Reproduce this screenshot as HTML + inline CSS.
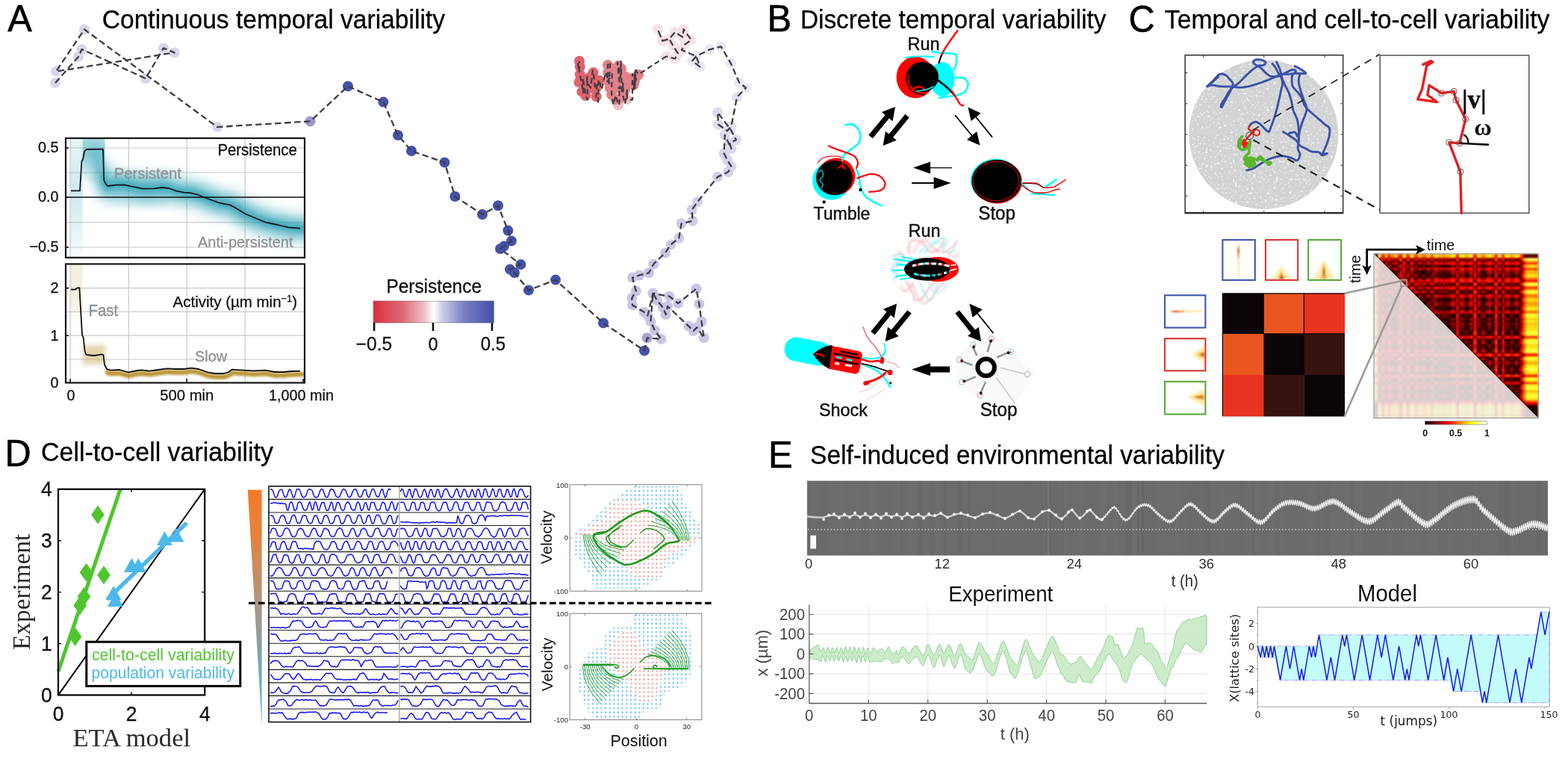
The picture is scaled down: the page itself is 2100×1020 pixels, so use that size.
<!DOCTYPE html>
<html lang="en"><head><meta charset="utf-8"><title>Behavioral variability figure</title>
<style>html,body{margin:0;padding:0;background:#fff;overflow:hidden}svg{display:block}</style></head>
<body>
<svg width="2100" height="1020" viewBox="0 0 2100 1020" font-family="'Liberation Sans', sans-serif">
<rect width="2100" height="1020" fill="#fff"/>
<g id="panel_a">
<g stroke="#000" stroke-width="0.6"><text x="10.2" y="42.2" font-size="50.75" fill="#000" textLength="32.6" lengthAdjust="spacingAndGlyphs">A</text></g>
<g stroke="#000" stroke-width="0.3"><text x="136.7" y="37.6" font-size="34.93" fill="#000" textLength="459.3" lengthAdjust="spacingAndGlyphs">Continuous temporal variability</text></g>
<circle cx="74.0" cy="111.0" r="7.0" fill="#d8d6eb"/><circle cx="105.0" cy="76.0" r="7.0" fill="#d8d6eb"/><circle cx="109.6" cy="66.0" r="7.0" fill="#d8d6eb"/><circle cx="195.0" cy="105.0" r="7.0" fill="#d8d6eb"/><circle cx="219.0" cy="64.4" r="7.0" fill="#d8d6eb"/><circle cx="233.6" cy="70.4" r="7.0" fill="#d8d6eb"/><circle cx="75.0" cy="95.6" r="7.0" fill="#d8d6eb"/><circle cx="113.0" cy="39.4" r="7.0" fill="#d8d6eb"/><circle cx="291.0" cy="170.0" r="7.0" fill="#d8d6eb"/>
<circle cx="415.5" cy="162.4" r="7.0" fill="#9c98d0"/>
<circle cx="885.5" cy="453.9" r="7.0" fill="#c9c6e5"/><circle cx="876.8" cy="442.1" r="7.0" fill="#c9c6e5"/><circle cx="871.4" cy="430.4" r="7.0" fill="#c9c6e5"/><circle cx="874.5" cy="392.7" r="7.0" fill="#c9c6e5"/><circle cx="880.0" cy="402.0" r="7.0" fill="#c9c6e5"/><circle cx="887.8" cy="411.6" r="7.0" fill="#c9c6e5"/><circle cx="891.7" cy="421.0" r="7.0" fill="#c9c6e5"/><circle cx="894.1" cy="410.0" r="7.0" fill="#c9c6e5"/><circle cx="922.3" cy="436.6" r="7.0" fill="#c9c6e5"/><circle cx="928.6" cy="443.0" r="7.0" fill="#c9c6e5"/><circle cx="933.3" cy="438.2" r="7.0" fill="#c9c6e5"/><circle cx="942.7" cy="452.3" r="7.0" fill="#c9c6e5"/><circle cx="939.6" cy="430.4" r="7.0" fill="#c9c6e5"/><circle cx="936.4" cy="406.9" r="7.0" fill="#c9c6e5"/><circle cx="932.5" cy="386.5" r="7.0" fill="#c9c6e5"/><circle cx="908.2" cy="406.0" r="7.0" fill="#c9c6e5"/><circle cx="896.5" cy="396.7" r="7.0" fill="#c9c6e5"/><circle cx="874.5" cy="392.7" r="7.0" fill="#c9c6e5"/><circle cx="867.4" cy="422.5" r="7.0" fill="#c9c6e5"/><circle cx="862.7" cy="417.8" r="7.0" fill="#c9c6e5"/><circle cx="847.0" cy="408.4" r="7.0" fill="#c9c6e5"/><circle cx="846.3" cy="399.0" r="7.0" fill="#c9c6e5"/><circle cx="851.8" cy="389.6" r="7.0" fill="#c9c6e5"/><circle cx="847.0" cy="371.6" r="7.0" fill="#c9c6e5"/><circle cx="856.5" cy="368.4" r="7.0" fill="#c9c6e5"/><circle cx="869.0" cy="365.3" r="7.0" fill="#c9c6e5"/><circle cx="875.3" cy="353.5" r="7.0" fill="#c9c6e5"/><circle cx="891.0" cy="338.4" r="7.0" fill="#c9c6e5"/>
<circle cx="866.7" cy="452.3" r="7.0" fill="#a7a4d7"/>
<circle cx="898.5" cy="327.4" r="7.0" fill="#cdcae7"/>
<circle cx="909.3" cy="318.7" r="7.0" fill="#cecbe7"/>
<circle cx="912.6" cy="299.3" r="7.0" fill="#cfcce8"/>
<circle cx="927.7" cy="295.7" r="7.0" fill="#d0cde8"/>
<circle cx="926.6" cy="281.0" r="7.0" fill="#d1cee9"/>
<circle cx="934.1" cy="270.2" r="7.0" fill="#d2cfe9"/>
<circle cx="961.1" cy="236.8" r="7.0" fill="#d3d0ea"/>
<circle cx="975.1" cy="230.3" r="7.0" fill="#d4d2ea"/>
<circle cx="979.4" cy="222.8" r="7.0" fill="#d5d3eb"/>
<circle cx="974.0" cy="214.1" r="7.0" fill="#d6d4eb"/>
<circle cx="969.7" cy="205.5" r="7.0" fill="#d7d5ec"/>
<circle cx="970.8" cy="180.7" r="7.0" fill="#d8d6ec"/>
<circle cx="979.4" cy="199.0" r="7.0" fill="#d9d7ed"/>
<circle cx="977.3" cy="191.5" r="7.0" fill="#dad8ed"/>
<circle cx="985.9" cy="187.2" r="7.0" fill="#dbdaee"/>
<circle cx="978.3" cy="173.1" r="7.0" fill="#dcdbee"/>
<circle cx="961.1" cy="150.5" r="7.0" fill="#dddcef"/>
<circle cx="962.2" cy="166.7" r="7.0" fill="#deddef"/>
<circle cx="974.0" cy="175.3" r="7.0" fill="#dfdef0"/>
<circle cx="979.4" cy="168.8" r="7.0" fill="#e0dff0"/>
<circle cx="987.0" cy="130.0" r="7.0" fill="#e2e1f1"/>
<circle cx="999.1" cy="117.7" r="7.0" fill="#e9e8f4"/><circle cx="990.1" cy="110.6" r="7.0" fill="#e9e8f4"/><circle cx="978.6" cy="84.3" r="7.0" fill="#e9e8f4"/><circle cx="965.7" cy="62.4" r="7.0" fill="#e9e8f4"/><circle cx="950.3" cy="66.3" r="7.0" fill="#e9e8f4"/><circle cx="932.3" cy="75.3" r="7.0" fill="#e9e8f4"/><circle cx="927.1" cy="81.7" r="7.0" fill="#e9e8f4"/><circle cx="937.4" cy="89.4" r="7.0" fill="#e9e8f4"/><circle cx="932.3" cy="75.3" r="7.0" fill="#e9e8f4"/>
<circle cx="913.0" cy="66.9" r="7.0" fill="#f5e3e7"/><circle cx="916.9" cy="59.9" r="7.0" fill="#f5e3e7"/><circle cx="925.9" cy="53.4" r="7.0" fill="#f5e3e7"/><circle cx="915.6" cy="39.3" r="7.0" fill="#f5e3e7"/><circle cx="914.3" cy="49.6" r="7.0" fill="#f5e3e7"/><circle cx="904.0" cy="43.1" r="7.0" fill="#f5e3e7"/><circle cx="896.3" cy="52.1" r="7.0" fill="#f5e3e7"/><circle cx="887.3" cy="54.7" r="7.0" fill="#f5e3e7"/><circle cx="880.9" cy="39.3" r="7.0" fill="#f5e3e7"/><circle cx="887.3" cy="54.7" r="7.0" fill="#f5e3e7"/><circle cx="896.3" cy="52.1" r="7.0" fill="#f5e3e7"/><circle cx="901.4" cy="61.1" r="7.0" fill="#f5e3e7"/><circle cx="907.9" cy="71.4" r="7.0" fill="#f5e3e7"/><circle cx="904.0" cy="78.5" r="7.0" fill="#f5e3e7"/><circle cx="892.4" cy="75.3" r="7.0" fill="#f5e3e7"/>
<circle cx="828.1" cy="140.9" r="7.0" fill="#f0c0c8"/><circle cx="839.7" cy="133.1" r="7.0" fill="#f0c0c8"/><circle cx="826.0" cy="136.0" r="7.0" fill="#f0c0c8"/>
<circle cx="855.1" cy="99.7" r="7.0" fill="#e4808a"/><circle cx="848.7" cy="113.9" r="7.0" fill="#e4808a"/><circle cx="852.6" cy="102.3" r="7.0" fill="#e4808a"/><circle cx="834.6" cy="129.3" r="7.0" fill="#e4808a"/><circle cx="832.0" cy="99.7" r="7.0" fill="#e4808a"/><circle cx="828.1" cy="88.1" r="7.0" fill="#e4808a"/><circle cx="828.1" cy="117.7" r="7.0" fill="#e4808a"/><circle cx="819.1" cy="126.7" r="7.0" fill="#e4808a"/><circle cx="814.0" cy="86.9" r="7.0" fill="#e4808a"/><circle cx="815.3" cy="110.0" r="7.0" fill="#e4808a"/><circle cx="814.0" cy="97.1" r="7.0" fill="#e4808a"/><circle cx="816.6" cy="117.7" r="7.0" fill="#e4808a"/><circle cx="824.3" cy="99.7" r="7.0" fill="#e4808a"/><circle cx="824.3" cy="110.0" r="7.0" fill="#e4808a"/><circle cx="832.0" cy="110.0" r="7.0" fill="#e4808a"/><circle cx="837.1" cy="120.3" r="7.0" fill="#e4808a"/><circle cx="832.0" cy="130.6" r="7.0" fill="#e4808a"/><circle cx="824.3" cy="133.1" r="7.0" fill="#e4808a"/><circle cx="842.3" cy="110.0" r="7.0" fill="#e4808a"/><circle cx="844.9" cy="104.9" r="7.0" fill="#e4808a"/><circle cx="850.0" cy="108.7" r="7.0" fill="#e4808a"/><circle cx="820.4" cy="92.0" r="7.0" fill="#e4808a"/><circle cx="832.0" cy="92.0" r="7.0" fill="#e4808a"/><circle cx="837.1" cy="102.3" r="7.0" fill="#e4808a"/>
<circle cx="802.4" cy="107.4" r="7.0" fill="#e0636d"/><circle cx="798.6" cy="129.3" r="7.0" fill="#e0636d"/><circle cx="794.7" cy="97.1" r="7.0" fill="#e0636d"/><circle cx="785.7" cy="110.0" r="7.0" fill="#e0636d"/><circle cx="784.4" cy="128.0" r="7.0" fill="#e0636d"/><circle cx="776.7" cy="99.7" r="7.0" fill="#e0636d"/><circle cx="776.0" cy="81.7" r="7.0" fill="#e0636d"/><circle cx="776.7" cy="89.4" r="7.0" fill="#e0636d"/><circle cx="780.6" cy="104.9" r="7.0" fill="#e0636d"/><circle cx="789.6" cy="103.6" r="7.0" fill="#e0636d"/><circle cx="792.1" cy="117.7" r="7.0" fill="#e0636d"/><circle cx="785.7" cy="119.0" r="7.0" fill="#e0636d"/><circle cx="798.6" cy="117.7" r="7.0" fill="#e0636d"/><circle cx="796.0" cy="110.0" r="7.0" fill="#e0636d"/><circle cx="779.3" cy="122.9" r="7.0" fill="#e0636d"/><circle cx="775.4" cy="110.0" r="7.0" fill="#e0636d"/>
<circle cx="466.0" cy="115.4" r="7.0" fill="#4452a9"/><circle cx="513.4" cy="136.6" r="7.0" fill="#4452a9"/><circle cx="533.0" cy="181.0" r="7.0" fill="#4452a9"/><circle cx="551.0" cy="202.0" r="7.0" fill="#4452a9"/><circle cx="595.4" cy="217.4" r="7.0" fill="#4452a9"/><circle cx="609.4" cy="263.0" r="7.0" fill="#4452a9"/><circle cx="646.0" cy="287.0" r="7.0" fill="#4452a9"/><circle cx="667.0" cy="275.3" r="7.0" fill="#4452a9"/><circle cx="680.4" cy="308.6" r="7.0" fill="#4452a9"/><circle cx="685.0" cy="322.6" r="7.0" fill="#4452a9"/><circle cx="675.0" cy="329.6" r="7.0" fill="#4452a9"/><circle cx="670.0" cy="333.0" r="7.0" fill="#4452a9"/><circle cx="697.4" cy="354.0" r="7.0" fill="#4452a9"/><circle cx="683.0" cy="360.6" r="7.0" fill="#4452a9"/><circle cx="689.0" cy="365.0" r="7.0" fill="#4452a9"/><circle cx="708.0" cy="388.4" r="7.0" fill="#4452a9"/><circle cx="744.0" cy="374.6" r="7.0" fill="#4452a9"/><circle cx="808.0" cy="432.4" r="7.0" fill="#4452a9"/><circle cx="863.0" cy="469.4" r="7.0" fill="#4452a9"/>
<path d="M74.0 111.0 L105.0 76.0 L109.6 66.0 L195.0 105.0 L219.0 64.4 L233.6 70.4 L75.0 95.6 L113.0 39.4 L291.0 170.0 L415.5 162.4 L466.0 115.4 L513.4 136.6 L533.0 181.0 L551.0 202.0 L595.4 217.4 L609.4 263.0 L646.0 287.0 L667.0 275.3 L680.4 308.6 L685.0 322.6 L675.0 329.6 L670.0 333.0 L697.4 354.0 L683.0 360.6 L689.0 365.0 L708.0 388.4 L744.0 374.6 L808.0 432.4 L863.0 469.4 L866.7 452.3 L885.5 453.9 L876.8 442.1 L871.4 430.4 L874.5 392.7 L880.0 402.0 L887.8 411.6 L891.7 421.0 L894.1 410.0 L922.3 436.6 L928.6 443.0 L933.3 438.2 L942.7 452.3 L939.6 430.4 L936.4 406.9 L932.5 386.5 L908.2 406.0 L896.5 396.7 L874.5 392.7 L867.4 422.5 L862.7 417.8 L847.0 408.4 L846.3 399.0 L851.8 389.6 L847.0 371.6 L856.5 368.4 L869.0 365.3 L875.3 353.5 L891.0 338.4 L898.5 327.4 L909.3 318.7 L912.6 299.3 L927.7 295.7 L926.6 281.0 L934.1 270.2 L961.1 236.8 L975.1 230.3 L979.4 222.8 L974.0 214.1 L969.7 205.5 L970.8 180.7 L979.4 199.0 L977.3 191.5 L985.9 187.2 L978.3 173.1 L961.1 150.5 L962.2 166.7 L974.0 175.3 L979.4 168.8 L987.0 130.0 L999.1 117.7 L990.1 110.6 L978.6 84.3 L965.7 62.4 L950.3 66.3 L932.3 75.3 L927.1 81.7 L937.4 89.4 L932.3 75.3 L913.0 66.9 L916.9 59.9 L925.9 53.4 L915.6 39.3 L914.3 49.6 L904.0 43.1 L896.3 52.1 L887.3 54.7 L880.9 39.3 L887.3 54.7 L896.3 52.1 L901.4 61.1 L907.9 71.4 L904.0 78.5 L892.4 75.3" fill="none" stroke="#3d3e43" stroke-width="2.3" stroke-dasharray="8.5 4.5" stroke-linejoin="round"/>
<path d="M892.4 75.3 L855.1 99.7 L851.4 93.8 L850.1 121.0 L848.7 113.9 L850.8 95.6 L848.4 119.9 L852.6 102.3 L846.9 99.4 L847.0 133.6 L839.7 133.1 L840.0 120.6 L837.1 138.8 L834.6 129.3 L834.5 111.4 L833.0 122.5 L832.0 99.7 L831.7 82.0 L830.9 103.7 L828.1 88.1 L826.9 83.2 L830.3 118.6 L828.1 117.7 L829.4 117.5 L829.4 140.0 L828.1 140.0 L824.5 127.6 L821.8 140.0 L819.1 126.7 L819.7 99.2 L813.5 108.9 L814.0 86.9 L817.2 83.1 L815.6 111.7 L815.3 110.0 L811.0 97.2 L805.8 119.9 L802.4 107.4 L801.6 106.9 L801.0 136.4 L798.6 129.3 L799.4 111.5 L797.0 116.1 L794.7 97.1 L793.9 94.1 L791.1 117.3 L785.7 110.0 L786.5 102.7 L786.8 133.6 L784.4 128.0 L780.5 104.1 L781.4 124.1 L776.7 99.7 L774.0 85.1 L775.7 95.9 L776.0 82.0" fill="none" stroke="#3d3e43" stroke-width="2.2" stroke-dasharray="7 4.5" stroke-linejoin="round"/>
<defs><filter id="bl5" x="-20%" y="-100%" width="140%" height="300%"><feGaussianBlur stdDeviation="5"/></filter><filter id="bl7" x="-20%" y="-100%" width="140%" height="300%"><feGaussianBlur stdDeviation="7"/></filter><filter id="bl15" x="-20%" y="-100%" width="140%" height="300%"><feGaussianBlur stdDeviation="1.4"/></filter><filter id="bl2" x="-20%" y="-100%" width="140%" height="300%"><feGaussianBlur stdDeviation="2"/></filter><filter id="bl3" x="-20%" y="-100%" width="140%" height="300%"><feGaussianBlur stdDeviation="3"/></filter><clipPath id="cpA1"><rect x="88" y="185" width="320" height="160"/></clipPath><clipPath id="cpA2"><rect x="88" y="353" width="320" height="160"/></clipPath><linearGradient id="gPers" x1="0" x2="1" y1="0" y2="0"><stop offset="0" stop-color="#d8303b"/><stop offset="0.25" stop-color="#df6b78"/><stop offset="0.43" stop-color="#f0c4cb"/><stop offset="0.5" stop-color="#ffffff"/><stop offset="0.57" stop-color="#d0cfe8"/><stop offset="0.75" stop-color="#7a80c2"/><stop offset="1" stop-color="#4050a8"/></linearGradient><linearGradient id="gT1" x1="0" x2="0" y1="0" y2="1"><stop offset="0" stop-color="#5fb5c3" stop-opacity="0.14"/><stop offset="0.45" stop-color="#5fb5c3" stop-opacity="0.3"/><stop offset="1" stop-color="#5fb5c3" stop-opacity="0.05"/></linearGradient><linearGradient id="gT2" x1="0" x2="0" y1="0" y2="1"><stop offset="0" stop-color="#4fb0c0" stop-opacity="0.45"/><stop offset="0.35" stop-color="#4fb0c0" stop-opacity="0.65"/><stop offset="1" stop-color="#4fb0c0" stop-opacity="0"/></linearGradient><linearGradient id="gY1" x1="0" x2="0" y1="0" y2="1"><stop offset="0" stop-color="#d8c68a" stop-opacity="0.25"/><stop offset="0.5" stop-color="#d8c68a" stop-opacity="0.3"/><stop offset="1" stop-color="#d8c68a" stop-opacity="0"/></linearGradient></defs>
<path d="M94.2 185V345M94.2 353V513M172.4 185V345M172.4 353V513M250.2 185V345M250.2 353V513M328.2 185V345M328.2 353V513M88 198H408M88 231H408M88 297.6H408M88 331H408M88 385.6H408M88 417.4H408M88 449.2H408M88 481H408" stroke="#c9cacc" stroke-width="1.2" fill="none"/>
<g clip-path="url(#cpA1)">
<rect x="94.5" y="185" width="16" height="160" fill="url(#gT1)"/>
<rect x="110.5" y="185" width="30" height="60" fill="url(#gT2)"/>
<path d="M141.0 249.0 L141.0 245.0 L144.0 249.0 L156.0 247.6 L166.0 247.4 L176.0 249.6 L192.0 252.6 L206.0 252.4 L217.0 251.0 L226.0 252.0 L236.0 255.6 L246.0 257.6 L256.0 258.4 L266.0 261.0 L278.0 266.0 L294.0 271.6 L308.0 274.4 L315.0 278.0 L328.0 286.0 L342.0 292.0 L356.0 297.6 L372.0 301.0 L386.0 304.4 L402.0 305.6 L420.0 306.0" fill="none" stroke="#3ba8ba" stroke-width="44" opacity="0.28" filter="url(#bl7)"/>
<path d="M141.0 249.0 L141.0 245.0 L144.0 249.0 L156.0 247.6 L166.0 247.4 L176.0 249.6 L192.0 252.6 L206.0 252.4 L217.0 251.0 L226.0 252.0 L236.0 255.6 L246.0 257.6 L256.0 258.4 L266.0 261.0 L278.0 266.0 L294.0 271.6 L308.0 274.4 L315.0 278.0 L328.0 286.0 L342.0 292.0 L356.0 297.6 L372.0 301.0 L386.0 304.4 L402.0 305.6 L420.0 306.0" fill="none" stroke="#3ba8ba" stroke-width="28" opacity="0.45" filter="url(#bl5)"/>
<path d="M141.0 249.0 L141.0 245.0 L144.0 249.0 L156.0 247.6 L166.0 247.4 L176.0 249.6 L192.0 252.6 L206.0 252.4 L217.0 251.0 L226.0 252.0 L236.0 255.6 L246.0 257.6 L256.0 258.4 L266.0 261.0 L278.0 266.0 L294.0 271.6 L308.0 274.4 L315.0 278.0 L328.0 286.0 L342.0 292.0 L356.0 297.6 L372.0 301.0 L386.0 304.4 L402.0 305.6 L420.0 306.0" fill="none" stroke="#2ea0b4" stroke-width="12" opacity="0.7" filter="url(#bl3)"/>
<rect x="146" y="232" width="80" height="44" fill="#4fb0c0" opacity="0.22" filter="url(#bl5)"/>
</g>
<path d="M88 264H408" stroke="#111" stroke-width="1.6"/>
<path d="M95.0 255.4 L107.0 255.4 L109.4 216.0 L111.0 213.0 L113.0 203.0 L115.6 200.0 L138.0 199.6 L139.2 241.0 L141.0 245.0 L144.0 249.0 L156.0 247.6 L166.0 247.4 L176.0 249.6 L192.0 252.6 L206.0 252.4 L217.0 251.0 L226.0 252.0 L236.0 255.6 L246.0 257.6 L256.0 258.4 L266.0 261.0 L278.0 266.0 L294.0 271.6 L308.0 274.4 L315.0 278.0 L328.0 286.0 L342.0 292.0 L356.0 297.6 L372.0 301.0 L386.0 304.4 L402.0 305.6" fill="none" stroke="#101820" stroke-width="1.8" stroke-linejoin="round"/>
<rect x="88" y="185" width="320" height="159.8" fill="none" stroke="#151515" stroke-width="2.2"/>
<path d="M88 198h4M88 264h4M88 331h4" stroke="#111" stroke-width="1.6"/>
<g stroke="#111" stroke-width="0.3">
<text x="51.1" y="204.4" font-size="20.59" fill="#111" textLength="27.5" lengthAdjust="spacingAndGlyphs">0.5</text>
<text x="51.1" y="270.4" font-size="20.59" fill="#111" textLength="27.5" lengthAdjust="spacingAndGlyphs">0.0</text>
<text x="39.5" y="337.4" font-size="20.59" fill="#111" textLength="39.1" lengthAdjust="spacingAndGlyphs">−0.5</text>
<text x="291.4" y="208.0" font-size="21.21" fill="#111" textLength="106.5" lengthAdjust="spacingAndGlyphs">Persistence</text>
<g stroke="#8d9296"><text x="152.8" y="238.6" font-size="21.04" fill="#8d9296" textLength="90.0" lengthAdjust="spacingAndGlyphs">Persistent</text>
<text x="265.0" y="331.0" font-size="20.75" fill="#8d9296" textLength="127.5" lengthAdjust="spacingAndGlyphs">Anti-persistent</text></g></g>
<g clip-path="url(#cpA2)">
<rect x="94.5" y="353" width="16" height="80" fill="url(#gY1)"/>
<rect x="111" y="462" width="30" height="26" fill="#c9ab5c" opacity="0.5" filter="url(#bl3)"/>
<path d="M141.0 499.0 L143.0 498.5 L148.0 500.1 L160.0 499.5 L172.0 502.9 L184.0 500.5 L190.0 499.9 L200.0 501.1 L212.0 499.5 L224.0 497.9 L236.0 498.5 L246.0 498.5 L256.0 497.1 L266.0 498.5 L278.0 502.9 L288.0 504.5 L300.0 504.5 L306.0 502.5 L311.0 499.1 L326.0 500.1 L340.0 500.9 L356.0 500.1 L368.0 502.5 L380.0 502.5 L390.0 501.5 L402.0 501.1 L410.0 501.0" fill="none" stroke="#b5912e" stroke-width="6.5" opacity="0.95" filter="url(#bl15)"/>
</g>
<path d="M95.0 387.6 L101.0 387.6 L103.0 385.6 L106.4 385.2 L110.0 448.0 L111.6 452.0 L113.6 470.0 L115.6 475.0 L126.0 476.0 L136.0 474.4 L138.4 475.0 L140.0 488.0 L143.0 494.0 L148.0 495.6 L160.0 495.0 L172.0 498.4 L184.0 496.0 L190.0 495.4 L200.0 496.6 L212.0 495.0 L224.0 493.4 L236.0 494.0 L246.0 494.0 L256.0 492.6 L266.0 494.0 L278.0 498.4 L288.0 500.0 L300.0 500.0 L306.0 498.0 L311.0 494.6 L326.0 495.6 L340.0 496.4 L356.0 495.6 L368.0 498.0 L380.0 498.0 L390.0 497.0 L402.0 496.6" fill="none" stroke="#101010" stroke-width="1.8" stroke-linejoin="round"/>
<rect x="88" y="353.4" width="320" height="159" fill="none" stroke="#151515" stroke-width="2.2"/>
<path d="M88 385.6h4M88 449.2h4M94.2 512v-5M250.2 512v-5M406 512v-5" stroke="#111" stroke-width="1.6"/>
<g stroke="#111" stroke-width="0.3">
<text x="67.6" y="392.0" font-size="20.59" fill="#111" textLength="11.0" lengthAdjust="spacingAndGlyphs">2</text>
<text x="67.6" y="455.6" font-size="20.59" fill="#111" textLength="11.0" lengthAdjust="spacingAndGlyphs">1</text>
<text x="67.6" y="518.8" font-size="20.59" fill="#111" textLength="11.0" lengthAdjust="spacingAndGlyphs">0</text>
<text x="89.5" y="536.4" font-size="20.59" fill="#111" textLength="11.0" lengthAdjust="spacingAndGlyphs">0</text>
<text x="214.2" y="536.4" font-size="21.1" fill="#111" textLength="72.2" lengthAdjust="spacingAndGlyphs">500 min</text>
<text x="360.0" y="536.4" font-size="20.59" fill="#111" textLength="87.0" lengthAdjust="spacingAndGlyphs">1,000 min</text>
<text x="231.6" y="411" font-size="21.1" fill="#111" textLength="166.4" lengthAdjust="spacingAndGlyphs">Activity (µm min<tspan dy="-7.4" font-size="13.2">−1</tspan><tspan dy="7.4">)</tspan></text>
<g stroke="#8d9296"><text x="118.4" y="423.0" font-size="21.31" fill="#8d9296" textLength="39.8" lengthAdjust="spacingAndGlyphs">Fast</text>
<text x="261.1" y="483.6" font-size="20.55" fill="#8d9296" textLength="42.8" lengthAdjust="spacingAndGlyphs">Slow</text></g></g>
<rect x="499.8" y="402.7" width="161.8" height="29.6" fill="url(#gPers)"/>
<path d="M501.1 432v11M580 432v11M659 432v11" stroke="#111" stroke-width="2.6"/>
<path d="M499.8 403.4H661.6M499.8 431.6H661.6" stroke="#555" stroke-width="1.4" opacity="0.3"/>
<g stroke="#111" stroke-width="0.3"><text x="517.4" y="392.4" font-size="25.41" fill="#111" textLength="127.6" lengthAdjust="spacingAndGlyphs">Persistence</text>
<text x="476.8" y="468.8" font-size="25.49" fill="#111" textLength="48.4" lengthAdjust="spacingAndGlyphs">−0.5</text>
<text x="573.4" y="468.8" font-size="24.54" fill="#111" textLength="13.1" lengthAdjust="spacingAndGlyphs">0</text>
<text x="643.7" y="468.8" font-size="25.01" fill="#111" textLength="33.4" lengthAdjust="spacingAndGlyphs">0.5</text></g>
</g>
<g id="panel_b">
<defs><filter id="blB" x="-30%" y="-30%" width="160%" height="160%"><feGaussianBlur stdDeviation="0.5"/></filter><filter id="blB2" x="-30%" y="-30%" width="160%" height="160%"><feGaussianBlur stdDeviation="1.4"/></filter></defs>
<g filter="url(#blB)">
<ellipse cx="1226" cy="103.5" rx="25.5" ry="28" fill="#ff0000"/>
<ellipse cx="1262" cy="106" rx="16.5" ry="23" fill="#00ffff"/>
<path d="M1248.0 69.0 L1249.1 69.2 L1250.4 69.4 L1252.1 69.6 L1253.9 69.9 L1255.9 70.2 L1258.0 70.5 L1260.0 70.8 L1262.0 71.0 L1264.1 71.2 L1266.4 71.3 L1268.8 71.3 L1271.2 71.4 L1273.6 71.5 L1275.7 71.7 L1277.6 72.0 L1279.0 72.5 L1280.0 73.1 L1280.6 73.9 L1281.0 74.7 L1281.2 75.7 L1281.2 76.7 L1281.1 77.7 L1281.0 78.9 L1281.0 80.0 L1281.0 81.2 L1280.9 82.6 L1280.7 84.1 L1280.5 85.6 L1280.2 87.1 L1279.9 88.5 L1279.5 89.8 L1279.0 91.0 L1278.4 92.0 L1277.6 93.0 L1276.8 93.9 L1275.9 94.7 L1275.0 95.4 L1274.2 96.0 L1273.5 96.6 L1273.0 97.0" fill="none" stroke="#00ffff" stroke-width="2.6" stroke-linecap="round" stroke-linejoin="round" />
<path d="M1274.0 105.0 L1275.2 104.9 L1276.9 104.6 L1278.9 104.3 L1281.0 104.0 L1283.3 103.8 L1285.4 103.6 L1287.4 103.7 L1289.0 104.0 L1290.4 104.5 L1291.7 105.3 L1292.9 106.2 L1294.0 107.2 L1294.9 108.4 L1295.6 109.6 L1296.2 110.8 L1296.5 112.0 L1296.6 113.3 L1296.4 114.7 L1296.0 116.2 L1295.5 117.7 L1294.8 119.2 L1293.9 120.6 L1293.0 121.9 L1292.0 123.0 L1290.9 123.9 L1289.8 124.6 L1288.5 125.2 L1287.1 125.7 L1285.6 126.2 L1283.9 126.6 L1282.0 127.0 L1280.0 127.5 L1277.6 128.0 L1274.7 128.5 L1271.5 129.0 L1268.2 129.5 L1265.1 130.0 L1262.2 130.4 L1259.8 130.7 L1258.0 131.0" fill="none" stroke="#00ffff" stroke-width="2.6" stroke-linecap="round" stroke-linejoin="round" />
<path d="M1213.0 77.0 L1214.3 76.9 L1216.0 76.7 L1218.0 76.5 L1220.2 76.2 L1222.7 76.0 L1225.1 75.8 L1227.6 75.6 L1230.0 75.5 L1232.5 75.5 L1235.3 75.5 L1238.2 75.6 L1241.1 75.7 L1243.8 75.8 L1246.3 75.9 L1248.4 75.9 L1250.0 76.0" fill="none" stroke="#00ffff" stroke-width="2.2" stroke-linecap="round" stroke-linejoin="round" />
<ellipse cx="1235.5" cy="103" rx="21.5" ry="20.3" fill="#000"/>
<path d="M1216.0 95.0 L1215.8 96.0 L1215.4 97.3 L1215.0 98.9 L1214.5 100.6 L1214.1 102.5 L1213.8 104.4 L1213.8 106.2 L1214.0 108.0 L1214.5 109.8 L1215.1 111.6 L1215.9 113.6 L1216.9 115.5 L1218.0 117.4 L1219.2 119.1 L1220.5 120.7 L1222.0 122.0 L1223.7 123.1 L1225.8 124.0 L1228.1 124.8 L1230.5 125.4 L1232.8 125.9 L1234.9 126.3 L1236.7 126.7 L1238.0 127.0" fill="none" stroke="#000" stroke-width="1.4" stroke-linecap="round" stroke-linejoin="round" />
<path d="M1217.0 100.0 L1217.0 101.0 L1216.8 102.2 L1216.7 103.8 L1216.6 105.5 L1216.5 107.3 L1216.5 109.0 L1216.7 110.6 L1217.0 112.0 L1217.6 113.2 L1218.4 114.5 L1219.4 115.6 L1220.5 116.8 L1221.6 117.8 L1222.6 118.7 L1223.4 119.4 L1224.0 120.0" fill="none" stroke="#ff0000" stroke-width="1.4" stroke-linecap="round" stroke-linejoin="round" />
<path d="M1222.0 119.0 L1222.8 118.7 L1223.9 118.3 L1225.2 117.8 L1226.6 117.2 L1228.1 116.7 L1229.5 116.3 L1230.9 116.1 L1232.0 116.0 L1233.0 116.2 L1233.9 116.6 L1234.8 117.2 L1235.6 117.8 L1236.4 118.5 L1237.0 119.1 L1237.6 119.6 L1238.0 120.0" fill="none" stroke="#ff0000" stroke-width="2.5" stroke-linecap="round" stroke-linejoin="round" />
<path d="M1228.0 122.0 L1228.9 121.9 L1230.2 121.7 L1231.7 121.5 L1233.4 121.2 L1235.1 121.0 L1236.9 120.7 L1238.5 120.4 L1240.0 120.0 L1241.4 119.6 L1242.9 119.0 L1244.3 118.5 L1245.8 117.9 L1247.1 117.3 L1248.2 116.8 L1249.2 116.3 L1250.0 116.0" fill="none" stroke="#00ffff" stroke-width="1.6" stroke-linecap="round" stroke-linejoin="round" />
<path d="M1282.4 41.0 L1281.7 42.0 L1280.7 43.3 L1279.5 44.9 L1278.2 46.7 L1276.9 48.6 L1275.5 50.5 L1274.2 52.3 L1273.0 54.0 L1271.9 55.6 L1270.7 57.3 L1269.6 58.9 L1268.5 60.6 L1267.4 62.2 L1266.4 63.7 L1265.5 65.2 L1264.7 66.5 L1264.0 67.7 L1263.4 68.9 L1262.8 70.0 L1262.3 71.0 L1261.9 72.0 L1261.6 72.8 L1261.3 73.5 L1261.0 74.0" fill="none" stroke="#ff0000" stroke-width="2.4" stroke-linecap="round" stroke-linejoin="round" />
<path d="M1261.0 74.0 L1260.8 74.4 L1260.6 74.9 L1260.4 75.5 L1260.1 76.2 L1259.8 76.9 L1259.5 77.6 L1259.2 78.3 L1259.0 79.0 L1258.8 79.7 L1258.6 80.4 L1258.4 81.1 L1258.2 81.8 L1258.0 82.5 L1257.8 83.1 L1257.7 83.6 L1257.6 84.0" fill="none" stroke="#000" stroke-width="2.2" stroke-linecap="round" stroke-linejoin="round" />
<path d="M1256.5 107.6 L1256.9 107.9 L1257.4 108.4 L1258.1 108.9 L1258.8 109.4 L1259.6 110.0 L1260.4 110.7 L1261.2 111.3 L1262.0 112.0 L1262.8 112.7 L1263.7 113.3 L1264.6 114.0 L1265.5 114.7 L1266.5 115.5 L1267.4 116.3 L1268.4 117.1 L1269.4 118.0 L1270.4 119.0 L1271.6 120.1 L1272.8 121.4 L1274.0 122.6 L1275.1 123.8 L1276.1 124.9 L1277.0 125.8 L1277.6 126.5" fill="none" stroke="#000" stroke-width="2.6" stroke-linecap="round" stroke-linejoin="round" />
<path d="M1275.0 122.0 L1275.4 122.6 L1275.9 123.4 L1276.5 124.3 L1277.1 125.4 L1277.8 126.5 L1278.6 127.7 L1279.3 128.9 L1280.0 130.0 L1280.7 131.2 L1281.5 132.5 L1282.3 133.8 L1283.1 135.1 L1283.9 136.4 L1284.6 137.6 L1285.3 138.7 L1286.0 139.5 L1286.6 140.1 L1287.2 140.5 L1287.8 140.8 L1288.4 140.9 L1288.9 141.0 L1289.3 141.1 L1289.7 141.1 L1290.0 141.2" fill="none" stroke="#ff0000" stroke-width="2.4" stroke-linecap="round" stroke-linejoin="round" />
</g>
<g filter="url(#blB)">
<ellipse cx="1113.6" cy="242" rx="25.6" ry="25.4" fill="#00ffff"/>
<ellipse cx="1120.4" cy="236" rx="25" ry="24.6" fill="#ff0000"/>
<ellipse cx="1117.4" cy="238" rx="24.4" ry="23.3" fill="#000"/>
<path d="M1095.0 218.0 L1095.6 217.4 L1096.3 216.6 L1097.2 215.7 L1098.1 214.6 L1099.2 213.6 L1100.4 212.6 L1101.7 211.7 L1103.0 211.0 L1104.5 210.5 L1106.1 210.1 L1107.9 209.7 L1109.7 209.4 L1111.6 209.2 L1113.4 209.1 L1115.3 209.0 L1117.0 209.0 L1118.8 209.1 L1120.6 209.3 L1122.5 209.5 L1124.4 209.9 L1126.1 210.2 L1127.7 210.5 L1129.0 210.8 L1130.0 211.0" fill="none" stroke="#ff0000" stroke-width="1.2" stroke-linecap="round" stroke-linejoin="round" />
<path d="M1096.0 230.0 L1096.4 229.8 L1097.0 229.4 L1097.7 229.0 L1098.4 228.5 L1099.2 228.1 L1099.9 227.8 L1100.5 227.8 L1101.0 228.0 L1101.4 228.5 L1101.6 229.4 L1101.9 230.4 L1102.1 231.6 L1102.2 232.8 L1102.2 234.0 L1102.1 235.1 L1102.0 236.0 L1101.7 236.8 L1101.2 237.4 L1100.5 238.1 L1099.8 238.6 L1099.1 239.2 L1098.6 239.8 L1098.2 240.3 L1098.0 241.0 L1098.2 241.7 L1098.6 242.5 L1099.2 243.2 L1099.9 244.0 L1100.6 244.8 L1101.2 245.5 L1101.7 246.3 L1102.0 247.0 L1102.0 247.7 L1101.9 248.4 L1101.6 249.2 L1101.2 249.9 L1100.9 250.5 L1100.5 251.1 L1100.2 251.6 L1100.0 252.0" fill="none" stroke="#00ffff" stroke-width="1.1" stroke-linecap="round" stroke-linejoin="round" />
<path d="M1122.0 225.0 L1122.5 224.7 L1123.1 224.3 L1123.9 223.8 L1124.8 223.2 L1125.6 222.7 L1126.5 222.3 L1127.3 222.1 L1128.0 222.0 L1128.7 222.2 L1129.4 222.7 L1130.0 223.3 L1130.7 224.1 L1131.2 224.8 L1131.7 225.4 L1131.9 225.8 L1132.0 226.0 L1131.8 225.9 L1131.2 225.6 L1130.4 225.1 L1129.6 224.6 L1128.7 223.9 L1127.9 223.3 L1127.3 222.6 L1127.0 222.0 L1127.0 221.4 L1127.3 220.7 L1127.7 220.0 L1128.2 219.2 L1128.7 218.6 L1129.3 217.9 L1129.7 217.4 L1130.0 217.0" fill="none" stroke="#ff0000" stroke-width="1.8" stroke-linecap="round" stroke-linejoin="round" />
<path d="M1132.4 167.2 L1133.1 167.1 L1134.0 166.9 L1135.2 166.7 L1136.4 166.4 L1137.7 166.2 L1139.0 166.2 L1140.3 166.2 L1141.4 166.5 L1142.5 167.0 L1143.6 167.6 L1144.8 168.4 L1145.9 169.3 L1147.0 170.2 L1147.9 171.2 L1148.8 172.3 L1149.6 173.3 L1150.3 174.4 L1150.8 175.5 L1151.3 176.7 L1151.7 178.0 L1152.0 179.2 L1152.3 180.5 L1152.4 181.8 L1152.4 183.0 L1152.3 184.2 L1152.1 185.4 L1151.8 186.6 L1151.5 187.8 L1151.0 189.0 L1150.4 190.2 L1149.7 191.4 L1148.9 192.5 L1147.9 193.6 L1146.8 194.7 L1145.4 195.8 L1144.0 196.8 L1142.6 197.9 L1141.2 198.9 L1139.8 199.8 L1138.6 200.8 L1137.4 201.7 L1136.3 202.6 L1135.1 203.5 L1134.0 204.3 L1132.9 205.1 L1132.0 205.9 L1131.1 206.8 L1130.4 207.6 L1129.8 208.5 L1129.4 209.5 L1129.1 210.5 L1128.8 211.5 L1128.7 212.4 L1128.5 213.3 L1128.4 214.0 L1128.3 214.5" fill="none" stroke="#00ffff" stroke-width="2.6" stroke-linecap="round" stroke-linejoin="round" />
<path d="M1109.8 195.3 L1110.5 195.6 L1111.4 196.0 L1112.5 196.5 L1113.7 197.1 L1115.1 197.6 L1116.5 198.2 L1117.9 198.8 L1119.4 199.4 L1120.9 200.0 L1122.6 200.6 L1124.4 201.1 L1126.2 201.8 L1128.0 202.4 L1129.8 203.0 L1131.5 203.6 L1133.1 204.2 L1134.6 204.8 L1136.2 205.3 L1137.7 205.8 L1139.2 206.4 L1140.5 206.9 L1141.8 207.6 L1143.0 208.2 L1144.1 209.0 L1145.0 209.9 L1145.9 210.8 L1146.7 211.9 L1147.3 212.9 L1147.9 214.0 L1148.3 215.2 L1148.7 216.2 L1148.9 217.3 L1149.0 218.4 L1148.8 219.5 L1148.6 220.7 L1148.2 221.9 L1147.8 223.0 L1147.4 224.0 L1147.1 224.9 L1146.9 225.5" fill="none" stroke="#ff0000" stroke-width="2.2" stroke-linecap="round" stroke-linejoin="round" />
<path d="M1146.9 226.9 L1147.2 227.5 L1147.5 228.2 L1148.0 229.1 L1148.5 230.1 L1149.0 231.3 L1149.5 232.5 L1149.9 233.8 L1150.3 235.1 L1150.6 236.6 L1150.8 238.2 L1151.0 239.9 L1151.2 241.7 L1151.4 243.5 L1151.7 245.3 L1152.0 247.1 L1152.4 248.8 L1152.9 250.4 L1153.4 252.1 L1153.9 253.7 L1154.5 255.3 L1155.2 256.9 L1156.0 258.4 L1156.8 259.9 L1157.8 261.2 L1158.9 262.4 L1160.1 263.6 L1161.5 264.7 L1162.9 265.7 L1164.4 266.7 L1165.9 267.6 L1167.4 268.5 L1168.8 269.4 L1170.3 270.3 L1172.0 271.2 L1173.7 272.0 L1175.3 272.8 L1176.9 273.6 L1178.4 274.2 L1179.6 274.8 L1180.5 275.2" fill="none" stroke="#00ffff" stroke-width="2.6" stroke-linecap="round" stroke-linejoin="round" />
<path d="M1148.2 238.5 L1148.9 238.2 L1149.9 237.9 L1151.1 237.4 L1152.4 236.9 L1153.8 236.4 L1155.2 235.9 L1156.5 235.5 L1157.8 235.1 L1159.0 234.7 L1160.2 234.4 L1161.3 234.0 L1162.5 233.7 L1163.7 233.4 L1164.9 233.2 L1166.1 233.0 L1167.4 233.0 L1168.7 233.1 L1170.1 233.2 L1171.6 233.4 L1173.1 233.7 L1174.5 234.1 L1175.9 234.6 L1177.2 235.1 L1178.4 235.8 L1179.5 236.6 L1180.6 237.6 L1181.7 238.7 L1182.7 239.9 L1183.6 241.1 L1184.4 242.4 L1184.9 243.6 L1185.3 244.7 L1185.5 245.8 L1185.4 246.9 L1185.2 248.1 L1184.8 249.2 L1184.4 250.2 L1183.8 251.2 L1183.2 252.1 L1182.5 252.9 L1181.7 253.5 L1180.9 254.1 L1179.9 254.5 L1178.9 254.9 L1177.8 255.2 L1176.6 255.5 L1175.5 255.8 L1174.3 256.0 L1173.0 256.2 L1171.6 256.4 L1170.1 256.5 L1168.6 256.6 L1167.2 256.7 L1165.9 256.7 L1164.8 256.8 L1164.0 256.8" fill="none" stroke="#ff0000" stroke-width="2.2" stroke-linecap="round" stroke-linejoin="round" />
<circle cx="1152.4" cy="254" r="2.2" fill="#000"/><circle cx="1103.6" cy="270.4" r="2.2" fill="#000"/>
</g>
<g filter="url(#blB)">
<ellipse cx="1333.6" cy="241.8" rx="33.8" ry="29.4" fill="#00ffff"/>
<ellipse cx="1335.4" cy="243.2" rx="33.6" ry="29.2" fill="#ff0000"/>
<ellipse cx="1334.6" cy="242.5" rx="33.2" ry="28.8" fill="#000"/>
<ellipse cx="1334" cy="242.5" rx="30.6" ry="26.4" fill="none" stroke="#ff0000" stroke-width="0.9"/>
<path d="M1400.8 249.8 L1401.4 249.4 L1402.1 248.9 L1403.0 248.3 L1404.0 247.7 L1405.0 247.0 L1406.1 246.3 L1407.1 245.6 L1408.0 245.0 L1408.9 244.4 L1409.8 243.7 L1410.8 243.1 L1411.7 242.4 L1412.6 241.8 L1413.3 241.3 L1414.0 240.8 L1414.5 240.5" fill="none" stroke="#00ffff" stroke-width="2.6" stroke-linecap="round" stroke-linejoin="round" />
<path d="M1381.2 259.1 L1382.3 259.2 L1383.8 259.3 L1385.6 259.4 L1387.6 259.5 L1389.7 259.6 L1391.8 259.7 L1394.0 259.9 L1396.0 260.0 L1398.1 260.1 L1400.4 260.3 L1402.8 260.4 L1405.2 260.6 L1407.4 260.8 L1409.5 260.9 L1411.2 261.0 L1412.5 261.1" fill="none" stroke="#00ffff" stroke-width="2.2" stroke-linecap="round" stroke-linejoin="round" />
<path d="M1368.0 243.0 L1368.3 243.5 L1368.6 244.1 L1369.0 244.8 L1369.5 245.6 L1370.0 246.4 L1370.6 247.3 L1371.3 248.2 L1372.0 249.0 L1372.9 249.9 L1373.9 250.8 L1375.1 251.9 L1376.2 252.9 L1377.4 253.8 L1378.5 254.7 L1379.4 255.5 L1380.0 256.0" fill="none" stroke="#00ffff" stroke-width="2.2" stroke-linecap="round" stroke-linejoin="round" />
<path d="M1369.4 244.9 L1370.9 244.9 L1372.9 244.9 L1375.4 244.8 L1378.1 244.8 L1380.9 244.8 L1383.5 244.9 L1386.0 245.1 L1388.0 245.4 L1389.6 245.9 L1391.0 246.5 L1392.2 247.3 L1393.3 248.2 L1394.3 249.0 L1395.3 249.8 L1396.5 250.4 L1397.8 250.8 L1399.3 251.1 L1400.9 251.2 L1402.5 251.3 L1404.2 251.2 L1405.9 251.1 L1407.5 250.9 L1409.1 250.6 L1410.6 250.3 L1412.0 249.9 L1413.3 249.3 L1414.6 248.6 L1415.9 247.8 L1417.1 247.1 L1418.2 246.3 L1419.3 245.6 L1420.4 244.9 L1421.4 244.3 L1422.5 243.6 L1423.5 243.0 L1424.5 242.4 L1425.3 241.8 L1426.1 241.3 L1426.8 240.8 L1427.3 240.5" fill="none" stroke="#ff0000" stroke-width="1.5" stroke-linecap="round" stroke-linejoin="round" />
<path d="M1368.4 247.8 L1369.2 248.4 L1370.2 249.1 L1371.4 250.0 L1372.7 251.0 L1374.1 252.1 L1375.5 253.1 L1376.9 254.0 L1378.2 254.7 L1379.4 255.3 L1380.5 255.9 L1381.7 256.4 L1382.8 256.9 L1384.0 257.3 L1385.2 257.6 L1386.5 257.9 L1388.0 258.1 L1389.6 258.2 L1391.4 258.3 L1393.4 258.3 L1395.4 258.3 L1397.3 258.2 L1399.3 258.0 L1401.1 257.8 L1402.7 257.6 L1404.2 257.3 L1405.6 256.9 L1406.9 256.4 L1408.1 255.9 L1409.3 255.4 L1410.4 254.9 L1411.4 254.5 L1412.5 254.2 L1413.5 254.0 L1414.6 253.8 L1415.6 253.6 L1416.6 253.5 L1417.4 253.4 L1418.2 253.3 L1418.9 253.3 L1419.4 253.2" fill="none" stroke="#ff0000" stroke-width="1.5" stroke-linecap="round" stroke-linejoin="round" />
<path d="M1371.0 245.5 L1372.4 245.5 L1374.2 245.6 L1376.4 245.6 L1378.9 245.6 L1381.4 245.7 L1383.9 245.9 L1386.1 246.1 L1388.0 246.4 L1389.6 246.9 L1391.2 247.5 L1392.6 248.3 L1394.0 249.1 L1395.2 249.8 L1396.2 250.6 L1397.1 251.2 L1397.8 251.6" fill="none" stroke="#000" stroke-width="0.9" stroke-linecap="round" stroke-linejoin="round" />
</g>
<g filter="url(#blB2)" opacity="0.6">
<path d="M1218.0 340.0 L1217.9 338.9 L1217.6 337.5 L1217.3 335.8 L1216.9 333.9 L1216.7 331.9 L1216.6 330.1 L1216.7 328.4 L1217.0 327.0 L1217.6 325.8 L1218.5 324.8 L1219.6 323.8 L1220.8 322.9 L1222.1 322.1 L1223.4 321.6 L1224.8 321.2 L1226.0 321.0 L1227.2 321.1 L1228.4 321.3 L1229.7 321.8 L1230.9 322.4 L1232.2 323.2 L1233.5 324.1 L1234.7 325.0 L1236.0 326.0 L1237.2 327.2 L1238.5 328.7 L1239.7 330.3 L1240.9 332.1 L1242.1 333.7 L1243.4 335.2 L1244.7 336.3 L1246.0 337.0 L1247.4 337.3 L1249.0 337.2 L1250.6 337.0 L1252.2 336.4 L1253.9 335.7 L1255.4 334.9 L1256.8 334.0 L1258.0 333.0 L1259.1 331.8 L1260.1 330.3 L1261.0 328.6 L1261.8 326.8 L1262.5 325.0 L1263.1 323.3 L1263.6 322.0 L1264.0 321.0" fill="none" stroke="#ee6a74" stroke-width="1.8" stroke-linecap="round" stroke-linejoin="round" />
<path d="M1238.0 338.0 L1238.9 337.2 L1240.2 336.2 L1241.6 335.0 L1243.2 333.6 L1245.0 332.2 L1246.7 330.7 L1248.4 329.3 L1250.0 328.0 L1251.5 326.6 L1253.1 325.1 L1254.8 323.5 L1256.4 322.0 L1257.9 320.6 L1259.4 319.4 L1260.8 318.5 L1262.0 318.0 L1263.1 318.0 L1264.2 318.3 L1265.2 318.9 L1266.1 319.8 L1266.9 320.8 L1267.5 321.8 L1267.9 322.9 L1268.0 324.0 L1267.7 325.1 L1266.9 326.4 L1265.8 327.7 L1264.6 329.1 L1263.5 330.5 L1262.5 331.8 L1262.0 333.0 L1262.0 334.0 L1262.7 334.9 L1263.9 335.8 L1265.4 336.6 L1267.2 337.4 L1269.1 337.9 L1271.0 338.3 L1272.7 338.3 L1274.0 338.0 L1275.1 337.2 L1276.1 335.8 L1277.0 334.1 L1277.8 332.2 L1278.5 330.3 L1279.1 328.5 L1279.6 327.0 L1280.0 326.0" fill="none" stroke="#46dbe2" stroke-width="1.8" stroke-linecap="round" stroke-linejoin="round" />
<path d="M1224.0 338.0 L1224.4 337.0 L1225.0 335.7 L1225.6 334.0 L1226.4 332.2 L1227.2 330.4 L1228.1 328.7 L1229.0 327.2 L1230.0 326.0 L1231.1 325.0 L1232.2 324.1 L1233.5 323.3 L1234.8 322.6 L1236.1 322.1 L1237.4 321.8 L1238.7 321.8 L1240.0 322.0 L1241.2 322.6 L1242.5 323.6 L1243.7 324.9 L1244.9 326.4 L1246.1 327.9 L1247.4 329.5 L1248.7 330.8 L1250.0 332.0 L1251.4 333.0 L1252.8 334.1 L1254.3 335.2 L1255.8 336.1 L1257.3 337.0 L1258.8 337.6 L1260.4 337.9 L1262.0 338.0 L1263.7 337.7 L1265.5 337.0 L1267.5 336.0 L1269.4 334.9 L1271.2 333.6 L1273.0 332.3 L1274.6 331.1 L1276.0 330.0 L1277.2 328.9 L1278.2 327.8 L1279.1 326.6 L1279.9 325.5 L1280.5 324.4 L1281.1 323.4 L1281.6 322.6 L1282.0 322.0" fill="none" stroke="#ee6a74" stroke-width="1.4" stroke-linecap="round" stroke-linejoin="round" />
<path d="M1230.0 340.0 L1230.8 339.2 L1231.8 338.1 L1232.9 336.8 L1234.2 335.4 L1235.7 333.9 L1237.1 332.5 L1238.6 331.1 L1240.0 330.0 L1241.4 329.0 L1242.8 328.0 L1244.3 327.0 L1245.8 326.1 L1247.3 325.3 L1248.8 324.7 L1250.4 324.2 L1252.0 324.0 L1253.8 324.0 L1255.7 324.4 L1257.7 324.9 L1259.8 325.6 L1261.7 326.4 L1263.4 327.0 L1264.9 327.6 L1266.0 328.0" fill="none" stroke="#46dbe2" stroke-width="1.4" stroke-linecap="round" stroke-linejoin="round" />
<path d="M1196.0 344.0 L1196.6 343.6 L1197.4 343.0 L1198.4 342.4 L1199.5 341.6 L1200.6 340.9 L1201.8 340.4 L1202.9 340.0 L1204.0 340.0 L1205.1 340.3 L1206.5 340.8 L1207.9 341.5 L1209.2 342.4 L1210.5 343.3 L1211.4 344.3 L1212.0 345.2 L1212.0 346.0 L1211.4 346.7 L1210.3 347.4 L1208.7 348.1 L1206.9 348.8 L1204.9 349.5 L1203.0 350.2 L1201.3 351.1 L1200.0 352.0 L1198.9 353.1 L1197.7 354.3 L1196.6 355.6 L1195.6 357.0 L1194.8 358.4 L1194.2 359.7 L1193.9 360.9 L1194.0 362.0 L1194.6 362.9 L1195.8 363.8 L1197.4 364.5 L1199.1 365.2 L1200.9 365.9 L1202.4 366.6 L1203.5 367.3 L1204.0 368.0 L1203.8 368.8 L1203.1 369.6 L1202.0 370.5 L1200.6 371.4 L1199.2 372.2 L1197.9 372.9 L1196.7 373.5 L1196.0 374.0" fill="none" stroke="#46dbe2" stroke-width="2.2" stroke-linecap="round" stroke-linejoin="round" />
<path d="M1202.0 336.0 L1202.7 336.4 L1203.7 337.0 L1204.9 337.6 L1206.2 338.4 L1207.5 339.2 L1208.7 340.1 L1209.5 341.0 L1210.0 342.0 L1210.1 343.1 L1209.9 344.3 L1209.6 345.6 L1209.0 347.0 L1208.3 348.4 L1207.6 349.7 L1206.8 350.9 L1206.0 352.0 L1205.1 353.0 L1204.1 353.9 L1202.9 354.8 L1201.8 355.6 L1200.6 356.4 L1199.5 357.0 L1198.6 357.6 L1198.0 358.0" fill="none" stroke="#ee6a74" stroke-width="1.3" stroke-linecap="round" stroke-linejoin="round" />
<path d="M1214.0 376.0 L1214.6 377.3 L1215.5 379.0 L1216.6 381.1 L1217.8 383.4 L1218.9 385.7 L1220.1 388.0 L1221.1 390.2 L1222.0 392.0 L1222.7 393.6 L1223.1 395.2 L1223.5 396.8 L1223.9 398.2 L1224.2 399.5 L1224.7 400.6 L1225.2 401.5 L1226.0 402.0 L1227.0 402.2 L1228.1 402.2 L1229.4 401.9 L1230.8 401.4 L1232.1 400.7 L1233.5 399.9 L1234.8 399.0 L1236.0 398.0 L1237.1 396.9 L1238.1 395.5 L1239.1 393.9 L1240.1 392.2 L1241.1 390.6 L1242.0 388.9 L1243.0 387.4 L1244.0 386.0 L1245.1 384.8 L1246.2 383.5 L1247.4 382.4 L1248.5 381.2 L1249.6 380.2 L1250.6 379.3 L1251.4 378.6 L1252.0 378.0" fill="none" stroke="#ee6a74" stroke-width="1.8" stroke-linecap="round" stroke-linejoin="round" />
<path d="M1232.0 378.0 L1232.6 379.5 L1233.5 381.5 L1234.5 384.0 L1235.6 386.6 L1236.8 389.3 L1238.0 391.9 L1239.0 394.2 L1240.0 396.0 L1240.8 397.4 L1241.6 398.7 L1242.4 399.8 L1243.1 400.8 L1243.8 401.4 L1244.5 401.9 L1245.3 402.1 L1246.0 402.0 L1246.8 401.5 L1247.5 400.7 L1248.3 399.5 L1249.1 398.1 L1249.9 396.6 L1250.6 395.0 L1251.3 393.5 L1252.0 392.0 L1252.6 390.5 L1253.2 388.9 L1253.8 387.1 L1254.4 385.4 L1254.9 383.7 L1255.3 382.2 L1255.7 380.9 L1256.0 380.0" fill="none" stroke="#46dbe2" stroke-width="1.8" stroke-linecap="round" stroke-linejoin="round" />
<path d="M1206.0 384.0 L1206.4 384.6 L1207.0 385.5 L1207.6 386.5 L1208.4 387.6 L1209.2 388.7 L1210.1 389.5 L1211.0 390.0 L1212.0 390.0 L1213.1 389.4 L1214.5 388.4 L1215.9 387.0 L1217.4 385.4 L1218.8 383.7 L1220.1 382.2 L1221.2 380.9 L1222.0 380.0" fill="none" stroke="#ee6a74" stroke-width="1.5" stroke-linecap="round" stroke-linejoin="round" />
<path d="M1222.0 378.0 L1222.4 379.4 L1223.0 381.4 L1223.6 383.8 L1224.4 386.4 L1225.2 389.0 L1226.1 391.6 L1227.0 394.0 L1228.0 396.0 L1229.1 397.8 L1230.2 399.5 L1231.5 401.1 L1232.8 402.6 L1234.1 403.9 L1235.4 405.0 L1236.7 405.7 L1238.0 406.0 L1239.2 405.9 L1240.5 405.4 L1241.8 404.6 L1243.0 403.5 L1244.2 402.2 L1245.5 400.8 L1246.8 399.4 L1248.0 398.0 L1249.3 396.5 L1250.5 394.7 L1251.8 392.8 L1253.1 390.9 L1254.4 388.9 L1255.6 387.1 L1256.8 385.4 L1258.0 384.0 L1259.2 382.8 L1260.3 381.8 L1261.5 380.9 L1262.6 380.1 L1263.7 379.5 L1264.6 378.9 L1265.4 378.4 L1266.0 378.0" fill="none" stroke="#ee6a74" stroke-width="1.3" stroke-linecap="round" stroke-linejoin="round" />
<path d="M1244.0 380.0 L1244.6 381.0 L1245.4 382.5 L1246.3 384.3 L1247.4 386.2 L1248.5 388.1 L1249.7 389.8 L1250.8 391.2 L1252.0 392.0 L1253.2 392.3 L1254.5 392.3 L1255.8 391.9 L1257.1 391.4 L1258.5 390.6 L1259.7 389.8 L1260.9 388.9 L1262.0 388.0 L1263.0 387.0 L1263.9 385.7 L1264.8 384.2 L1265.6 382.8 L1266.4 381.3 L1267.0 379.9 L1267.6 378.8 L1268.0 378.0" fill="none" stroke="#46dbe2" stroke-width="1.3" stroke-linecap="round" stroke-linejoin="round" />
<path d="M1270.0 340.0 L1270.8 340.4 L1271.9 341.0 L1273.3 341.6 L1274.8 342.4 L1276.2 343.1 L1277.7 343.6 L1279.0 344.0 L1280.0 344.0 L1280.8 343.7 L1281.5 343.1 L1282.1 342.2 L1282.6 341.2 L1283.1 340.2 L1283.4 339.3 L1283.7 338.5 L1284.0 338.0" fill="none" stroke="#ee6a74" stroke-width="1.2" stroke-linecap="round" stroke-linejoin="round" />
</g>
<g filter="url(#blB)">
<ellipse cx="1256" cy="360.5" rx="28" ry="16.4" fill="#ff0000"/>
<path d="M1198 347L1226 351" stroke="#00ffff" stroke-width="2.6" stroke-linecap="round" opacity="0.9"/>
<path d="M1202 354L1226 356" stroke="#00ffff" stroke-width="2.8" stroke-linecap="round" opacity="0.9"/>
<path d="M1196 362L1226 361" stroke="#00ffff" stroke-width="2.6" stroke-linecap="round" opacity="0.9"/>
<path d="M1200 370L1228 366" stroke="#00ffff" stroke-width="2.6" stroke-linecap="round" opacity="0.9"/>
<path d="M1208 344L1230 348" stroke="#00ffff" stroke-width="2.2" stroke-linecap="round" opacity="0.9"/>
<path d="M1206 374L1230 370" stroke="#00ffff" stroke-width="2" stroke-linecap="round" opacity="0.9"/>
<ellipse cx="1241.5" cy="360.5" rx="30.5" ry="15.2" fill="#000"/>
<path d="M1222 356 Q1246 349 1272 356.5" stroke="#fff" stroke-width="3" fill="none" stroke-dasharray="5 3 7 2.5"/>
<path d="M1222 356 Q1246 349 1272 356.5" stroke="#ff0000" stroke-width="3" fill="none" stroke-dasharray="0 5 3 9.5"/>
<path d="M1222 356 Q1246 349 1272 356.5" stroke="#00ffff" stroke-width="3" fill="none" stroke-dasharray="0 15 2.5 40"/>
<path d="M1224 366.5 Q1248 373 1272 363" stroke="#00ffff" stroke-width="3" fill="none" stroke-dasharray="6 3 4 3"/>
<path d="M1224 366.5 Q1248 373 1272 363" stroke="#ff0000" stroke-width="3" fill="none" stroke-dasharray="0 6 3 20"/>
<path d="M1224 366.5 Q1248 373 1272 363" stroke="#fff" stroke-width="3" fill="none" stroke-dasharray="0 13 3 12"/>
<path d="M1274.0 355.0 L1280.0 354.5" fill="none" stroke="#fff" stroke-width="1.4" stroke-linecap="round" stroke-linejoin="round" />
<path d="M1273.0 362.0 L1281.0 360.0" fill="none" stroke="#fff" stroke-width="1.4" stroke-linecap="round" stroke-linejoin="round" />
</g>
<g filter="url(#blB)">
<g transform="rotate(11 1100 475)">
<rect x="1050" y="458" width="62" height="32" rx="15" ry="15" fill="#00ffff"/>
<rect x="1108" y="460.5" width="46" height="31" rx="6" ry="6" fill="#ff0000"/>
<path d="M1089 476 Q1100 462 1112 459.5 L1114 491 Q1100 488 1089 476Z" fill="#000"/>
<path d="M1092 475.5 q6 -2 12 1" stroke="#ff0000" stroke-width="2.4" fill="none"/>
<path d="M1116 470 H1152 M1118 478 H1152 M1124 465.5 H1148" stroke="#000" stroke-width="2.2" fill="none"/>
<path d="M1120 474 h8 M1134 474.5 h8" stroke="#00ffff" stroke-width="2.4" fill="none"/>
<path d="M1120 482.5 h6 M1134 482 h9" stroke="#fff" stroke-width="3" fill="none"/>
</g>
<path d="M1154.0 481.0 L1154.9 481.3 L1156.2 481.6 L1157.7 482.1 L1159.4 482.6 L1161.1 483.0 L1162.9 483.5 L1164.5 483.8 L1166.0 484.0 L1167.4 484.0 L1168.7 483.9 L1170.1 483.7 L1171.4 483.5 L1172.6 483.3 L1173.8 483.1 L1175.0 483.0 L1176.0 483.0 L1177.0 483.2 L1177.9 483.5 L1178.8 484.0 L1179.6 484.4 L1180.4 484.9 L1181.0 485.4 L1181.6 485.7 L1182.0 486.0" fill="none" stroke="#ff0000" stroke-width="2.6" stroke-linecap="round" stroke-linejoin="round" />
<path d="M1154.0 487.0 L1155.1 487.2 L1156.6 487.5 L1158.3 487.9 L1160.2 488.2 L1162.3 488.7 L1164.3 489.1 L1166.2 489.6 L1168.0 490.0 L1169.6 490.5 L1171.1 490.9 L1172.6 491.4 L1174.1 491.9 L1175.6 492.5 L1177.0 493.0 L1178.5 493.5 L1180.0 494.0 L1181.6 494.5 L1183.3 495.1 L1185.0 495.7 L1186.8 496.2 L1188.4 496.8 L1189.8 497.3 L1191.1 497.7 L1192.0 498.0" fill="none" stroke="#000" stroke-width="1.8" stroke-linecap="round" stroke-linejoin="round" />
<path d="M1156.0 479.0 L1157.1 479.1 L1158.6 479.3 L1160.4 479.5 L1162.4 479.7 L1164.4 479.9 L1166.5 480.0 L1168.3 480.1 L1170.0 480.0 L1171.5 479.8 L1172.9 479.6 L1174.2 479.3 L1175.5 479.0 L1176.7 478.6 L1177.9 478.1 L1179.0 477.6 L1180.0 477.0 L1181.0 476.3 L1181.9 475.4 L1182.8 474.4 L1183.6 473.3 L1184.4 472.3 L1185.0 471.4 L1185.6 470.6 L1186.0 470.0" fill="none" stroke="#00ffff" stroke-width="2" stroke-linecap="round" stroke-linejoin="round" />
<path d="M1160.0 490.0 L1161.1 490.4 L1162.6 490.9 L1164.3 491.5 L1166.2 492.2 L1168.3 493.0 L1170.3 493.9 L1172.2 494.9 L1174.0 496.0 L1175.6 497.2 L1177.3 498.6 L1178.9 500.1 L1180.5 501.8 L1182.0 503.4 L1183.5 505.0 L1184.8 506.6 L1186.0 508.0 L1187.1 509.4 L1188.1 510.9 L1189.0 512.3 L1189.8 513.8 L1190.5 515.1 L1191.1 516.2 L1191.6 517.2 L1192.0 518.0" fill="none" stroke="#00ffff" stroke-width="2.4" stroke-linecap="round" stroke-linejoin="round" />
<path d="M1158.0 512.0 L1158.9 511.8 L1160.2 511.5 L1161.7 511.2 L1163.4 510.8 L1165.1 510.4 L1166.9 510.0 L1168.5 509.5 L1170.0 509.0 L1171.4 508.5 L1172.7 507.9 L1174.1 507.3 L1175.4 506.6 L1176.6 506.0 L1177.8 505.3 L1179.0 504.6 L1180.0 504.0 L1181.0 503.3 L1181.9 502.6 L1182.8 501.9 L1183.6 501.2 L1184.4 500.5 L1185.0 499.9 L1185.6 499.4 L1186.0 499.0" fill="none" stroke="#ff0000" stroke-width="3" stroke-linecap="round" stroke-linejoin="round" />
<path d="M1156.0 438.0 L1156.4 439.1 L1157.0 440.6 L1157.6 442.3 L1158.4 444.2 L1159.2 446.3 L1160.1 448.3 L1161.0 450.2 L1162.0 452.0 L1163.1 453.6 L1164.3 455.1 L1165.5 456.6 L1166.9 458.1 L1168.2 459.6 L1169.5 461.0 L1170.8 462.5 L1172.0 464.0 L1173.2 465.6 L1174.3 467.3 L1175.5 469.0 L1176.6 470.8 L1177.7 472.4 L1178.6 473.8 L1179.4 475.1 L1180.0 476.0" fill="none" stroke="#e8505c" stroke-width="1.8" stroke-linecap="round" stroke-linejoin="round" opacity="0.75" />
<ellipse cx="1181.5" cy="482" rx="2.6" ry="4.6" fill="#ff0000"/>
<ellipse cx="1192" cy="498.5" rx="3.4" ry="3.8" fill="#ff0000"/>
<ellipse cx="1160.5" cy="513" rx="4.4" ry="2.8" fill="#ff0000" transform="rotate(-18 1160 513)"/>
<path d="M1184.0 460.0 L1184.2 460.6 L1184.5 461.4 L1184.8 462.4 L1185.2 463.5 L1185.5 464.6 L1185.8 465.8 L1186.0 466.9 L1186.0 468.0 L1185.8 469.1 L1185.5 470.2 L1185.1 471.4 L1184.6 472.5 L1184.1 473.6 L1183.7 474.6 L1183.3 475.4 L1183.0 476.0" fill="none" stroke="#00ffff" stroke-width="2.2" stroke-linecap="round" stroke-linejoin="round" opacity="0.8" />
<path d="M1188.0 484.0 L1188.8 484.2 L1189.9 484.5 L1191.2 484.8 L1192.6 485.2 L1194.1 485.6 L1195.5 486.0 L1196.9 486.5 L1198.0 487.0 L1199.0 487.6 L1199.9 488.2 L1200.8 488.9 L1201.6 489.7 L1202.4 490.4 L1203.0 491.1 L1203.6 491.6 L1204.0 492.0" fill="none" stroke="#e8505c" stroke-width="1.2" stroke-linecap="round" stroke-linejoin="round" opacity="0.6" />
<path d="M1150.0 525.0 L1151.1 524.6 L1152.6 524.2 L1154.3 523.6 L1156.2 523.0 L1158.3 522.3 L1160.3 521.6 L1162.2 520.8 L1164.0 520.0 L1165.7 519.1 L1167.4 518.0 L1169.2 516.9 L1170.9 515.7 L1172.5 514.5 L1173.9 513.5 L1175.1 512.6 L1176.0 512.0" fill="none" stroke="#e8505c" stroke-width="1" stroke-linecap="round" stroke-linejoin="round" opacity="0.4" />
<path d="M1160.0 535.0 L1161.1 534.5 L1162.6 533.8 L1164.3 532.9 L1166.2 532.0 L1168.3 531.0 L1170.3 530.0 L1172.2 529.0 L1174.0 528.0 L1175.7 527.0 L1177.4 525.9 L1179.2 524.7 L1180.9 523.6 L1182.5 522.5 L1183.9 521.5 L1185.1 520.6 L1186.0 520.0" fill="none" stroke="#e8505c" stroke-width="1" stroke-linecap="round" stroke-linejoin="round" opacity="0.35" />
<circle cx="1192.6" cy="512.6" r="1.6" fill="#222"/>
</g>
<polygon points="1326,442 1384.7,500.6 1357.6,543 1282.4,519.4 1280,477" fill="#f9f9f9"/>
<g filter="url(#blB)">
<path d="M1308.2 475.9L1303.5 465.3" stroke="#808488" stroke-width="2.6" opacity="0.85" fill="none"/>
<circle cx="1303" cy="461.5" r="3.6" fill="#fff" stroke="#9fd0d4" stroke-width="1.2"/>
<circle cx="1304.1" cy="464.5" r="1.9" fill="#181818"/>
<circle cx="1304.4" cy="462.6" r="1.2" fill="#d02020"/>
<path d="M1322.4 471.2L1327 457" stroke="#808488" stroke-width="2.6" opacity="0.85" fill="none"/>
<circle cx="1327.8" cy="453.5" r="3.6" fill="#fff" stroke="#c9b0b4" stroke-width="1.2"/>
<circle cx="1326.9" cy="456.6" r="1.9" fill="#181818"/>
<circle cx="1328.4" cy="454.6" r="1.2" fill="#d02020"/>
<path d="M1335.3 478.2L1350.6 471.8" stroke="#808488" stroke-width="2.6" opacity="0.85" fill="none"/>
<circle cx="1353.5" cy="471" r="3.6" fill="#fff" stroke="#9fd0d4" stroke-width="1.2"/>
<circle cx="1350.5" cy="472.2" r="1.9" fill="#181818"/>
<circle cx="1353.4" cy="471.4" r="1.2" fill="#d02020"/>
<path d="M1340 492.4L1373 500.6" stroke="#808488" stroke-width="1.6" opacity="0.4" fill="none"/>
<circle cx="1376" cy="500.8" r="3.6" fill="#fff" stroke="#c9b0b4" stroke-width="1.2"/>
<path d="M1334.1 505.3L1358.8 539.4" stroke="#808488" stroke-width="1.6" opacity="0.4" fill="none"/>
<path d="M1320 511.2L1313 526.5" stroke="#808488" stroke-width="2.6" opacity="0.85" fill="none"/>
<circle cx="1312.4" cy="529" r="3.6" fill="#fff" stroke="#c9b0b4" stroke-width="1.2"/>
<circle cx="1313.7" cy="526.1" r="1.9" fill="#181818"/>
<circle cx="1313.9" cy="527.9" r="1.2" fill="#d02020"/>
<path d="M1307 504.1L1290.6 511.2" stroke="#808488" stroke-width="2.6" opacity="0.85" fill="none"/>
<circle cx="1288.2" cy="511.4" r="3.6" fill="#fff" stroke="#9fd0d4" stroke-width="1.2"/>
<circle cx="1291.2" cy="510.2" r="1.9" fill="#181818"/>
<circle cx="1290.3" cy="511.0" r="1.2" fill="#d02020"/>
<path d="M1302.4 488.8L1287 483" stroke="#808488" stroke-width="2.6" opacity="0.85" fill="none"/>
<circle cx="1285" cy="481.8" r="3.6" fill="#fff" stroke="#c9b0b4" stroke-width="1.2"/>
<circle cx="1288.0" cy="483.0" r="1.9" fill="#181818"/>
<circle cx="1287.1" cy="482.2" r="1.2" fill="#d02020"/>
<circle cx="1320.6" cy="491.8" r="11.3" fill="#fff" stroke="#000" stroke-width="6"/>
<circle cx="1320.6" cy="491.8" r="14.3" fill="none" stroke="#d05058" stroke-width="0.6" opacity="0.6"/>
</g>
<polygon points="1168.7,185.2 1190.9,158.3 1195.5,162.2 1199.0,143.0 1180.9,150.1 1185.5,153.9 1163.3,180.8" fill="#000"/><polygon points="1212.3,152.8 1190.6,179.6 1185.9,175.8 1182.6,195.0 1200.7,187.8 1196.0,184.0 1217.7,157.2" fill="#000"/><polygon points="1278.3,154.6 1300.9,182.0 1295.0,186.9 1312.4,194.6 1308.2,176.1 1302.3,180.9 1279.7,153.4" fill="#000"/><polygon points="1329.7,183.0 1307.8,156.2 1313.7,151.4 1296.4,143.6 1300.6,162.1 1306.4,157.3 1328.3,184.2" fill="#000"/><polygon points="1275.0,224.0 1246.0,224.0 1246.0,216.6 1223.0,224.6 1246.0,232.6 1246.0,225.2 1275.0,225.2" fill="#000"/><polygon points="1221.0,246.1 1250.6,246.1 1250.6,253.0 1273.6,245.0 1250.6,237.0 1250.6,243.9 1221.0,243.9" fill="#000"/><polygon points="1171.7,448.2 1193.0,421.8 1197.7,425.6 1201.0,406.4 1182.9,413.7 1187.6,417.4 1166.3,443.8" fill="#000"/><polygon points="1215.3,415.2 1193.7,441.6 1189.0,437.8 1185.6,457.0 1203.7,449.9 1199.1,446.1 1220.7,419.6" fill="#000"/><polygon points="1279.3,419.6 1300.6,446.0 1295.9,449.7 1314.0,457.0 1310.7,437.8 1306.0,441.6 1284.7,415.2" fill="#000"/><polygon points="1331.1,445.4 1309.8,419.1 1315.7,414.3 1298.4,406.4 1302.5,425.0 1308.4,420.2 1329.7,446.6" fill="#000"/><polygon points="1272.0,490.6 1246.0,490.6 1246.0,486.1 1221.0,494.6 1246.0,503.1 1246.0,498.6 1272.0,498.6" fill="#000"/>
<g stroke="#111" stroke-width="0.45">
<g stroke="none"><g stroke="#000" stroke-width="0.6"><text x="1027.5" y="42.2" font-size="50.75" fill="#000" textLength="32.6" lengthAdjust="spacingAndGlyphs">B</text></g></g>
<g stroke-width="0.3"><text x="1071.9" y="37.6" font-size="34.68" fill="#000" textLength="409.6" lengthAdjust="spacingAndGlyphs">Discrete temporal variability</text></g>
<text x="1215.5" y="67.0" font-size="24.37" fill="#111" textLength="43.0" lengthAdjust="spacingAndGlyphs">Run</text>
<text x="1216.5" y="317.0" font-size="24.37" fill="#111" textLength="43.0" lengthAdjust="spacingAndGlyphs">Run</text>
<text x="1089.5" y="294.0" font-size="23.95" fill="#111" textLength="75.9" lengthAdjust="spacingAndGlyphs">Tumble</text>
<text x="1310.3" y="294.0" font-size="25.13" fill="#111" textLength="49.7" lengthAdjust="spacingAndGlyphs">Stop</text>
<text x="1096.9" y="557.4" font-size="24.34" fill="#111" textLength="65.0" lengthAdjust="spacingAndGlyphs">Shock</text>
<text x="1312.7" y="557.4" font-size="25.13" fill="#111" textLength="49.7" lengthAdjust="spacingAndGlyphs">Stop</text>
</g>
</g>
<g id="panel_c">
<g stroke="#000" stroke-width="0.6"><text x="1511.6" y="42.6" font-size="50.75" fill="#000" textLength="35.2" lengthAdjust="spacingAndGlyphs">C</text></g>
<g stroke="#000" stroke-width="0.3"><text x="1559.8" y="37.6" font-size="35.09" fill="#000" textLength="515.7" lengthAdjust="spacingAndGlyphs">Temporal and cell-to-cell variability</text></g>
<defs><filter id="spk" x="0" y="0" width="100%" height="100%" color-interpolation-filters="sRGB"><feTurbulence type="fractalNoise" baseFrequency="0.33" numOctaves="2" seed="7"/><feColorMatrix values="0 0 0 0 1  0 0 0 0 1  0 0 0 0 1  3 3 3 0 -4.9"/><feComposite in2="SourceGraphic" operator="in"/></filter><filter id="hotf" x="0" y="0" width="100%" height="100%" color-interpolation-filters="sRGB"><feComponentTransfer><feFuncR type="table" tableValues="0.04 0.55 1 1 1 1 1 1 1"/><feFuncG type="table" tableValues="0 0.01 0.02 0.05 0.4 0.75 1 1 1"/><feFuncB type="table" tableValues="0 0.01 0.02 0.03 0.04 0.05 0.1 0.5 1"/></feComponentTransfer><feGaussianBlur stdDeviation="1.3"/></filter><linearGradient id="gsh" x1="0" x2="1" y1="0" y2="0"><stop offset="0.0000" stop-color="#dbdbdb"/><stop offset="0.0072" stop-color="#dbdbdb"/><stop offset="0.0144" stop-color="#dbdbdb"/><stop offset="0.0216" stop-color="#dbdbdb"/><stop offset="0.0288" stop-color="#0a0a0a"/><stop offset="0.0360" stop-color="#0c0c0c"/><stop offset="0.0432" stop-color="#424242"/><stop offset="0.0504" stop-color="#6f6f6f"/><stop offset="0.0576" stop-color="#808080"/><stop offset="0.0647" stop-color="#696969"/><stop offset="0.0719" stop-color="#3f3f3f"/><stop offset="0.0791" stop-color="#313131"/><stop offset="0.0863" stop-color="#707070"/><stop offset="0.0935" stop-color="#848484"/><stop offset="0.1007" stop-color="#505050"/><stop offset="0.1079" stop-color="#575757"/><stop offset="0.1151" stop-color="#4e4e4e"/><stop offset="0.1223" stop-color="#4d4d4d"/><stop offset="0.1295" stop-color="#3e3e3e"/><stop offset="0.1367" stop-color="#323232"/><stop offset="0.1439" stop-color="#4f4f4f"/><stop offset="0.1511" stop-color="#696969"/><stop offset="0.1583" stop-color="#757575"/><stop offset="0.1655" stop-color="#9f9f9f"/><stop offset="0.1727" stop-color="#707070"/><stop offset="0.1799" stop-color="#121212"/><stop offset="0.1871" stop-color="#1b1b1b"/><stop offset="0.1942" stop-color="#3e3e3e"/><stop offset="0.2014" stop-color="#737373"/><stop offset="0.2086" stop-color="#868686"/><stop offset="0.2158" stop-color="#656565"/><stop offset="0.2230" stop-color="#383838"/><stop offset="0.2302" stop-color="#181818"/><stop offset="0.2374" stop-color="#292929"/><stop offset="0.2446" stop-color="#494949"/><stop offset="0.2518" stop-color="#6a6a6a"/><stop offset="0.2590" stop-color="#6b6b6b"/><stop offset="0.2662" stop-color="#5b5b5b"/><stop offset="0.2734" stop-color="#434343"/><stop offset="0.2806" stop-color="#383838"/><stop offset="0.2878" stop-color="#494949"/><stop offset="0.2950" stop-color="#535353"/><stop offset="0.3022" stop-color="#5a5a5a"/><stop offset="0.3094" stop-color="#5a5a5a"/><stop offset="0.3165" stop-color="#4f4f4f"/><stop offset="0.3237" stop-color="#414141"/><stop offset="0.3309" stop-color="#363636"/><stop offset="0.3381" stop-color="#333333"/><stop offset="0.3453" stop-color="#505050"/><stop offset="0.3525" stop-color="#646464"/><stop offset="0.3597" stop-color="#747474"/><stop offset="0.3669" stop-color="#1d1d1d"/><stop offset="0.3741" stop-color="#323232"/><stop offset="0.3813" stop-color="#2b2b2b"/><stop offset="0.3885" stop-color="#2c2c2c"/><stop offset="0.3957" stop-color="#4a4a4a"/><stop offset="0.4029" stop-color="#494949"/><stop offset="0.4101" stop-color="#2e2e2e"/><stop offset="0.4173" stop-color="#383838"/><stop offset="0.4245" stop-color="#545454"/><stop offset="0.4317" stop-color="#454545"/><stop offset="0.4388" stop-color="#373737"/><stop offset="0.4460" stop-color="#494949"/><stop offset="0.4532" stop-color="#383838"/><stop offset="0.4604" stop-color="#3b3b3b"/><stop offset="0.4676" stop-color="#393939"/><stop offset="0.4748" stop-color="#232323"/><stop offset="0.4820" stop-color="#212121"/><stop offset="0.4892" stop-color="#2b2b2b"/><stop offset="0.4964" stop-color="#2d2d2d"/><stop offset="0.5036" stop-color="#7d7d7d"/><stop offset="0.5108" stop-color="#909090"/><stop offset="0.5180" stop-color="#3f3f3f"/><stop offset="0.5252" stop-color="#1f1f1f"/><stop offset="0.5324" stop-color="#2a2a2a"/><stop offset="0.5396" stop-color="#222222"/><stop offset="0.5468" stop-color="#1d1d1d"/><stop offset="0.5540" stop-color="#444444"/><stop offset="0.5612" stop-color="#454545"/><stop offset="0.5683" stop-color="#3b3b3b"/><stop offset="0.5755" stop-color="#323232"/><stop offset="0.5827" stop-color="#2f2f2f"/><stop offset="0.5899" stop-color="#131313"/><stop offset="0.5971" stop-color="#1e1e1e"/><stop offset="0.6043" stop-color="#424242"/><stop offset="0.6115" stop-color="#9b9b9b"/><stop offset="0.6187" stop-color="#989898"/><stop offset="0.6259" stop-color="#4f4f4f"/><stop offset="0.6331" stop-color="#2b2b2b"/><stop offset="0.6403" stop-color="#191919"/><stop offset="0.6475" stop-color="#2d2d2d"/><stop offset="0.6547" stop-color="#525252"/><stop offset="0.6619" stop-color="#4d4d4d"/><stop offset="0.6691" stop-color="#505050"/><stop offset="0.6763" stop-color="#464646"/><stop offset="0.6835" stop-color="#2d2d2d"/><stop offset="0.6906" stop-color="#323232"/><stop offset="0.6978" stop-color="#272727"/><stop offset="0.7050" stop-color="#161616"/><stop offset="0.7122" stop-color="#242424"/><stop offset="0.7194" stop-color="#404040"/><stop offset="0.7266" stop-color="#414141"/><stop offset="0.7338" stop-color="#393939"/><stop offset="0.7410" stop-color="#acacac"/><stop offset="0.7482" stop-color="#8e8e8e"/><stop offset="0.7554" stop-color="#161616"/><stop offset="0.7626" stop-color="#343434"/><stop offset="0.7698" stop-color="#343434"/><stop offset="0.7770" stop-color="#373737"/><stop offset="0.7842" stop-color="#848484"/><stop offset="0.7914" stop-color="#737373"/><stop offset="0.7986" stop-color="#212121"/><stop offset="0.8058" stop-color="#2b2b2b"/><stop offset="0.8129" stop-color="#2d2d2d"/><stop offset="0.8201" stop-color="#1c1c1c"/><stop offset="0.8273" stop-color="#313131"/><stop offset="0.8345" stop-color="#515151"/><stop offset="0.8417" stop-color="#454545"/><stop offset="0.8489" stop-color="#303030"/><stop offset="0.8561" stop-color="#3c3c3c"/><stop offset="0.8633" stop-color="#242424"/><stop offset="0.8705" stop-color="#1b1b1b"/><stop offset="0.8777" stop-color="#353535"/><stop offset="0.8849" stop-color="#383838"/><stop offset="0.8921" stop-color="#535353"/><stop offset="0.8993" stop-color="#747474"/><stop offset="0.9065" stop-color="#959595"/><stop offset="0.9137" stop-color="#b6b6b6"/><stop offset="0.9209" stop-color="#d7d7d7"/><stop offset="0.9281" stop-color="#e1e1e1"/><stop offset="0.9353" stop-color="#f8f8f8"/><stop offset="0.9424" stop-color="#e6e6e6"/><stop offset="0.9496" stop-color="#f2f2f2"/><stop offset="0.9568" stop-color="#e6e6e6"/><stop offset="0.9640" stop-color="#f5f5f5"/><stop offset="0.9712" stop-color="#efefef"/><stop offset="0.9784" stop-color="#e7e7e7"/><stop offset="0.9856" stop-color="#e4e4e4"/><stop offset="0.9928" stop-color="#f2f2f2"/><stop offset="1.0000" stop-color="#e2e2e2"/></linearGradient><linearGradient id="gsv" x1="0" x2="0" y1="0" y2="1"><stop offset="0.0000" stop-color="#dbdbdb"/><stop offset="0.0072" stop-color="#dbdbdb"/><stop offset="0.0144" stop-color="#dbdbdb"/><stop offset="0.0216" stop-color="#dbdbdb"/><stop offset="0.0288" stop-color="#0a0a0a"/><stop offset="0.0360" stop-color="#0c0c0c"/><stop offset="0.0432" stop-color="#424242"/><stop offset="0.0504" stop-color="#6f6f6f"/><stop offset="0.0576" stop-color="#808080"/><stop offset="0.0647" stop-color="#696969"/><stop offset="0.0719" stop-color="#3f3f3f"/><stop offset="0.0791" stop-color="#313131"/><stop offset="0.0863" stop-color="#707070"/><stop offset="0.0935" stop-color="#848484"/><stop offset="0.1007" stop-color="#505050"/><stop offset="0.1079" stop-color="#575757"/><stop offset="0.1151" stop-color="#4e4e4e"/><stop offset="0.1223" stop-color="#4d4d4d"/><stop offset="0.1295" stop-color="#3e3e3e"/><stop offset="0.1367" stop-color="#323232"/><stop offset="0.1439" stop-color="#4f4f4f"/><stop offset="0.1511" stop-color="#696969"/><stop offset="0.1583" stop-color="#757575"/><stop offset="0.1655" stop-color="#9f9f9f"/><stop offset="0.1727" stop-color="#707070"/><stop offset="0.1799" stop-color="#121212"/><stop offset="0.1871" stop-color="#1b1b1b"/><stop offset="0.1942" stop-color="#3e3e3e"/><stop offset="0.2014" stop-color="#737373"/><stop offset="0.2086" stop-color="#868686"/><stop offset="0.2158" stop-color="#656565"/><stop offset="0.2230" stop-color="#383838"/><stop offset="0.2302" stop-color="#181818"/><stop offset="0.2374" stop-color="#292929"/><stop offset="0.2446" stop-color="#494949"/><stop offset="0.2518" stop-color="#6a6a6a"/><stop offset="0.2590" stop-color="#6b6b6b"/><stop offset="0.2662" stop-color="#5b5b5b"/><stop offset="0.2734" stop-color="#434343"/><stop offset="0.2806" stop-color="#383838"/><stop offset="0.2878" stop-color="#494949"/><stop offset="0.2950" stop-color="#535353"/><stop offset="0.3022" stop-color="#5a5a5a"/><stop offset="0.3094" stop-color="#5a5a5a"/><stop offset="0.3165" stop-color="#4f4f4f"/><stop offset="0.3237" stop-color="#414141"/><stop offset="0.3309" stop-color="#363636"/><stop offset="0.3381" stop-color="#333333"/><stop offset="0.3453" stop-color="#505050"/><stop offset="0.3525" stop-color="#646464"/><stop offset="0.3597" stop-color="#747474"/><stop offset="0.3669" stop-color="#1d1d1d"/><stop offset="0.3741" stop-color="#323232"/><stop offset="0.3813" stop-color="#2b2b2b"/><stop offset="0.3885" stop-color="#2c2c2c"/><stop offset="0.3957" stop-color="#4a4a4a"/><stop offset="0.4029" stop-color="#494949"/><stop offset="0.4101" stop-color="#2e2e2e"/><stop offset="0.4173" stop-color="#383838"/><stop offset="0.4245" stop-color="#545454"/><stop offset="0.4317" stop-color="#454545"/><stop offset="0.4388" stop-color="#373737"/><stop offset="0.4460" stop-color="#494949"/><stop offset="0.4532" stop-color="#383838"/><stop offset="0.4604" stop-color="#3b3b3b"/><stop offset="0.4676" stop-color="#393939"/><stop offset="0.4748" stop-color="#232323"/><stop offset="0.4820" stop-color="#212121"/><stop offset="0.4892" stop-color="#2b2b2b"/><stop offset="0.4964" stop-color="#2d2d2d"/><stop offset="0.5036" stop-color="#7d7d7d"/><stop offset="0.5108" stop-color="#909090"/><stop offset="0.5180" stop-color="#3f3f3f"/><stop offset="0.5252" stop-color="#1f1f1f"/><stop offset="0.5324" stop-color="#2a2a2a"/><stop offset="0.5396" stop-color="#222222"/><stop offset="0.5468" stop-color="#1d1d1d"/><stop offset="0.5540" stop-color="#444444"/><stop offset="0.5612" stop-color="#454545"/><stop offset="0.5683" stop-color="#3b3b3b"/><stop offset="0.5755" stop-color="#323232"/><stop offset="0.5827" stop-color="#2f2f2f"/><stop offset="0.5899" stop-color="#131313"/><stop offset="0.5971" stop-color="#1e1e1e"/><stop offset="0.6043" stop-color="#424242"/><stop offset="0.6115" stop-color="#9b9b9b"/><stop offset="0.6187" stop-color="#989898"/><stop offset="0.6259" stop-color="#4f4f4f"/><stop offset="0.6331" stop-color="#2b2b2b"/><stop offset="0.6403" stop-color="#191919"/><stop offset="0.6475" stop-color="#2d2d2d"/><stop offset="0.6547" stop-color="#525252"/><stop offset="0.6619" stop-color="#4d4d4d"/><stop offset="0.6691" stop-color="#505050"/><stop offset="0.6763" stop-color="#464646"/><stop offset="0.6835" stop-color="#2d2d2d"/><stop offset="0.6906" stop-color="#323232"/><stop offset="0.6978" stop-color="#272727"/><stop offset="0.7050" stop-color="#161616"/><stop offset="0.7122" stop-color="#242424"/><stop offset="0.7194" stop-color="#404040"/><stop offset="0.7266" stop-color="#414141"/><stop offset="0.7338" stop-color="#393939"/><stop offset="0.7410" stop-color="#acacac"/><stop offset="0.7482" stop-color="#8e8e8e"/><stop offset="0.7554" stop-color="#161616"/><stop offset="0.7626" stop-color="#343434"/><stop offset="0.7698" stop-color="#343434"/><stop offset="0.7770" stop-color="#373737"/><stop offset="0.7842" stop-color="#848484"/><stop offset="0.7914" stop-color="#737373"/><stop offset="0.7986" stop-color="#212121"/><stop offset="0.8058" stop-color="#2b2b2b"/><stop offset="0.8129" stop-color="#2d2d2d"/><stop offset="0.8201" stop-color="#1c1c1c"/><stop offset="0.8273" stop-color="#313131"/><stop offset="0.8345" stop-color="#515151"/><stop offset="0.8417" stop-color="#454545"/><stop offset="0.8489" stop-color="#303030"/><stop offset="0.8561" stop-color="#3c3c3c"/><stop offset="0.8633" stop-color="#242424"/><stop offset="0.8705" stop-color="#1b1b1b"/><stop offset="0.8777" stop-color="#353535"/><stop offset="0.8849" stop-color="#383838"/><stop offset="0.8921" stop-color="#535353"/><stop offset="0.8993" stop-color="#747474"/><stop offset="0.9065" stop-color="#959595"/><stop offset="0.9137" stop-color="#b6b6b6"/><stop offset="0.9209" stop-color="#d7d7d7"/><stop offset="0.9281" stop-color="#e1e1e1"/><stop offset="0.9353" stop-color="#f8f8f8"/><stop offset="0.9424" stop-color="#e6e6e6"/><stop offset="0.9496" stop-color="#f2f2f2"/><stop offset="0.9568" stop-color="#e6e6e6"/><stop offset="0.9640" stop-color="#f5f5f5"/><stop offset="0.9712" stop-color="#efefef"/><stop offset="0.9784" stop-color="#e7e7e7"/><stop offset="0.9856" stop-color="#e4e4e4"/><stop offset="0.9928" stop-color="#f2f2f2"/><stop offset="1.0000" stop-color="#e2e2e2"/></linearGradient><linearGradient id="ghot" x1="0" x2="1" y1="0" y2="0"><stop offset="0" stop-color="#0a0000"/><stop offset="0.375" stop-color="#ff0000"/><stop offset="0.75" stop-color="#ffff00"/><stop offset="1" stop-color="#ffffff"/></linearGradient><radialGradient id="gth"><stop offset="0" stop-color="#b01010"/><stop offset="0.25" stop-color="#f06010" stop-opacity="0.9"/><stop offset="0.6" stop-color="#ffd030" stop-opacity="0.55"/><stop offset="1" stop-color="#fff0a0" stop-opacity="0"/></radialGradient><radialGradient id="gth2"><stop offset="0" stop-color="#ffc020" stop-opacity="0.9"/><stop offset="1" stop-color="#ffe880" stop-opacity="0"/></radialGradient><clipPath id="cpC1"><circle cx="1692.4" cy="180" r="100"/></clipPath></defs>
<circle cx="1692.4" cy="180" r="100" fill="#d2d3d4"/>
<rect x="1592" y="80" width="201" height="200" fill="#fff" opacity="0.8" filter="url(#spk)" clip-path="url(#cpC1)"/>
<rect x="1587.2" y="73.8" width="211.5" height="211.4" fill="none" stroke="#3c3c3c" stroke-width="1.6"/>
<path d="M1587 285.2H1799" stroke="#222" stroke-width="2.2"/>
<path d="M1611.6 74v3M1611.6 285v-3M1692.8 74v3M1692.8 285v-3M1774 74v3M1774 285v-3M1587.5 97.6h3M1798.5 97.6h-3M1587.5 138.8h3M1798.5 138.8h-3M1587.5 180h3M1798.5 180h-3M1587.5 221.2h3M1798.5 221.2h-3M1587.5 262.4h3M1798.5 262.4h-3" stroke="#333" stroke-width="1"/>
<path d="M1616.7 115.6 L1618.1 114.3 L1620.0 112.5 L1622.3 110.3 L1624.5 108.2 L1626.7 105.9 L1628.9 103.3 L1631.2 101.0 L1633.3 99.4 L1635.4 98.9 L1637.4 99.0 L1639.4 99.6 L1641.2 100.4 L1642.8 101.5 L1644.4 103.1 L1645.8 104.8 L1647.1 106.3 L1648.3 107.5 L1649.4 108.7 L1650.4 109.9 L1651.0 111.2 L1651.2 112.5 L1651.0 113.8 L1650.6 115.3 L1650.0 117.1 L1649.1 119.2 L1647.9 121.7 L1646.5 124.3 L1645.1 126.9 L1643.6 129.6 L1642.0 132.5 L1640.5 135.3 L1639.2 137.6 L1638.2 139.7 L1637.4 141.4 L1636.8 142.8 L1636.3 143.5 L1635.7 143.6 L1635.2 143.0 L1635.0 142.0 L1635.3 140.6 L1636.3 138.6 L1637.8 136.1 L1639.5 133.4 L1641.2 130.8 L1642.7 128.2 L1644.2 125.5 L1645.7 123.0 L1647.1 121.0 L1648.1 119.6 L1648.9 118.8 L1649.8 118.0 L1651.0 117.1 L1652.6 115.8 L1654.5 114.5 L1656.6 113.0 L1658.8 111.2 L1661.1 109.0 L1663.6 106.5 L1666.1 103.8 L1668.6 101.4 L1671.1 99.0 L1673.7 96.6 L1676.2 94.4 L1678.4 92.5 L1680.4 91.1 L1682.0 89.9 L1683.6 88.9 L1685.3 88.1 L1687.1 87.7 L1689.0 87.6 L1690.7 87.5 L1692.2 87.2 L1693.4 86.5 L1694.4 85.6 L1695.0 84.6 L1695.1 83.7 L1694.5 82.8 L1693.3 81.8 L1691.8 80.9 L1690.2 80.3 L1688.4 79.9 L1686.2 79.7 L1684.1 79.6 L1682.4 79.8 L1680.9 80.3 L1679.7 81.0 L1678.8 81.9 L1678.4 82.7 L1678.6 83.7 L1679.2 84.6 L1680.2 85.7 L1681.4 86.7 L1682.8 87.6 L1684.5 88.4 L1686.4 89.3 L1688.2 90.6 L1690.2 92.4 L1692.2 94.5 L1694.2 96.7 L1696.1 98.4 L1697.8 99.8 L1699.4 100.9 L1701.0 101.8 L1702.9 102.4 L1705.3 102.5 L1708.1 102.3 L1710.7 102.0 L1712.7 101.9 L1714.0 101.9 L1714.8 102.1 L1715.3 102.2 L1715.7 102.4" fill="none" stroke="#3a51a8" stroke-width="2.9" stroke-linecap="round" stroke-linejoin="round" />
<path d="M1616.7 115.6 L1617.5 115.3 L1618.6 114.9 L1619.9 114.4 L1621.1 114.1 L1622.1 114.0 L1623.0 113.9 L1624.1 114.0 L1625.5 114.1 L1627.2 114.4 L1629.3 114.8 L1631.6 115.3 L1634.3 115.6 L1637.6 115.8 L1641.4 115.9 L1645.3 115.9 L1649.0 116.1 L1652.6 116.4 L1656.1 116.7 L1659.5 117.0 L1662.7 117.1 L1665.9 116.8 L1668.9 116.3 L1671.8 115.7 L1674.5 115.1 L1677.1 114.4 L1679.5 113.7 L1681.9 112.9 L1684.3 112.2 L1686.7 111.4 L1689.1 110.6 L1691.5 109.7 L1694.1 108.7 L1697.0 107.6 L1700.0 106.3 L1703.0 105.0 L1705.9 103.8 L1708.5 102.9 L1711.0 102.0 L1713.4 101.2 L1715.7 100.4 L1717.8 99.4 L1719.8 98.4 L1721.7 97.4 L1723.5 96.5 L1725.4 95.6 L1727.1 94.7 L1728.8 94.0 L1730.4 93.5 L1731.9 93.4 L1733.5 93.6 L1734.7 94.0 L1735.3 94.5 L1735.4 95.4 L1735.0 96.5 L1734.1 97.6 L1732.4 98.4 L1729.2 98.9 L1724.8 99.2 L1720.6 99.3 L1717.6 99.4" fill="none" stroke="#3a51a8" stroke-width="2.9" stroke-linecap="round" stroke-linejoin="round" />
<path d="M1703.9 85.2 L1704.6 85.9 L1705.6 86.9 L1706.8 88.2 L1707.8 89.6 L1708.8 91.4 L1709.8 93.4 L1710.8 95.5 L1711.8 97.5 L1712.8 99.0 L1713.8 100.4 L1714.8 101.8 L1715.7 103.3 L1716.4 105.1 L1717.0 107.0 L1717.5 109.0 L1717.6 111.2 L1717.5 113.4 L1717.0 115.7 L1716.3 118.2 L1715.7 121.0 L1715.0 124.1 L1714.3 127.5 L1713.6 131.0 L1712.7 134.7 L1711.8 138.6 L1710.8 142.8 L1709.8 146.9 L1708.8 150.4 L1708.0 153.2 L1707.4 155.4 L1706.7 157.5 L1705.9 159.8 L1704.9 162.5 L1703.9 165.4 L1702.9 168.2 L1702.0 170.6 L1701.2 172.6 L1700.6 174.4 L1699.9 175.8 L1699.0 176.5 L1698.0 176.2 L1696.8 175.2 L1695.5 173.9 L1694.1 172.5 L1692.7 171.2 L1691.2 169.6 L1689.7 168.0 L1688.2 166.7 L1686.8 165.5 L1685.3 164.5 L1683.8 163.7 L1682.4 163.2 L1680.8 163.3 L1679.2 163.8 L1677.7 164.5 L1676.5 165.2 L1675.5 166.0 L1674.6 167.0 L1674.0 168.0 L1673.5 168.6" fill="none" stroke="#3a51a8" stroke-width="2.9" stroke-linecap="round" stroke-linejoin="round" />
<path d="M1709.8 82.7 L1710.1 83.6 L1710.6 84.8 L1711.2 86.2 L1711.8 87.6 L1712.5 89.2 L1713.2 90.8 L1714.0 92.6 L1714.7 94.5 L1715.2 96.6 L1715.6 98.7 L1716.1 101.0 L1716.7 103.3 L1717.5 105.7 L1718.4 108.2 L1719.5 110.7 L1720.6 113.1 L1721.8 115.5 L1723.0 117.9 L1724.3 120.4 L1725.5 122.9 L1726.6 125.7 L1727.6 128.6 L1728.5 131.6 L1729.4 134.7 L1730.2 138.1 L1730.8 141.6 L1731.5 145.1 L1732.4 148.4 L1733.5 151.4 L1734.9 154.2 L1736.2 156.9 L1737.3 159.8 L1738.0 162.8 L1738.5 165.8 L1738.9 169.1 L1739.2 172.5 L1739.4 176.6 L1739.4 181.1 L1739.3 185.4 L1739.2 189.2 L1738.9 192.2 L1738.5 194.7 L1738.2 196.9 L1738.2 199.0 L1738.9 201.1 L1739.9 203.1 L1740.8 204.9 L1741.2 206.9 L1740.7 209.1 L1739.8 211.5 L1738.6 213.5 L1737.3 214.7 L1735.7 214.7 L1734.0 213.8 L1732.2 212.7 L1730.4 211.8 L1728.7 211.2 L1727.0 210.7 L1725.3 210.2 L1723.5 209.8 L1721.7 209.4 L1719.8 209.1 L1717.8 208.8 L1715.7 208.8 L1713.4 209.1 L1710.9 209.5 L1708.4 210.1 L1705.9 210.8 L1703.4 211.6 L1701.0 212.5 L1698.5 213.5 L1696.1 214.7 L1693.6 216.1 L1691.1 217.6 L1688.6 219.1 L1686.3 220.6 L1684.2 221.9 L1682.3 223.3 L1680.4 224.5 L1678.4 225.5 L1676.1 226.3 L1673.5 227.0 L1671.2 227.6 L1669.6 227.9" fill="none" stroke="#3a51a8" stroke-width="2.9" stroke-linecap="round" stroke-linejoin="round" />
<path d="M1734.3 88.6 L1735.5 89.2 L1737.3 90.0 L1739.2 90.9 L1741.2 92.1 L1743.4 93.5 L1746.0 95.2 L1748.1 96.8 L1749.0 97.9 L1748.2 98.4 L1746.2 98.5 L1743.6 98.4 L1741.2 98.4 L1738.7 98.4 L1735.8 98.2 L1733.2 98.4 L1731.4 99.4 L1730.4 101.7 L1730.1 105.0 L1730.2 108.4 L1730.4 111.2 L1730.6 113.0 L1730.9 114.4 L1731.4 115.6 L1732.4 117.1 L1733.8 118.9 L1735.6 120.9 L1737.5 122.9 L1739.2 124.9 L1740.6 126.8 L1741.9 128.7 L1743.0 130.6 L1744.1 132.7 L1745.1 135.1 L1745.8 137.6 L1746.7 140.1 L1748.0 142.5 L1749.9 144.8 L1752.1 147.0 L1754.5 149.2 L1756.9 151.4 L1759.3 153.5 L1761.8 155.7 L1764.3 157.8 L1766.7 159.8 L1768.8 161.7 L1770.8 163.5 L1772.7 165.1 L1774.5 166.7 L1776.3 167.9 L1777.9 168.9 L1779.4 170.0 L1780.4 171.6 L1780.9 173.7 L1780.9 176.2 L1780.7 178.8 L1780.4 181.4 L1779.9 183.8 L1779.2 186.3 L1778.3 188.7 L1777.5 191.2 L1776.5 193.7 L1775.4 196.4 L1774.4 198.9 L1773.5 201.0 L1772.7 202.7 L1771.9 204.1 L1771.5 205.2 L1771.6 205.9 L1772.8 206.1 L1774.8 205.8 L1776.7 205.4 L1777.5 205.4 L1776.6 205.9 L1774.6 206.8 L1772.4 207.6 L1770.6 207.8 L1769.5 207.2 L1768.8 206.1 L1768.0 204.8 L1766.7 203.9 L1764.6 203.5 L1762.0 203.4 L1759.3 203.3 L1756.9 202.9 L1754.8 202.2 L1752.8 201.2 L1750.9 200.1 L1749.0 199.0 L1746.9 198.0 L1744.7 197.0 L1742.7 196.0 L1741.2 195.1 L1740.2 194.2 L1739.7 193.4 L1739.4 192.7 L1739.2 192.2" fill="none" stroke="#3a51a8" stroke-width="2.9" stroke-linecap="round" stroke-linejoin="round" />
<path d="M1741.2 98.4 L1740.7 100.3 L1740.0 103.0 L1739.4 106.1 L1739.2 109.2 L1739.6 112.3 L1740.3 115.5 L1741.2 118.8 L1742.2 122.0 L1743.1 124.9 L1744.1 127.8 L1745.1 130.7 L1746.1 133.7 L1747.3 136.7 L1748.7 139.8 L1749.7 142.9 L1750.0 146.5 L1749.2 150.5 L1747.5 155.0 L1745.7 159.6 L1744.1 163.7 L1742.9 167.5 L1741.9 170.9 L1740.9 174.2 L1740.2 177.5 L1739.7 180.8 L1739.5 184.2 L1739.3 187.1 L1739.2 189.2" fill="none" stroke="#3a51a8" stroke-width="2.9" stroke-linecap="round" stroke-linejoin="round" />
<path d="M1718.6 176.5 L1719.5 177.0 L1720.7 177.7 L1722.1 178.5 L1723.5 179.4 L1724.9 180.3 L1726.4 181.3 L1727.9 182.3 L1729.4 183.3 L1731.0 184.3 L1732.5 185.3 L1734.0 186.3 L1735.3 187.3 L1736.3 188.3 L1737.1 189.5 L1737.8 190.5 L1738.2 191.2" fill="none" stroke="#3a51a8" stroke-width="2.9" stroke-linecap="round" stroke-linejoin="round" />
<path d="M1726.5 178.4 L1728.0 178.0 L1730.2 177.4 L1732.5 176.9 L1734.3 177.0 L1735.5 178.0 L1736.3 179.6 L1736.8 181.2 L1737.3 182.4" fill="none" stroke="#3a51a8" stroke-width="2.9" stroke-linecap="round" stroke-linejoin="round" />
<path d="M1616.7 115.6 L1633.3 99.4 L1632.4 104.3 L1621.1 114.1Z" fill="#3a51a8"/>
<path d="M1663.7 182.4 L1662.6 183.8 L1661.0 185.9 L1659.8 188.2 L1659.1 190.8 L1658.7 193.7 L1658.8 196.1 L1659.7 197.9 L1661.1 199.2 L1662.7 200.0 L1664.6 200.3 L1666.7 200.0 L1668.6 199.0 L1670.2 197.0 L1671.5 194.4 L1672.5 192.2 L1673.5 190.4 L1674.2 189.1 L1674.5 189.2 L1674.2 191.7 L1673.6 195.6 L1673.0 199.0 L1672.9 201.3 L1672.9 203.2 L1672.5 204.9 L1671.4 206.3 L1669.9 207.5 L1668.6 208.8 L1667.5 210.4 L1666.7 212.1 L1666.7 213.7 L1668.2 215.1 L1670.6 216.3 L1672.5 217.6 L1673.3 219.5 L1673.7 221.4 L1674.5 222.5 L1676.5 222.5 L1678.9 221.8 L1680.4 220.6 L1680.4 218.8 L1679.5 216.7 L1678.4 214.7 L1676.8 213.0 L1674.9 211.5 L1674.5 210.8 L1677.0 211.5 L1681.0 213.0 L1684.3 213.7 L1686.1 212.6 L1687.2 210.7 L1688.2 209.8 L1689.2 210.9 L1690.1 213.0 L1691.2 214.7 L1692.7 215.5 L1694.5 216.0 L1696.1 216.7 L1697.2 218.1 L1698.1 219.7 L1699.0 220.6 L1700.3 220.0 L1701.6 218.7 L1702.0 217.6 L1700.7 217.4 L1698.6 217.5 L1697.1 217.6" fill="none" stroke="#5cb531" stroke-width="3.8" stroke-linecap="round" stroke-linejoin="round" />
<path d="M1677.2 222.2 L1672.8 213.8 L1668.0 217.1 L1668.6 211.6 L1674.0 218.0 L1674.7 213.2 L1672.6 215.4 L1666.6 219.1 L1673.5 224.6 L1674.0 216.0 L1677.5 217.8 L1676.2 215.5 L1673.4 221.2 L1675.5 217.5 L1668.1 218.8 L1672.8 220.1 L1673.4 221.5 L1672.1 218.7 L1675.2 212.6 L1670.8 214.8 L1679.6 216.7 L1675.2 219.6 L1671.4 210.9 L1676.5 215.3 L1675.3 211.8 L1670.7 222.1 L1677.7 212.3 L1667.1 216.8" fill="none" stroke="#5cb531" stroke-width="2.6" stroke-linejoin="round"/>
<path d="M1693.5 212.0 L1689.5 213.4 L1690.4 210.3 L1686.7 211.4 L1684.8 211.3 L1686.3 212.4 L1685.2 213.9 L1687.0 209.1 L1691.6 212.2 L1685.7 213.6 L1689.3 213.2 L1685.3 213.4 L1684.0 215.5 L1684.2 212.6" fill="none" stroke="#5cb531" stroke-width="2.4" stroke-linejoin="round"/>
<path d="M1662.2 196.4 L1659.7 195.5 L1661.1 190.7 L1666.3 192.5 L1661.9 194.7 L1664.9 191.9 L1663.5 188.5 L1661.0 190.3 L1659.0 187.3 L1658.1 191.2 L1661.4 190.5 L1662.2 187.3 L1661.6 193.5 L1663.9 189.0" fill="none" stroke="#5cb531" stroke-width="2.2" stroke-linejoin="round"/>
<path d="M1664.4 189.0 L1668.2 187.0 L1666.7 186.9 L1669.5 192.6 L1670.0 190.6 L1668.1 191.1 L1665.2 192.4 L1664.1 191.0 L1668.7 192.2 L1666.2 197.0 L1667.1 190.2 L1667.4 190.4 L1666.0 190.9 L1671.0 192.1 L1667.4 194.0 L1671.0 191.5 L1665.9 197.2 L1663.8 191.0 L1668.2 197.0 L1665.4 187.0 L1668.6 190.5 L1666.0 193.4" fill="#e8211c" stroke="#e8211c" stroke-width="2" stroke-linejoin="round"/>
<circle cx="1683" cy="177.5" r="4" fill="none" stroke="#e8211c" stroke-width="2.2"/>
<path d="M1673.5 168.6 L1673.2 169.3 L1672.6 170.2 L1672.2 171.2 L1672.1 172.1 L1672.4 172.8 L1673.0 173.4 L1673.8 174.0 L1674.5 174.5 L1675.3 175.0 L1676.3 175.4 L1677.1 175.9 L1677.5 176.5 L1677.1 177.3 L1676.3 178.4 L1675.4 179.4 L1674.5 180.4 L1673.8 181.2 L1673.0 181.9 L1672.3 182.6 L1671.6 183.3 L1670.8 184.3 L1669.9 185.5 L1669.2 186.5 L1668.6 187.3" fill="none" stroke="#e8211c" stroke-width="2.4" stroke-linecap="round" stroke-linejoin="round" />
<circle cx="1673.6" cy="181.8" r="4.9" fill="none" stroke="#3a3028" stroke-width="1"/>
<path d="M1677.5 174.5L1848 72.5" stroke="#222" stroke-width="1.7" stroke-dasharray="10 7.5" fill="none"/>
<path d="M1678.4 187.3L1848 281" stroke="#222" stroke-width="2.2" stroke-dasharray="10 7.5" fill="none"/>
<rect x="1848.2" y="74.1" width="199.6" height="211.1" fill="#fff" stroke="#4a4a4a" stroke-width="1.4"/>
<path d="M1905.9 86.4 L1916.5 81.6 L1918.8 83.1 L1910.6 88.2 L1904.7 118.8 L1898.8 132.9 L1924.7 136.5 L1911.8 127.1 L1914.1 114.1 L1930.6 124.7 L1947.1 122.4 L1950.1 134.1 L1962.8 159.3 L1954.8 191.8 L1940.7 190.6 L1955.8 229.9 L1957.2 285.2" fill="none" stroke="#e21f1f" stroke-width="3.4" stroke-linejoin="round" stroke-linecap="round"/>
<circle cx="1930.6" cy="124.7" r="4" fill="none" stroke="#555" stroke-width="1"/>
<circle cx="1947.1" cy="122.4" r="4" fill="none" stroke="#555" stroke-width="1"/>
<circle cx="1950.1" cy="134.1" r="4" fill="none" stroke="#555" stroke-width="1"/>
<circle cx="1962.8" cy="159.3" r="4" fill="none" stroke="#555" stroke-width="1"/>
<circle cx="1954.8" cy="191.8" r="4" fill="none" stroke="#555" stroke-width="1"/>
<circle cx="1940.7" cy="190.6" r="4" fill="none" stroke="#555" stroke-width="1"/>
<circle cx="1955.8" cy="229.9" r="4" fill="none" stroke="#555" stroke-width="1"/>
<path d="M1955 191.8L1993 193.6" stroke="#111" stroke-width="2.6" stroke-linecap="round"/>
<path d="M1960 180 Q1966 183 1966.5 191" stroke="#111" stroke-width="2.4" fill="none"/>
<g stroke="#111" stroke-width="0.45"><text x="1957.9" y="144.6" font-size="34.81" fill="#111" font-family='"Liberation Serif", serif' font-weight="bold">|v|</text></g>
<text x="1974.2" y="181.0" font-size="32.31" fill="#111" font-family='"Liberation Serif", serif' font-weight="bold">ω</text>
<filter id="blT" x="-30%" y="-30%" width="160%" height="160%"><feGaussianBlur stdDeviation="1.1"/></filter>
<g filter="url(#blT)"><path d="M1658.6 326V372" stroke="#ffd646" stroke-width="2.2" opacity="0.55"/><path d="M1658.6 330V345" stroke="#e8801a" stroke-width="1.8"/><path d="M1658.6 332.5V339" stroke="#c02010" stroke-width="1.5"/><polygon points="1716,356 1729,373.5 1703,373.5" fill="#ffd646" opacity="0.45"/><polygon points="1716,363 1721,373.5 1711,373.5" fill="#f08a1c" opacity="0.7"/><polygon points="1716.5,368 1719,373.5 1714,373.5" fill="#c02010" opacity="0.9"/><polygon points="1773,347 1787,373.5 1759,373.5" fill="#ffd646" opacity="0.45"/><polygon points="1773,352 1777,373.5 1769,373.5" fill="#f08a1c" opacity="0.7"/><path d="M1773 358V369" stroke="#c02010" stroke-width="1.5" opacity="0.9"/><path d="M1566 416.8H1611" stroke="#ffd646" stroke-width="2.2" opacity="0.55"/><path d="M1569 416.8H1586" stroke="#e8801a" stroke-width="1.8"/><path d="M1571 416.8H1579" stroke="#c02010" stroke-width="1.5"/><polygon points="1596,474.6 1613,462.5 1613,487" fill="#ffd646" opacity="0.45"/><polygon points="1603,474.6 1613,469.5 1613,480" fill="#f08a1c" opacity="0.7"/><polygon points="1608,474.8 1613,472.5 1613,477.5" fill="#c02010" opacity="0.9"/><polygon points="1590,531.6 1613,520 1613,544" fill="#ffd646" opacity="0.45"/><polygon points="1597,531.6 1613,527.5 1613,536" fill="#f08a1c" opacity="0.7"/><path d="M1601 531.6H1611" stroke="#c02010" stroke-width="1.5" opacity="0.9"/></g>
<rect x="1637.4" y="321.1" width="43.4" height="53.8" fill="none" stroke="#3c57b4" stroke-width="2.1"/>
<rect x="1695" y="321.1" width="43.2" height="53.8" fill="none" stroke="#d9352f" stroke-width="2.1"/>
<rect x="1752.2" y="321.1" width="43.9" height="53.8" fill="none" stroke="#5aa93a" stroke-width="2.1"/>
<rect x="1560" y="395.3" width="54.4" height="43.3" fill="none" stroke="#3c57b4" stroke-width="2.1"/>
<rect x="1560" y="453.2" width="54.4" height="43.1" fill="none" stroke="#d9352f" stroke-width="2.1"/>
<rect x="1560" y="510.8" width="54.4" height="43.7" fill="none" stroke="#5aa93a" stroke-width="2.1"/>
<rect x="1637.4" y="392.8" width="55.2" height="54.4" fill="#0c0507"/>
<rect x="1692.3" y="392.8" width="54.4" height="54.4" fill="#e9561f"/>
<rect x="1746.4" y="392.8" width="54.7" height="54.4" fill="#e7331f"/>
<rect x="1637.4" y="446.9" width="55.2" height="55.2" fill="#e9561f"/>
<rect x="1692.3" y="446.9" width="54.4" height="55.2" fill="#0c0507"/>
<rect x="1746.4" y="446.9" width="54.7" height="55.2" fill="#371211"/>
<rect x="1637.4" y="501.8" width="55.2" height="55.7" fill="#e7331f"/>
<rect x="1692.3" y="501.8" width="54.4" height="55.7" fill="#371211"/>
<rect x="1746.4" y="501.8" width="54.7" height="55.7" fill="#0c0507"/>
<path d="M1637.4 392.8H1800.8M1637.4 392.8V557.2M1692.3 392.8V446.9M1746.4 392.8V501.8M1692.3 446.9H1800.8" stroke="#0c0507" stroke-width="1.2" fill="none"/>
<g filter="url(#hotf)" style="isolation:isolate"><rect x="1840" y="339.8" width="220.2" height="219.79999999999998" fill="url(#gsh)"/><rect x="1840" y="339.8" width="220.2" height="219.79999999999998" fill="url(#gsv)" style="mix-blend-mode:difference"/></g>
<polygon points="1840,339.8 2060.2,559.6 1840,559.6" fill="#fff" opacity="0.8"/>
<polygon points="1840,339.8 2060.2,559.6 1840,559.6" fill="#d6d0d0" opacity="0.3"/>
<rect x="1840" y="339.8" width="220.2" height="219.79999999999998" fill="none" stroke="#888" stroke-width="1"/>
<path d="M1800.8 392.8L1877 376M1800.8 557.2L1878 382" stroke="#9a9a9a" stroke-width="2.6" fill="none"/>
<rect x="1876" y="374.6" width="8" height="8" fill="none" stroke="#9a9a9a" stroke-width="1.8"/>
<path d="M1899 334.2H1830.7V358" stroke="#000" stroke-width="2.8" fill="none"/>
<polygon points="1909,334.2 1896,328 1899,334.2 1896,340.4" fill="#000"/>
<polygon points="1830.7,368 1824.5,355 1830.7,358 1836.9,355" fill="#000"/>
<text x="1910.7" y="334.8" font-size="20.69" fill="#111" textLength="37.6" lengthAdjust="spacingAndGlyphs">time</text>
<text x="1822.4" y="379" font-size="19.89" fill="#111" transform="rotate(-90 1822.4 379)">time</text>
<rect x="1908.4" y="563.8" width="83" height="4.4" fill="url(#ghot)" stroke="#777" stroke-width="0.6"/>
<text x="1905.2" y="584.4" font-size="12.9" fill="#111" font-weight="bold" textLength="6.9" lengthAdjust="spacingAndGlyphs">0</text>
<text x="1941.0" y="584.4" font-size="12.9" fill="#111" font-weight="bold" textLength="17.2" lengthAdjust="spacingAndGlyphs">0.5</text>
<text x="1987.9" y="584.4" font-size="12.9" fill="#111" font-weight="bold" textLength="6.9" lengthAdjust="spacingAndGlyphs">1</text>
</g>
<g id="panel_d">
<g stroke="#000" stroke-width="0.6"><text x="6.5" y="624.2" font-size="50.75" fill="#000" textLength="35.2" lengthAdjust="spacingAndGlyphs">D</text></g>
<g stroke="#000" stroke-width="0.3"><text x="55.1" y="617.0" font-size="35.26" fill="#000" textLength="310.8" lengthAdjust="spacingAndGlyphs">Cell-to-cell variability</text></g>
<defs><linearGradient id="gW" x1="0" x2="0" y1="0" y2="1"><stop offset="0" stop-color="#f57a29"/><stop offset="0.2" stop-color="#e4823f"/><stop offset="0.48" stop-color="#ac9681"/><stop offset="0.62" stop-color="#8f9c9c"/><stop offset="0.85" stop-color="#66b3cf"/><stop offset="1" stop-color="#55bde6"/></linearGradient><pattern id="pvB" width="5.66" height="5.66" patternUnits="userSpaceOnUse" x="763.2" y="649"><path d="M1.3 1.2l2.9 0.7l-2.1 2.3z" fill="#52b9f0"/></pattern><pattern id="pvR" width="5.66" height="5.66" patternUnits="userSpaceOnUse" x="763.2" y="649"><path d="M1.3 3.8l3.1 -1.7l-0.7 2.8z" fill="#f0857a"/></pattern><pattern id="pvB2" width="5.66" height="5.66" patternUnits="userSpaceOnUse" x="763.2" y="821"><path d="M1.3 1.2l2.9 0.7l-2.1 2.3z" fill="#52b9f0"/></pattern><pattern id="pvR2" width="5.66" height="5.66" patternUnits="userSpaceOnUse" x="763.2" y="821"><path d="M1.3 3.8l3.1 -1.7l-0.7 2.8z" fill="#f0857a"/></pattern></defs>
<path d="M78 930.4L274.2 654.8" stroke="#000" stroke-width="2"/>
<path d="M78 898.8L161.2 654.8" stroke="#4fc62e" stroke-width="5"/>
<path d="M143.4 802.5L250 700" stroke="#4cb9eb" stroke-width="5.4"/>
<path d="M131 676.5l8.8 12.5l-8.8 12.5l-8.8 -12.5z" fill="#4fc62e"/>
<path d="M115.6 753.8l8.8 12.5l-8.8 12.5l-8.8 -12.5z" fill="#4fc62e"/>
<path d="M139 757.3l8.8 12.5l-8.8 12.5l-8.8 -12.5z" fill="#4fc62e"/>
<path d="M112.5 786.0l8.8 12.5l-8.8 12.5l-8.8 -12.5z" fill="#4fc62e"/>
<path d="M107.2 797.9l8.8 12.5l-8.8 12.5l-8.8 -12.5z" fill="#4fc62e"/>
<path d="M100.6 839.8l8.8 12.5l-8.8 12.5l-8.8 -12.5z" fill="#4fc62e"/>
<path d="M152 784l10.5 19h-21z" fill="#4cb9eb"/>
<path d="M154.4 793l10.5 19h-21z" fill="#4cb9eb"/>
<path d="M176.4 747l10.5 19h-21z" fill="#4cb9eb"/>
<path d="M185.3 747l10.5 19h-21z" fill="#4cb9eb"/>
<path d="M220.5 711l10.5 19h-21z" fill="#4cb9eb"/>
<path d="M236 706.5l10.5 19h-21z" fill="#4cb9eb"/>
<rect x="78" y="654.8" width="196.2" height="275.6" fill="none" stroke="#000" stroke-width="2.2"/>
<path d="M78 861.5h4M274.2 861.5h-4M78 792.6h4M274.2 792.6h-4M78 723.7h4M274.2 723.7h-4M176.1 654.8v4M176.1 930.4v-4" stroke="#000" stroke-width="1.4"/>
<text x="54.9" y="940.0" font-size="27.46" fill="#111" textLength="14.7" lengthAdjust="spacingAndGlyphs" stroke="#111" stroke-width="0.35">0</text>
<text x="54.9" y="871.1" font-size="27.46" fill="#111" textLength="14.7" lengthAdjust="spacingAndGlyphs" stroke="#111" stroke-width="0.35">1</text>
<text x="54.9" y="802.2" font-size="27.46" fill="#111" textLength="14.7" lengthAdjust="spacingAndGlyphs" stroke="#111" stroke-width="0.35">2</text>
<text x="54.9" y="733.3" font-size="27.46" fill="#111" textLength="14.7" lengthAdjust="spacingAndGlyphs" stroke="#111" stroke-width="0.35">3</text>
<text x="54.9" y="664.4" font-size="27.46" fill="#111" textLength="14.7" lengthAdjust="spacingAndGlyphs" stroke="#111" stroke-width="0.35">4</text>
<text x="70.7" y="964.6" font-size="27.46" fill="#111" textLength="14.7" lengthAdjust="spacingAndGlyphs" stroke="#111" stroke-width="0.35">0</text>
<text x="168.8" y="964.6" font-size="27.46" fill="#111" textLength="14.7" lengthAdjust="spacingAndGlyphs" stroke="#111" stroke-width="0.35">2</text>
<text x="266.9" y="964.6" font-size="27.46" fill="#111" textLength="14.7" lengthAdjust="spacingAndGlyphs" stroke="#111" stroke-width="0.35">4</text>
<text x="39.5" y="870" font-size="33.30" fill="#2a2a2a" font-family='"Liberation Serif", serif' transform="rotate(-90 39.5 870)">Experiment</text>
<text x="97.5" y="998.6" font-size="34.59" fill="#2a2a2a" font-family='"Liberation Serif", serif'>ETA model</text>
<rect x="115.8" y="859.2" width="206" height="59.2" fill="#fff" stroke="#000" stroke-width="3"/>
<text x="122.9" y="884.0" font-size="22.21" fill="#4fc62e" textLength="191.1" lengthAdjust="spacingAndGlyphs">cell-to-cell variability</text>
<text x="122.4" y="907.6" font-size="22.0" fill="#4cb9eb" textLength="191.6" lengthAdjust="spacingAndGlyphs">population variability</text>
<polygon points="331.8,655.8 350.6,655.8 350.6,971.5" fill="url(#gW)"/>
<path d="M360 668.4H710.6M360 686.0H710.6M360 703.5H710.6M360 721.0H710.6M360 738.6H710.6M360 756.1H710.6M360 773.6H710.6M360 791.2H710.6M360 808.7H710.6M360 826.2H710.6M360 843.8H710.6M360 861.3H710.6M360 878.8H710.6M360 896.4H710.6M360 913.9H710.6M360 931.4H710.6M360 949.0H710.6" stroke="#1c1c1c" stroke-width="1.1" fill="none"/>
<path d="M534.9 650.9V966.5" stroke="#9a9a9a" stroke-width="1.2"/>
<path d="M362.0 655.5l1.6-0.7 1.6 1.4 1.6 5 1.6 4.3 1.6 0.3 1.6-2 1.6-5.3 1.6-2.9 1.6-0.5 1.6 0.9 1.6 5.5 1.6 4.1 1.6-0.2 1.6-1.8 1.6-5.5 1.6-3.2 1.6 0.8 1.6 4.7 1.6 5.5 1.6-0.4 1.6-4 1.6-6.6 1.6-0.2 1.6-0.1 1.6 2.3 1.6 5.2 1.6 3.3 1.6 0.4 1.6-0.9 1.6-1.8 1.6-5.5 1.6-2.4 1.6-0.5 1.6 0.7 1.6 1.1 1.6 4.9 1.6 3.8 1.6 0.6 1.6 0 1.6-1.4 1.6-4.5 1.6-4.2 1.6-1.1 1.6 0.6 1.6 4.9 1.6 4.3 1.6 1.3 1.6-0.3 1.6-3.9 1.6-5.3 1.6-1.8 1.6 0.7 1.6 1.3 1.6 3.5 1.6 4.3 1.6 1.3 1.6 0.2 1.6-0.8 1.6-3.8 1.6-3.7 1.6-2.9 1.6 0.4 1.6 1.4 1.6 3.9 1.6 4 1.6 1.6 1.6-0.8 1.6-2.5 1.6-4.8 1.6-2.5 1.6-0.5 1.6 1.1 1.6 4.3 1.6 4.2 1.6 1.1 1.6-0.2 1.6-3 1.6-5.6 1.6-1.5 1.6 0.5 1.6 6.8 1.6 3.3 1.6-0.3 1.6-5.4 1.6-4.3 1.6-1.5 1.6 1.7 1.6 4.9 1.6 3.6 1.6 1 1.6-1 1.6-4.9 1.6-4.5 1.6-0.3 1.6 6 1.6 5.4 1.6-1.2 1.6-6.6 1.6-3.4 1.6-0.4 1.6 1.1M536.4 658.2l1.6-3.9 1.6 1.4 1.6 5.2 1.6 4 1.6 0.4 1.6-5.1 1.6-5.3 1.6 0.3 1.6 7.8 1.6 3.1 1.6-5.8 1.6-5.8 1.6-0.1 1.6 3.2 1.6 5.9 1.6 2.1 1.6 0.1 1.6-2.9 1.6-5.7 1.6-2.5 1.6 2.7 1.6 7.2 1.6 1.5 1.6-5.6 1.6-5.3 1.6 0.3 1.6 5.9 1.6 3.9 1.6-0.1 1.6-6.3 1.6-4 1.6 0.9 1.6 6.9 1.6 3.6 1.6-1.7 1.6-7.2 1.6-1.9 1.6-1.3 1.6 1.5 1.6 3.5 1.6 4.4 1.6 1.8 1.6 0.8 1.6-1.1 1.6-3.9 1.6-4.7 1.6-2.4 1.6 2.2 1.6 6.5 1.6 3.2 1.6-1.5 1.6-6 1.6-3.7 1.6 0.6 1.6 3.2 1.6 6 1.6 1.1 1.6-1.6 1.6-5.6 1.6-3.3 1.6 3 1.6 6.9 1.6 0.5 1.6-9.1 1.6-1.8 1.6 1.9 1.6 7 1.6 2.7 1.6-3.2 1.6-7.6 1.6-1.4 1.6 2.8 1.6 6.6 1.6 2.4 1.6-1.2 1.6-5.3 1.6-5.1 1.6 1.7 1.6 7.2 1.6 2.1 1.6-2.3 1.6-7.3 1.6-1 1.6 1.3 1.6 7 1.6 2.3 1.6 0.1 1.6-3.9 1.6-6.4 1.6 0.3 1.6 5.4 1.6 4.6 1.6-0.7 1.6-7.7 1.6-2.8 1.6 4.1 1.6 6.8 1.6 0.3 1.6-7.7 1.6-2.3 1.6-0.8 1.6 1.1 1.6 4.3 1.6 4.1 1.6 1.9 1.6-0.6 1.6-2.4M362.0 673.8l1.6-0.1 1.6-0.5 1.6-0.2 1.6 0 1.6 0.2 1.6 0.6 1.6-0.5 1.6 1 1.6-0.8 1.6 0.2 1.6 0.8 1.6-0.4 1.6 0.6 1.6 7.9 1.6 0.6 1.6-7.7 1.6-3.3 1.6-0.1 1.6 3.9 1.6 7 1.6 0.5 1.6-1.9 1.6-7.8 1.6-1.7 1.6 0 1.6 1.2 1.6 5.5 1.6 3.3 1.6 1.2 1.6-0.3 1.6-2.9 1.6-5.5 1.6-3 1.6 5.1 1.6 6.1 1.6-1.1 1.6-9.1 1.6-0.8 1.6 4.2 1.6 7.1 1.6-0.1 1.6-5.6 1.6-4.7 1.6-0.2 1.6 0.2 1.6 5.9 1.6 4.4 1.6 0.5 1.6-1.6 1.6-5.4 1.6-4.5 1.6 1.8 1.6 8.8 1.6 1 1.6-5.8 1.6-5.3 1.6 0.1 1.6 1.9 1.6 5.7 1.6 2.6 1.6 0.8 1.6-1.7 1.6-6.5 1.6-2.5 1.6-1.2 1.6 1.5 1.6 3.5 1.6 4.9 1.6 1.1 1.6 0.6 1.6-1.3 1.6-6.1 1.6-3.9 1.6 0.7 1.6 3.8 1.6 6.8 1.6-0.3 1.6-3.1 1.6-6.3 1.6-1 1.6 4.4 1.6 5.7 1.6 0.1 1.6-9 1.6-1.4 1.6 0.1 1.6 0.5 1.6 4.9 1.6 4.9 1.6 0.2 1.6-0.2 1.6-1.7 1.6-6.1 1.6-2.9 1.6 0.6 1.6 2.1 1.6 7.2 1.6 1.7 1.6-0.9 1.6-4.9 1.6-5.6 1.6-0.5 1.6 3.7 1.6 7.2 1.6 0.3 1.6-4.7 1.6-5.7M536.4 673.2l1.6-1.2 1.6 0.4 1.6 0.5 1.6 4.6 1.6 5.4 1.6 0.3 1.6 0.4 1.6-1.7 1.6-6.5 1.6-3.2 1.6 0 1.6 1.4 1.6 8.3 1.6 1 1.6 0 1.6-3.5 1.6-6.9 1.6-0.1 1.6 0.1 1.6 2.2 1.6 7.5 1.6 0.6 1.6 0.6 1.6-2.2 1.6-6.9 1.6-1.7 1.6-0.3 1.6-0.2 1.6 2 1.6 6.8 1.6 2.2 1.6 0.6 1.6-0.2 1.6-2.4 1.6-5.5 1.6-3.3 1.6 0.3 1.6-0.8 1.6 3.2 1.6 7 1.6 1.7 1.6-0.4 1.6-0.9 1.6-4.2 1.6-5.1 1.6-1.2 1.6 0 1.6 2.4 1.6 7.3 1.6 1.6 1.6 0.2 1.6-0.9 1.6-6.5 1.6-3.5 1.6 0 1.6-0.3 1.6 1.2 1.6 5.4 1.6 3.3 1.6 1.4 1.6-0.3 1.6-1.3 1.6-4.2 1.6-5.2 1.6 0 1.6-0.1 1.6 5.5 1.6 4.8 1.6 1.1 1.6-0.4 1.6-5.8 1.6-5.4 1.6-0.2 1.6 0.5 1.6-0.1 1.6 1.5 1.6 5.3 1.6 4 1.6 0.4 1.6 0.2 1.6-1 1.6-1.6 1.6-5.5 1.6-2.8 1.6-1.1 1.6 0 1.6 1 1.6 2.1 1.6 6.6 1.6 1.7 1.6 0.2 1.6 0 1.6-1.3 1.6-3.5 1.6-4.9 1.6-1.6 1.6 0.6 1.6 6.8 1.6 3.6 1.6-0.3 1.6-3 1.6-7.3 1.6 0 1.6-0.1 1.6-0.2 1.6 3.6 1.6 6.3M362.0 689.7l1.6 0.2 1.6 0.5 1.6 3.3 1.6 5.6 1.6 1.5 1.6-0.6 1.6-0.9 1.6-5.3 1.6-3.2 1.6-0.9 1.6-0.1 1.6 2.2 1.6 5.5 1.6 3.3 1.6 0.2 1.6-0.6 1.6-3.6 1.6-5.6 1.6-1.4 1.6-0.5 1.6 2.2 1.6 5.7 1.6 3.4 1.6-0.1 1.6-0.9 1.6-4 1.6-4.8 1.6-0.8 1.6-0.3 1.6 1.2 1.6 5.3 1.6 3.2 1.6 1.1 1.6 0.3 1.6-1.4 1.6-4.9 1.6-4.3 1.6-0.4 1.6 1 1.6 4.4 1.6 4.8 1.6 0.8 1.6 0.1 1.6-4.2 1.6-5.3 1.6-1.5 1.6-0.3 1.6 1.7 1.6 4.8 1.6 4.3 1.6 0.5 1.6-0.3 1.6-1.5 1.6-6.1 1.6-2.5 1.6-0.4 1.6-0.1 1.6 4 1.6 6 1.6 1.2 1.6-0.7 1.6-2.2 1.6-5.1 1.6-3.4 1.6-0.2 1.6 0.6 1.6 2.1 1.6 5.7 1.6 2.1 1.6 0.7 1.6-0.8 1.6-2.9 1.6-5.3 1.6-2.4 1.6 0 1.6 2.3 1.6 6.2 1.6 3 1.6-0.3 1.6-2 1.6-6.3 1.6-2.3 1.6-0.3 1.6 4.9 1.6 6 1.6 0.6 1.6-2.4 1.6-7 1.6-2.2 1.6-0.4 1.6 0.5 1.6 2.9 1.6 4.5 1.6 3.4 1.6 0.8 1.6-0.1 1.6-1.7 1.6-4.6 1.6-4 1.6-1.1 1.6 0.6 1.6 5 1.6 5 1.6 0.9 1.6-1.6 1.6-6.1 1.6-3.8M536.4 698.8l1.6-0.3 1.6 0.6 1.6-0.2 1.6 0.5 1.6-0.9 1.6 0.6 1.6-0.2 1.6 0.4 1.6 0.2 1.6 0.3 1.6-0.2 1.6 0.4 1.6-0.5 1.6 0.3 1.6 0.3 1.6 0.1 1.6-0.7 1.6 0.2 1.6-0.1 1.6 0.2 1.6-0.4 1.6-0.3 1.6 0.8 1.6-0.1 1.6-0.2 1.6-0.9 1.6 0.1 1.6-0.1 1.6 0.7 1.6-0.9 1.6 0.1 1.6 0.6 1.6-0.6 1.6 0.9 1.6-0.6 1.6 0.5 1.6-0.4 1.6 0.9 1.6 0.3 1.6-0.7 1.6 0.2 1.6-0.2 1.6 0.2 1.6 0.2 1.6 0.1 1.6-0.3 1.6-0.3 1.6-8.9 1.6 4.3 1.6 4.9 1.6 1.6 1.6-0.6 1.6-3.1 1.6-5 1.6-2.7 1.6 0.3 1.6-0.8 1.6 2 1.6 3 1.6 5.1 1.6 1.3 1.6 0.5 1.6-1 1.6-1.1 1.6-5.1 1.6-3.7 1.6-0.6 1.6-0.6 1.6 0.4 1.6 2.2 1.6 5.3 1.6-6.2 1.6-0.1 1.6 0.2 1.6-0.6 1.6 0.2 1.6 0 1.6-0.1 1.6 0 1.6 0.7 1.6 0.2 1.6-0.6 1.6-0.6 1.6 0.1 1.6 0.4 1.6-0.6 1.6 0.2 1.6-0.6 1.6 0.5 1.6 0.2 1.6-0.4 1.6 0.3 1.6-0.7 1.6 0.5 1.6-0.2 1.6 0.2 1.6-0.2 1.6 0.3 1.6-0.3 1.6 0.5 1.6-0.4 1.6 0.6 1.6 0.4 1.6-0.1 1.6 0.5 1.6-0.2 1.6-0.2M362.0 714.1l1.6-5.5 1.6-1.7 1.6 0.4 1.6 0.1 1.6 2.9 1.6 5.2 1.6 2.6 1.6-0.2 1.6-0.2 1.6-1.4 1.6-4.2 1.6-3.5 1.6-1.6 1.6-0.2 1.6 0.9 1.6 1.7 1.6 4.5 1.6 3.5 1.6 1.1 1.6-0.3 1.6-0.3 1.6-2.9 1.6-4.7 1.6-2.5 1.6-0.5 1.6 0.5 1.6 0.7 1.6 3.1 1.6 4 1.6 2 1.6 0.4 1.6 0.6 1.6-1.6 1.6-3.7 1.6-4.1 1.6-2.1 1.6 0.1 1.6 1 1.6 4.7 1.6 4 1.6 1 1.6 0.7 1.6-2.7 1.6-4.3 1.6-3.8 1.6-0.5 1.6 0.5 1.6 0.8 1.6 2.4 1.6 4.6 1.6 2.3 1.6 0.2 1.6 0.1 1.6-1.2 1.6-3.8 1.6-4 1.6-1.4 1.6-1.1 1.6 0.8 1.6 1.3 1.6 4.8 1.6 3.8 1.6 0.8 1.6 0.2 1.6-0.6 1.6-2.8 1.6-4 1.6-3.2 1.6-0.8 1.6 1.2 1.6 4.4 1.6 4.8 1.6 1.1 1.6-0.8 1.6-2.8 1.6-5.7 1.6-1.1 1.6-1.1 1.6 1 1.6 0.9 1.6 4.1 1.6 4.1 1.6 0.5 1.6 0.9 1.6-0.2 1.6-2 1.6-4.9 1.6-3.4 1.6-0.6 1.6-0.6 1.6 1.3 1.6 4.8 1.6 3.9 1.6 1 1.6 0.5 1.6-1 1.6-2.5 1.6-4.8 1.6-2.4 1.6-0.4 1.6 2.4 1.6 6.3 1.6 2.2 1.6 0.2 1.6-2.9 1.6-5.9 1.6-2.3M536.4 708.8l1.6-1.7 1.6 0.4 1.6 0.1 1.6 1.9 1.6 3.6 1.6 3.9 1.6 1.4 1.6-0.2 1.6-0.6 1.6-0.6 1.6-4.2 1.6-4.4 1.6-1.4 1.6 0.9 1.6 5.6 1.6 4 1.6 1.1 1.6-1.8 1.6-5.5 1.6-4.1 1.6-0.3 1.6 2 1.6 7.5 1.6 1.7 1.6 0.1 1.6-3.8 1.6-6.5 1.6-0.4 1.6 0 1.6-0.3 1.6 1.3 1.6 2.8 1.6 3.9 1.6 2.9 1.6-0.1 1.6 0.6 1.6-1.2 1.6-0.8 1.6-3.6 1.6-5.6 1.6-0.5 1.6 1.3 1.6 6.1 1.6 4.1 1.6-0.1 1.6-2.8 1.6-6.1 1.6-1.8 1.6-0.1 1.6 1.9 1.6 6.3 1.6 2.9 1.6 0.2 1.6-1.6 1.6-5.8 1.6-2.9 1.6-0.9 1.6-0.3 1.6 0 1.6 1.5 1.6 2.3 1.6 4.4 1.6 1.8 1.6 0.4 1.6 1 1.6-0.7 1.6-1.7 1.6-2.1 1.6-3.7 1.6-2.7 1.6-0.9 1.6 0 1.6 1 1.6 2.2 1.6 3.9 1.6 2.8 1.6 1 1.6 1.1 1.6-0.3 1.6-1.4 1.6-3.9 1.6-4.1 1.6-1.9 1.6 0.6 1.6 3.4 1.6 5.4 1.6 2.1 1.6-1 1.6-4.9 1.6-4.6 1.6-1 1.6-0.6 1.6 1.3 1.6 5.1 1.6 3.8 1.6 1.7 1.6-0.5 1.6-1 1.6-4.4 1.6-4.3 1.6-0.6 1.6-1 1.6 0.3 1.6 0.6 1.6 3.2 1.6 4.1 1.6 2.4M362.0 732.9l1.6-5.4 1.6-2.3 1.6-0.1 1.6 0.6 1.6 6.6 1.6 3.8 1.6-0.7 1.6-0.7 1.6-6.3 1.6-2.9 1.6-0.7 1.6 0.5 1.6 4.1 1.6 5.6 1.6 1 1.6-0.4 1.6-2.3 1.6-6.3 1.6-2.3 1.6 0.1 1.6-0.2 1.6 2.9 1.6 5.6 1.6 1.7 1.6-0.7 1.6 0.1 1.6 0.5 1.6 0.1 1.6-0.9 1.6 0.7 1.6-0.8 1.6 0.7 1.6 0.2 1.6-0.2 1.6 0.2 1.6 0.5 1.6-7.4 1.6-2.2 1.6-1.3 1.6 0.3 1.6 0 1.6 1.1 1.6 3.7 1.6 3.5 1.6 2 1.6 0.4 1.6 0.9 1.6-1 1.6-1.7 1.6-3.1 1.6-4.3 1.6-1.2 1.6-0.1 1.6 0.8 1.6 2.4 1.6 5.7 1.6 2 1.6 0.6 1.6-0.2 1.6-1.6 1.6-5.2 1.6-3.5 1.6-1 1.6-0.5 1.6 2.3 1.6 4 1.6 4.3 1.6 0.9 1.6-0.4 1.6-0.7 1.6-4.3 1.6-4.4 1.6-1.4 1.6 0.2 1.6 1.1 1.6 3 1.6 5.3 1.6 0.9 1.6 1 1.6-0.9 1.6-2.2 1.6-5.2 1.6-3.2 1.6-0.2 1.6 0.7 1.6 4.4 1.6 5.7 1.6 0.2 1.6-0.1 1.6-2.5 1.6-6 1.6-1.8 1.6-0.6 1.6 0.4 1.6 3 1.6 5.1 1.6 3.1 1.6 0 1.6-0.6 1.6-2.5 1.6-5.6 1.6-2.1 1.6-0.8 1.6 0.2 1.6 0.9 1.6 1.5 1.6 3.7M536.4 725.9l1.6 6 1.6 3.8 1.6-0.1 1.6-2.1 1.6-6.7 1.6-2.6 1.6 0.8 1.6 7.4 1.6 3.9 1.6-0.2 1.6-4.4 1.6-6.8 1.6-0.4 1.6 2.1 1.6 7.5 1.6 1.6 1.6-0.8 1.6-6.6 1.6-3 1.6-0.9 1.6 2.4 1.6 7.1 1.6 1.4 1.6 0.9 1.6-3.2 1.6-6.9 1.6-0.9 1.6-0.3 1.6 2.1 1.6 6.9 1.6 1.5 1.6 0.4 1.6-0.9 1.6-6.2 1.6-2.9 1.6-1.5 1.6 0.7 1.6 0.9 1.6 4.6 1.6 4.5 1.6 0.6 1.6 0.6 1.6-1 1.6-2.5 1.6-4.7 1.6-2.6 1.6-1 1.6 0.2 1.6 3.2 1.6 5.1 1.6 2.6 1.6 0.6 1.6 0 1.6-2.4 1.6-5.7 1.6-2.7 1.6-0.3 1.6 0.2 1.6 3.4 1.6 5.1 1.6 2.4 1.6 0.3 1.6-1.1 1.6-4.6 1.6-4.9 1.6-0.7 1.6 0.1 1.6 1.2 1.6 6.3 1.6 3.2 1.6-0.4 1.6-0.1 1.6-4.6 1.6-5.2 1.6-0.5 1.6 0.4 1.6 7.6 1.6 3.3 1.6-1.1 1.6-4.6 1.6-5.1 1.6-0.4 1.6 0.7 1.6 5 1.6 5 1.6-0.2 1.6-0.2 1.6-5.3 1.6-4.6 1.6-0.6 1.6 0.3 1.6 1.3 1.6 5 1.6 3.3 1.6 0.7 1.6 0.4 1.6-2 1.6-5.4 1.6-2.6 1.6-1.8 1.6 1 1.6 0.1 1.6 3.9 1.6 4.6 1.6 1.9 1.6 0.1 1.6 0.1M362.0 753.1l1.6-3.4 1.6-5.5 1.6-2 1.6-0.3 1.6 1.3 1.6 5.6 1.6 3.6 1.6 1.2 1.6-0.6 1.6-2.4 1.6-5.9 1.6-2.2 1.6 0.2 1.6 0.3 1.6 1.6 1.6 6.6 1.6 2 1.6 0.7 1.6-0.4 1.6-2.5 1.6-5.2 1.6-2.7 1.6-0.7 1.6 0.2 1.6 5.5 1.6 4.8 1.6 0.9 1.6-0.1 1.6-2.7 1.6-7 1.6-1.4 1.6-0.4 1.6 0.4 1.6 0.7 1.6 3.2 1.6 4.4 1.6 2.1 1.6 0.9 1.6-0.2 1.6-0.4 1.6-2.7 1.6-5.1 1.6-3.3 1.6-0.2 1.6 1.4 1.6 6.8 1.6 3.1 1.6 0.4 1.6-1.8 1.6-7.3 1.6-2.4 1.6-0.2 1.6-0.2 1.6 1.1 1.6 0.5 1.6 3.7 1.6 3.8 1.6 2 1.6 0.8 1.6-0.1 1.6-0.9 1.6-0.4 1.6-3.5 1.6-4.2 1.6-2 1.6 0.2 1.6-0.7 1.6-0.1 1.6 1.7 1.6 3.1 1.6 3.7 1.6 1.8 1.6 1.4 1.6-0.4 1.6-0.3 1.6-1.1 1.6-1.8 1.6-5.1 1.6-2.6 1.6 0.1 1.6 1.1 1.6 4.1 1.6 5.2 1.6 0.3 1.6 0.3 1.6-3.5 1.6-5.8 1.6-1.7 1.6-0.3 1.6-0.3 1.6 1.3 1.6 4.7 1.6 4.3 1.6 1.1 1.6-0.4 1.6 0.6 1.6-1.1 1.6-4 1.6-4.5 1.6-1.6 1.6-0.2 1.6-0.1 1.6 1.5 1.6 3 1.6 5.1 1.6 1.1 1.6 0.5M536.4 744.5l1.6 5.1 1.6 3.5 1.6 0 1.6 0.6 1.6-2.1 1.6-4.7 1.6-4.7 1.6 0.7 1.6 3.3 1.6 6 1.6 1.7 1.6-2.2 1.6-7.5 1.6-1.7 1.6-0.1 1.6-0.3 1.6 0.8 1.6 2.5 1.6 5 1.6 2.7 1.6 0.1 1.6 0.4 1.6-0.8 1.6-2.1 1.6-4.6 1.6-3 1.6-0.8 1.6 0.2 1.6 0.7 1.6 1.6 1.6 3.2 1.6 3.4 1.6 2.2 1.6-0.5 1.6 0.3 1.6-1.6 1.6-2.9 1.6-3.7 1.6-2.7 1.6-0.3 1.6 0.7 1.6 1.5 1.6 4.3 1.6 3.6 1.6 0.8 1.6 0.5 1.6-1 1.6-4.2 1.6-3.9 1.6-1.7 1.6-0.3 1.6 0.9 1.6 4.5 1.6 5 1.6 0.5 1.6-0.4 1.6-1.9 1.6-5.3 1.6-3.4 1.6-0.3 1.6 1.5 1.6 4 1.6 4.6 1.6 0.9 1.6-0.5 1.6-2.6 1.6-5.9 1.6-2.2 1.6 0.5 1.6 0.5 1.6 1.3 1.6 4.5 1.6 3.7 1.6 0.8 1.6 0.1 1.6-0.4 1.6-2.2 1.6-4.6 1.6-2.8 1.6-1.4 1.6 0.6 1.6 0.6 1.6 4.1 1.6 4.2 1.6 2.2 1.6-0.2 1.6-0.4 1.6-2.2 1.6-4.4 1.6-4 1.6 0.3 1.6-0.1 1.6 2.3 1.6 6.2 1.6 1.5 1.6 1.1 1.6-1.1 1.6-3.1 1.6-5.2 1.6-1.9 1.6 1.1 1.6 6.5 1.6 3.1 1.6 0.1 1.6-5.5 1.6-5 1.6-0.2M362.0 770.4l1.6 1 1.6-0.8 1.6-2.7 1.6-2.6 1.6-3.8 1.6-0.7 1.6-1.1 1.6 0.1 1.6 0.9 1.6 1.9 1.6 3.4 1.6 2.6 1.6 1.8 1.6 0.1 1.6 0.1 1.6-0.4 1.6-2.3 1.6-2.5 1.6-4.5 1.6-1.1 1.6-0.4 1.6 2 1.6 3 1.6 4.3 1.6 2.3 1.6-0.1 1.6-0.9 1.6-3.2 1.6-4.7 1.6-2.2 1.6-0.5 1.6 0.4 1.6 1.7 1.6 3.8 1.6 4.3 1.6 0.8 1.6 0.2 1.6-0.5 1.6-2.2 1.6-3.2 1.6-2.9 1.6-1.1 1.6-0.9 1.6 0.1 1.6 0.7 1.6 2.3 1.6 2.9 1.6 3.3 1.6 1.2 1.6 0.8 1.6 0.2 1.6-1 1.6-2.4 1.6-2.6 1.6-3.6 1.6-2.1 1.6-0.3 1.6 0.9 1.6 1.7 1.6 3.2 1.6 3.9 1.6 1.5 1.6 0.8 1.6-0.9 1.6-0.6 1.6-3.2 1.6-4.4 1.6-2.4 1.6 0.4 1.6 1.7 1.6 4.8 1.6 4 1.6 0 1.6-0.6 1.6-5.7 1.6-3.6 1.6-1 1.6 0.1 1.6 2 1.6 4.2 1.6 3.6 1.6 0.7 1.6 0.8 1.6-2.8 1.6-5.1 1.6-2.6 1.6-1.5 1.6 0.6 1.6 3 1.6 4.7 1.6 3.1 1.6 0.7 1.6-1.1 1.6-2.1 1.6-4.8 1.6-2.5 1.6-0.6 1.6-0.9 1.6 0.5 1.6 1.8 1.6 2.8 1.6 3.5M536.4 765.1l1.6-3.7 1.6-1 1.6-0.1 1.6-0.5 1.6 2.2 1.6 5.1 1.6 3.2 1.6 0.3 1.6 0.6 1.6-1.2 1.6-2.3 1.6-5.3 1.6-2 1.6-0.3 1.6-0.3 1.6 0 1.6 1.9 1.6 2.6 1.6 4 1.6 1.6 1.6 1.5 1.6-0.2 1.6-0.4 1.6-1.5 1.6-3.9 1.6-3.5 1.6-1.7 1.6 0.2 1.6 1 1.6 6.4 1.6 2.5 1.6 0.2 1.6-0.8 1.6-6.2 1.6-2.9 1.6-1 1.6 0.6 1.6 0.3 1.6-0.1 1.6 2.5 1.6 4.2 1.6 2.7 1.6 1.2 1.6 0.2 1.6-0.7 1.6-0.9 1.6-2.1 1.6-3.7 1.6-3.3 1.6-0.8 1.6-0.4 1.6 0.5 1.6 0.2 1.6 1.1 1.6 1.5 1.6 4 1.6 2.8 1.6 0.8 1.6 1.2 1.6-0.3 1.6-0.8 1.6 0.3 1.6-1.6 1.6-3 1.6-3.7 1.6-1.7 1.6-0.6 1.6-0.7 1.6 0.8 1.6 1.8 1.6 3.8 1.6 3.7 1.6-0.4 1.6 0.8 1.6-0.4 1.6-0.5 1.6 0.2 1.6 0.1 1.6-0.1 1.6-0.3 1.6 0 1.6 0 1.6 0.6 1.6-1.1 1.6 0.8 1.6-0.8 1.6 0 1.6 0.1 1.6 0.3 1.6-0.3 1.6-0.8 1.6 0.6 1.6-0.4 1.6 0 1.6 0.1 1.6 0.7 1.6 0.2 1.6-0.3 1.6-0.2 1.6 0 1.6 0.9 1.6-0.2 1.6 0.4 1.6-0.6 1.6 0.6 1.6 0.3 1.6 0.1M362.0 777.8l1.6-0.3 1.6 0.3 1.6 1.9 1.6 4.9 1.6 3.8 1.6 0.3 1.6-0.5 1.6 0.4 1.6-0.3 1.6-1.6 1.6-5.6 1.6-3.6 1.6-0.1 1.6 0.4 1.6 0 1.6 1.4 1.6 6.2 1.6 2.3 1.6 0.4 1.6 0.4 1.6-0.8 1.6-2.6 1.6-5.8 1.6-1.4 1.6-0.9 1.6 0.5 1.6 0.5 1.6 4.3 1.6 5 1.6 1.4 1.6 0.2 1.6-0.3 1.6-1.4 1.6-6.6 1.6-2.8 1.6-0.3 1.6-0.1 1.6 0.2 1.6 0.3 1.6 0.5 1.6 2.6 1.6 4.3 1.6 2.6 1.6 0.8 1.6-0.2 1.6 0.3 1.6 0 1.6-1.1 1.6-2.6 1.6-4.4 1.6-2.8 1.6-0.6 1.6-0.1 1.6 0.5 1.6 1.1 1.6 5.1 1.6 4.2 1.6-0.2 1.6 0.5 1.6 0.3 1.6-0.9 1.6-3.5 1.6-5.5 1.6-0.9 1.6-0.4 1.6 0.3 1.6 0.9 1.6 4.7 1.6 4.6 1.6 0.9 1.6 0 1.6-0.1 1.6-2.1 1.6-5.9 1.6-2.6 1.6-0.3 1.6-0.4 1.6-0.2 1.6 0.5 1.6 4.1 1.6 4.8 1.6 1.2 1.6 0 1.6 0.4 1.6-0.4 1.6-1.6 1.6-6.5 1.6-1.8 1.6-0.2 1.6-0.4 1.6 1.1 1.6 5.5 1.6 3.9 1.6 0.3 1.6-0.2 1.6 0.3 1.6-4.7 1.6-5.9M536.4 783.7l1.6 3.5 1.6 0.8 1.6 0.7 1.6-0.4 1.6-0.3 1.6-9.7 1.6-0.5 1.6-0.2 1.6 0.3 1.6 0.7 1.6-0.6 1.6 0.3 1.6-0.1 1.6 0.1 1.6 0 1.6 0.9 1.6-0.1 1.6-0.3 1.6 0.5 1.6 0.1 1.6-0.7 1.6 9.8 1.6-3.3 1.6-6.9 1.6-1 1.6 0.2 1.6 0 1.6 3.2 1.6 6.8 1.6 0.8 1.6 0.4 1.6-0.2 1.6-2.7 1.6-7.2 1.6-0.9 1.6-0.6 1.6 0.6 1.6 3.5 1.6 6.8 1.6 0.4 1.6-0.3 1.6 0.2 1.6-5.7 1.6-4.8 1.6-0.7 1.6 0.9 1.6 6.1 1.6 4.2 1.6 0.2 1.6 0 1.6-6.7 1.6-3.7 1.6-0.4 1.6 0 1.6-0.8 1.6 0.7 1.6 2.9 1.6 5.6 1.6 1.9 1.6 0.3 1.6 0.1 1.6-0.1 1.6-1.1 1.6-5.4 1.6-3.9 1.6 0 1.6-0.5 1.6 7.2 1.6 3.8 1.6 0.1 1.6-1.3 1.6-7.2 1.6-2.3 1.6-0.5 1.6-0.3 1.6 0.1 1.6 1.2 1.6 1.5 1.6 3.9 1.6 3.8 1.6 0.4 1.6 1.1 1.6-0.8 1.6 0.4 1.6-0.5 1.6-3.5 1.6-5.1 1.6-2.1 1.6-0.5 1.6 0 1.6 0.2 1.6 0.5 1.6 0.9 1.6 3.9 1.6 4.1 1.6 2.2 1.6 0.3 1.6 0.1 1.6-0.1 1.6-0.5 1.6-2.3 1.6-4.2 1.6-3.9 1.6 0 1.6-0.5 1.6-0.2 1.6-0.1M362.0 795.4l1.6-0.7 1.6-0.1 1.6-0.1 1.6 0 1.6 1 1.6 3.3 1.6 5.5 1.6 1 1.6 0.3 1.6 0.9 1.6 0 1.6-1 1.6-0.1 1.6-1.2 1.6-5.3 1.6-3.3 1.6-0.5 1.6-0.8 1.6 0.8 1.6 0.3 1.6 1.3 1.6 5.6 1.6 3.5 1.6 0.7 1.6 0 1.6-0.8 1.6 0.3 1.6-2.2 1.6-5.3 1.6-2.9 1.6-0.1 1.6-0.2 1.6-0.9 1.6 0.3 1.6 0.7 1.6-0.6 1.6 0.9 1.6 2.8 1.6 4.1 1.6 2.9 1.6 0 1.6 0.6 1.6 0 1.6-0.6 1.6 0.8 1.6-0.2 1.6-0.6 1.6-3.1 1.6-4.4 1.6-2.3 1.6-0.6 1.6 0.2 1.6-0.9 1.6 0.3 1.6 0.3 1.6 4.1 1.6 5 1.6 1.2 1.6 1 1.6-0.3 1.6-0.1 1.6 0.2 1.6-1.1 1.6-5 1.6-4.2 1.6-0.9 1.6-0.4 1.6 0 1.6 0.5 1.6 0.9 1.6 2.3 1.6 5.4 1.6 1.6 1.6 1.2 1.6-0.6 1.6 0 1.6 0.2 1.6-1.2 1.6-6 1.6-3.9 1.6 0.5 1.6-0.5 1.6-0.3 1.6 3.5 1.6 6.6 1.6 0.8 1.6 0.1 1.6 0.2 1.6-0.3 1.6-6.4 1.6-3.8 1.6-0.6 1.6-0.3 1.6 0.6 1.6-0.3 1.6 2.1 1.6 4.9 1.6 3.1 1.6 1.3 1.6-0.1 1.6 0.2 1.6-0.2 1.6-1.6 1.6-4.2 1.6-4.8 1.6 0 1.6-0.3M536.4 794.4l1.6 0.9 1.6 0.4 1.6 4.4 1.6 4.8 1.6 0.6 1.6 0.7 1.6 0.3 1.6-0.5 1.6-1.4 1.6-4.4 1.6-4.2 1.6-0.5 1.6-0.6 1.6-0.5 1.6 0.4 1.6 0.2 1.6 1.2 1.6 2.8 1.6 4.6 1.6 1.9 1.6 0.1 1.6 0.8 1.6-0.4 1.6 0.3 1.6-0.5 1.6-2.3 1.6-4.4 1.6-3.8 1.6-0.1 1.6 0.1 1.6-0.2 1.6 0.3 1.6 2.2 1.6 5 1.6 3.3 1.6 0.4 1.6-0.8 1.6 0.7 1.6-0.6 1.6-2.3 1.6-4.9 1.6-3.5 1.6 0 1.6 0.1 1.6 0.3 1.6 2.9 1.6 5.8 1.6 1.9 1.6 0.4 1.6-0.8 1.6-0.4 1.6-5.4 1.6-4.6 1.6-0.6 1.6 0.9 1.6 1 1.6 6.5 1.6 2.9 1.6-0.1 1.6 0.3 1.6-2.8 1.6-7.2 1.6-1.5 1.6 0.9 1.6-0.8 1.6 1 1.6 4.3 1.6 4.4 1.6 1.5 1.6 0.6 1.6-0.1 1.6-0.8 1.6-4.5 1.6-5.1 1.6-1 1.6 0.3 1.6-0.2 1.6 1.8 1.6 6.1 1.6 2.6 1.6 0.5 1.6 0.5 1.6-1.3 1.6-3.6 1.6-5.3 1.6-1 1.6-0.7 1.6 0.1 1.6 4.1 1.6 5.8 1.6 1.7 1.6-0.7 1.6-0.5 1.6-4.2 1.6-5.3 1.6-0.4 1.6-0.6 1.6 0.6 1.6 1.1 1.6 4.4 1.6 4.3 1.6 1.3 1.6-0.8 1.6 0.4 1.6-0.5 1.6-3.9 1.6-5M362.0 813.7l1.6 0.3 1.6-0.1 1.6 0.6 1.6-0.8 1.6 0.8 1.6 0.8 1.6 1.8 1.6 2.9 1.6 2.5 1.6-0.9 1.6-0.1 1.6 0.4 1.6 0.4 1.6-0.1 1.6-0.6 1.6-0.1 1.6 1.2 1.6-0.1 1.6-0.8 1.6-0.1 1.6 0.7 1.6-0.5 1.6-0.7 1.6-3 1.6-1.9 1.6-2.6 1.6-1.2 1.6 0.1 1.6 1.1 1.6-0.3 1.6-0.4 1.6 2.2 1.6 2.3 1.6 2.5 1.6 2.2 1.6-0.8 1.6 0.1 1.6 0.8 1.6-0.9 1.6 0.1 1.6-0.5 1.6 0.6 1.6 0.5 1.6-1.9 1.6-3.2 1.6-2.5 1.6-0.4 1.6 0.7 1.6-0.3 1.6-0.2 1.6-0.7 1.6 0.1 1.6 1 1.6-0.9 1.6 0.9 1.6 0.2 1.6-0.4 1.6-0.2 1.6 0 1.6 1.7 1.6 2.8 1.6 1.1 1.6 1.2 1.6 0.2 1.6 0.8 1.6-0.4 1.6 0.1 1.6 0.3 1.6-1 1.6 0.8 1.6 0.1 1.6-0.2 1.6-0.2 1.6 0.6 1.6 0.1 1.6-1.2 1.6-0.2 1.6-1.2 1.6-3.9 1.6-1.3 1.6 2.7 1.6 2.9 1.6 1.4 1.6 0.9 1.6 0.4 1.6-1.1 1.6 1 1.6 0 1.6-0.3 1.6 0 1.6-0.8 1.6 0.8 1.6 0.3 1.6-0.9 1.6 0.4 1.6 0.1 1.6 0.2 1.6-0.6 1.6-3.2 1.6-2 1.6-2.3 1.6 1.2 1.6 2 1.6 2.5 1.6 1 1.6 1 1.6-1M536.4 813.4l1.6 1.2 1.6 1.5 1.6 2.9 1.6 2.6 1.6-1.4 1.6-3 1.6-2 1.6-0.6 1.6 1.7 1.6 3.3 1.6 1.6 1.6 1.6 1.6-0.6 1.6-0.4 1.6 0.1 1.6-1.4 1.6-2.6 1.6-2 1.6-2.1 1.6-0.5 1.6 0.9 1.6-0.3 1.6 0.6 1.6 1.5 1.6 3.7 1.6 1.4 1.6 1.2 1.6-0.6 1.6 0.6 1.6-1 1.6 0.1 1.6 0.9 1.6-0.4 1.6-2.8 1.6-2.2 1.6-3.3 1.6 0.2 1.6-0.1 1.6-0.1 1.6 0.2 1.6 0.7 1.6-1.2 1.6 1 1.6-0.5 1.6-0.4 1.6 1.1 1.6-0.2 1.6-0.2 1.6 0 1.6-0.1 1.6-0.7 1.6 2.3 1.6 1.8 1.6 3.1 1.6 1.6 1.6-0.2 1.6 0.3 1.6 0.2 1.6 0 1.6 0 1.6 0.1 1.6 0.1 1.6-0.2 1.6-0.3 1.6-2.5 1.6-2.4 1.6-2.3 1.6-1.3 1.6-0.5 1.6 0.1 1.6 0.6 1.6 0.6 1.6 2.1 1.6 2.8 1.6 1.9 1.6 1.7 1.6-0.4 1.6-0.2 1.6 0.7 1.6-0.6 1.6-0.6 1.6 0.7 1.6 0.2 1.6-2.6 1.6-2.3 1.6-2.5 1.6-1.3 1.6 0.6 1.6-0.3 1.6-0.7 1.6 0.5 1.6 1.5 1.6 2.2 1.6 3.7 1.6 1.5 1.6-1.1 1.6 0.6 1.6-0.8 1.6 1.3 1.6-0.4 1.6 0.4 1.6-0.1 1.6-0.2 1.6-1 1.6 0.2 1.6 0.4 1.6-0.3M362.0 839.7l1.6 0.5 1.6-0.2 1.6 0 1.6 0 1.6 0.3 1.6-0.1 1.6-0.4 1.6 0.8 1.6-0.2 1.6-0.8 1.6 0.7 1.6-0.3 1.6 0.7 1.6-0.6 1.6-0.6 1.6-0.2 1.6-2.9 1.6-2.9 1.6-2.3 1.6 0.2 1.6-0.2 1.6-0.4 1.6-0.4 1.6 0.4 1.6 0.3 1.6 0.1 1.6 2.2 1.6 3 1.6 1.9 1.6 1.4 1.6 0.2 1.6-0.1 1.6 0.1 1.6-0.8 1.6-0.3 1.6-3 1.6-3.3 1.6-1.5 1.6 2.2 1.6 3.7 1.6 1.6 1.6 1.2 1.6 0.4 1.6-0.1 1.6-0.5 1.6-0.1 1.6-0.6 1.6-3 1.6-3.1 1.6-1.8 1.6 0.7 1.6-0.1 1.6-0.4 1.6-0.1 1.6 0.4 1.6-0.3 1.6 0.1 1.6-0.5 1.6 0.2 1.6 0.3 1.6-0.1 1.6 0.2 1.6-0.6 1.6 0.7 1.6-0.7 1.6 0.7 1.6 0 1.6 2.7 1.6 2.5 1.6 1.9 1.6 0.4 1.6 1 1.6-0.7 1.6 0.4 1.6-0.3 1.6-0.5 1.6 1 1.6-1.6 1.6-3.4 1.6-2.4 1.6-0.2 1.6-0.2 1.6 0.4 1.6-0.7 1.6 0.6 1.6-1 1.6 1.1 1.6 0.4 1.6 2.5 1.6 4.9 1.6-2.2 1.6-2.6 1.6-2.3 1.6-2.6 1.6 0.3 1.6 0.6 1.6-1.1 1.6 0.4 1.6 0.3 1.6-0.7 1.6 0.1 1.6 0.9 1.6-0.9 1.6 0.8 1.6-0.2 1.6-0.2 1.6-0.5M536.4 841.0l1.6-1 1.6-3 1.6-3.1 1.6-1.2 1.6-1.6 1.6-0.1 1.6 0.1 1.6 0.6 1.6-0.1 1.6 0.7 1.6-1.2 1.6 1.3 1.6-0.2 1.6-0.9 1.6 0.3 1.6 2.2 1.6 2.5 1.6 4 1.6-1.1 1.6-2.9 1.6-3.5 1.6-1 1.6-0.3 1.6 0.4 1.6-0.8 1.6 0.4 1.6-0.3 1.6 1 1.6-0.5 1.6 0.6 1.6-0.9 1.6-0.3 1.6 0.5 1.6-0.4 1.6 0.8 1.6 2.6 1.6 2.1 1.6 3.3 1.6 0.1 1.6-0.2 1.6 0 1.6-1.2 1.6-1.3 1.6-3.8 1.6-2.7 1.6-0.6 1.6 0.3 1.6 0.6 1.6-0.7 1.6-0.2 1.6 0.6 1.6 0.2 1.6-0.1 1.6 0.1 1.6-0.6 1.6 0.9 1.6 0.2 1.6 3.1 1.6 3.3 1.6 1.5 1.6 0.4 1.6-1.4 1.6-2 1.6-4 1.6-1.1 1.6-0.5 1.6 0.7 1.6 0.1 1.6 3.4 1.6 2.3 1.6 3 1.6 0.2 1.6-1.5 1.6-2.3 1.6-2.8 1.6-2.6 1.6 0.2 1.6 0 1.6-0.3 1.6 0.4 1.6 0.1 1.6 0.9 1.6 2.3 1.6 3.2 1.6 0.8 1.6 1.1 1.6-1.3 1.6 0.7 1.6 0.3 1.6-0.2 1.6-0.3 1.6-0.5 1.6 0.4 1.6-0.6 1.6-1.6 1.6-3.1 1.6-2.6 1.6 1.8 1.6 2.3 1.6 3.5 1.6 0.5 1.6 0 1.6 0.5 1.6-1.3 1.6 0.5 1.6-0.6 1.6 0.8M362.0 848.4l1.6 0.1 1.6 0.7 1.6-0.6 1.6 0.7 1.6 0.2 1.6 2.4 1.6 2.5 1.6 2.3 1.6 1.4 1.6 0 1.6-0.1 1.6-0.7 1.6-0.1 1.6 0.7 1.6 0 1.6-0.3 1.6 0.4 1.6-1 1.6 0.5 1.6-0.5 1.6 0.6 1.6-0.9 1.6-1.7 1.6-2.7 1.6-2.9 1.6-0.3 1.6-0.4 1.6-0.1 1.6 0.1 1.6 0.3 1.6-0.1 1.6-0.2 1.6-0.6 1.6 0.5 1.6-0.1 1.6 0.4 1.6-0.7 1.6-0.2 1.6 1.2 1.6 2.7 1.6 2.8 1.6 1.7 1.6 0.5 1.6-0.3 1.6 0.5 1.6-0.6 1.6-0.2 1.6 1.3 1.6-0.3 1.6-0.5 1.6 0.5 1.6-0.2 1.6-0.8 1.6-1.5 1.6-2.6 1.6-2.5 1.6-1.4 1.6 0 1.6-0.1 1.6-0.1 1.6 0.6 1.6-0.8 1.6 0.5 1.6 0.4 1.6 3.3 1.6 2.5 1.6 1.3 1.6 1 1.6 0.3 1.6 0.1 1.6 0 1.6-0.9 1.6 1 1.6 0.1 1.6-1 1.6-0.3 1.6 0 1.6 1.1 1.6-0.8 1.6 0.3 1.6 0.1 1.6-0.5 1.6 0.4 1.6-1.4 1.6-1.9 1.6-2.9 1.6-2.2 1.6 0.1 1.6 0.5 1.6-0.5 1.6 0.2 1.6-0.9 1.6 0.6 1.6 0 1.6 0.2 1.6 0.2 1.6 0.2 1.6-0.4 1.6-0.3 1.6 0.1 1.6 0.4 1.6-0.9 1.6 0.9 1.6 1 1.6 1.6 1.6 2.7 1.6 2.4M536.4 848.2l1.6 2.3 1.6 2.5 1.6 2.8 1.6 0.3 1.6-0.1 1.6-1.5 1.6-3.2 1.6-2 1.6-0.3 1.6-0.7 1.6 0.1 1.6 0.4 1.6-0.7 1.6-0.3 1.6 0.6 1.6-0.5 1.6 1.2 1.6-1.2 1.6 0.2 1.6 0.5 1.6 0 1.6 0 1.6 0.1 1.6 2.9 1.6 2.4 1.6 3 1.6 0.5 1.6-0.5 1.6-0.5 1.6 0.5 1.6-0.3 1.6 0.2 1.6-0.5 1.6 0 1.6 0.4 1.6-0.1 1.6 0.6 1.6-1 1.6-0.5 1.6-2.9 1.6-3.1 1.6-0.5 1.6-1.3 1.6 0.6 1.6 0.5 1.6-0.3 1.6-0.6 1.6 0.4 1.6-0.7 1.6 0.4 1.6 0.7 1.6-0.6 1.6 0.1 1.6 0.6 1.6-0.2 1.6 1 1.6 2.2 1.6 3.7 1.6 1.4 1.6 0 1.6 0.6 1.6-0.9 1.6 0.3 1.6 0.2 1.6 0 1.6 0 1.6 0.3 1.6-0.1 1.6-0.7 1.6 0 1.6-0.9 1.6-3.6 1.6-3.1 1.6-0.7 1.6 0.6 1.6-0.5 1.6 2.2 1.6 2.9 1.6 2.3 1.6 0 1.6 0.2 1.6 0.3 1.6-0.5 1.6 0.5 1.6 0.3 1.6-0.2 1.6-0.1 1.6 0.4 1.6-1.9 1.6-3.1 1.6-1.6 1.6-1.4 1.6-0.4 1.6 0.5 1.6 0.9 1.6 1.8 1.6 2.5 1.6 2.2 1.6 0.4 1.6-0.6 1.6 0.9 1.6-0.8 1.6 0 1.6-0.3 1.6 0.8 1.6 0.5 1.6-1.1M362.0 874.8l1.6 0 1.6 0.3 1.6-0.9 1.6 0.1 1.6 0.6 1.6 0 1.6-0.3 1.6 0.1 1.6-0.3 1.6 0.6 1.6 0 1.6-1.1 1.6 1.3 1.6-0.1 1.6-1.1 1.6 0.9 1.6-0.6 1.6-3.4 1.6-2.9 1.6-1.2 1.6-0.6 1.6 0.3 1.6-0.2 1.6-0.7 1.6 1.4 1.6 2.8 1.6 1.7 1.6 2.3 1.6 0.1 1.6 0 1.6 0.9 1.6-0.9 1.6 1 1.6-0.7 1.6 0.5 1.6-0.8 1.6 0.6 1.6-0.2 1.6-0.6 1.6 0.8 1.6 0.5 1.6-1 1.6 0.9 1.6-0.2 1.6-0.7 1.6 0.4 1.6-3.1 1.6-2.8 1.6-1.8 1.6-0.7 1.6 0 1.6 0.1 1.6-0.1 1.6 0.6 1.6-0.4 1.6 0.4 1.6-0.9 1.6-0.1 1.6 0.4 1.6-0.4 1.6 1.1 1.6-0.9 1.6 1.3 1.6 1.7 1.6 3.5 1.6 1.7 1.6 0.2 1.6-1.6 1.6-1.8 1.6-3.5 1.6-0.7 1.6 0 1.6 0.5 1.6-0.3 1.6 0.6 1.6-0.6 1.6 1.5 1.6 2.9 1.6 2.8 1.6 0 1.6 1.4 1.6-0.2 1.6-1.2 1.6-0.2 1.6-1.3 1.6-3.3 1.6-3.1 1.6-0.6 1.6 0.2 1.6-0.1 1.6 0.6 1.6-0.6 1.6 1.4 1.6 2.7 1.6 2.7 1.6 1.5 1.6-0.2 1.6 0.8 1.6-0.1 1.6-0.3 1.6 0.2 1.6 0 1.6-0.2 1.6-0.2 1.6 0.3 1.6 0.6 1.6-0.2M536.4 871.5l1.6-3.1 1.6-1.6 1.6 1.8 1.6 2.3 1.6 2.5 1.6 0.8 1.6-0.3 1.6 0 1.6-1.3 1.6-2.7 1.6-3.3 1.6-0.9 1.6 0.9 1.6-0.2 1.6-0.2 1.6 0.1 1.6-0.1 1.6-0.2 1.6-0.3 1.6 0.7 1.6-0.1 1.6-0.4 1.6 0.8 1.6-0.5 1.6-0.5 1.6 1.1 1.6 1.4 1.6 3.6 1.6 1.6 1.6 1.2 1.6-0.4 1.6 0.2 1.6 0.4 1.6-0.2 1.6-0.3 1.6-2.1 1.6-2.4 1.6-3.5 1.6 0.1 1.6-0.8 1.6 0.2 1.6 0 1.6 0.4 1.6 0.1 1.6-0.5 1.6 0.3 1.6 0.1 1.6 0.6 1.6 0.1 1.6-0.3 1.6-0.5 1.6-0.6 1.6 2.1 1.6 2.9 1.6 2.6 1.6 1.5 1.6-0.2 1.6 0.7 1.6-0.7 1.6 1.1 1.6-1.7 1.6-2.7 1.6-2.3 1.6-2.4 1.6-1.1 1.6 1.2 1.6-0.7 1.6 0.2 1.6 0.3 1.6 0.1 1.6-1.1 1.6 1.2 1.6 2.2 1.6 3.2 1.6 2.5 1.6-0.3 1.6-0.4 1.6-0.8 1.6-3.2 1.6-1.4 1.6-1.7 1.6 1 1.6-1 1.6-0.2 1.6 1.5 1.6 1.2 1.6 2.7 1.6 2.2 1.6 0.5 1.6 0.1 1.6 0.5 1.6-0.3 1.6-0.3 1.6 0.5 1.6 0.3 1.6-0.2 1.6-0.5 1.6 0.3 1.6-0.3 1.6-3.4 1.6-2.5 1.6-2.1 1.6 0.1 1.6 0.3 1.6-0.8 1.6 0.8 1.6-0.3M362.0 888.4l1.6-1.5 1.6-2.2 1.6 0.4 1.6-1.1 1.6 0.4 1.6 0.1 1.6 1.1 1.6 1.9 1.6 2.6 1.6 1.8 1.6 0.9 1.6 0.2 1.6-1.2 1.6 0.8 1.6-0.1 1.6 0.1 1.6 0 1.6 0.1 1.6 0 1.6-2.2 1.6-3.1 1.6-2.2 1.6-0.8 1.6-0.7 1.6 1.2 1.6-0.6 1.6 0 1.6 0.9 1.6 1.6 1.6 2.2 1.6 2.5 1.6 0 1.6 0.1 1.6 0.2 1.6 0.2 1.6-0.1 1.6 0.4 1.6-0.7 1.6 0.9 1.6-0.7 1.6-0.5 1.6-1 1.6-1.5 1.6-2.7 1.6-2.3 1.6 0.8 1.6 0.2 1.6 0 1.6 2 1.6 3.2 1.6 2.1 1.6-0.1 1.6 0.7 1.6-0.9 1.6 1.2 1.6-0.5 1.6-2.5 1.6-3.4 1.6-2.7 1.6-0.5 1.6-0.2 1.6 0.2 1.6 0 1.6-0.5 1.6 0.5 1.6-0.2 1.6 0.2 1.6 0.5 1.6-0.9 1.6-0.1 1.6 1 1.6 0.2 1.6-0.2 1.6 1.2 1.6 2.7 1.6 4.7 1.6-2.8 1.6-2.9 1.6-2.2 1.6-0.7 1.6 0.7 1.6-0.5 1.6-0.7 1.6 0.2 1.6 0.5 1.6 1 1.6 3.9 1.6 2.6 1.6 1.3 1.6 0.1 1.6-0.2 1.6 0 1.6 0.1 1.6-0.1 1.6 0 1.6-0.1 1.6 0.1 1.6-0.4 1.6 0.3 1.6-0.3 1.6 0.5 1.6 0.1 1.6 0.3 1.6-0.6 1.6 0 1.6-0.1 1.6-2.8M536.4 892.0l1.6 0.6 1.6-0.3 1.6-0.2 1.6 0.1 1.6 0.5 1.6 0.1 1.6-0.3 1.6-0.2 1.6-0.3 1.6 0.2 1.6 0.4 1.6 0.2 1.6-0.4 1.6-2.9 1.6-2.7 1.6-2.4 1.6 0 1.6-0.1 1.6 0.2 1.6-0.4 1.6 0.3 1.6 1 1.6 1.8 1.6 3 1.6 1.9 1.6 0.3 1.6-0.8 1.6 0.6 1.6-0.9 1.6 0.4 1.6-0.2 1.6-0.2 1.6 0.8 1.6-1.8 1.6-2.2 1.6-2.7 1.6-0.8 1.6-0.5 1.6 0.8 1.6-0.2 1.6-0.1 1.6 0.7 1.6 0.8 1.6 3.6 1.6 2 1.6-0.5 1.6 1.1 1.6-0.7 1.6 0.9 1.6 0 1.6-0.6 1.6-2 1.6-2.6 1.6-2.2 1.6-1.1 1.6-0.7 1.6-0.1 1.6 0.3 1.6-0.6 1.6-0.1 1.6 1.5 1.6 1.8 1.6 3.2 1.6 3 1.6 0.9 1.6 0 1.6-1 1.6 0 1.6-0.4 1.6-3.7 1.6-2.7 1.6-2.3 1.6 0.4 1.6 0.4 1.6 2.7 1.6 3.7 1.6 1.8 1.6 0.1 1.6 0.4 1.6-0.1 1.6 0.7 1.6-1 1.6 1 1.6-1.5 1.6-3.2 1.6-3.6 1.6-1 1.6-0.9 1.6-0.1 1.6 1.2 1.6-0.9 1.6 0 1.6 0.1 1.6-0.5 1.6 0.7 1.6-0.1 1.6 0.8 1.6 1.8 1.6 3.2 1.6 1.6 1.6 1.1 1.6 0.9 1.6-1.1 1.6 0.5 1.6-0.3 1.6 0.6 1.6 0.1M362.0 902.7l1.6 1.4 1.6 2.5 1.6 2.3 1.6 0.5 1.6-0.3 1.6 0.6 1.6-0.2 1.6 0 1.6-1.1 1.6-2.2 1.6-1.6 1.6-2.2 1.6-0.8 1.6 0.1 1.6 0.1 1.6 0.4 1.6 2.9 1.6 2.1 1.6 2 1.6-0.3 1.6-2.4 1.6-2.3 1.6-2.4 1.6 0.4 1.6 1.7 1.6 1.9 1.6 2.7 1.6 0.8 1.6 0.2 1.6 0.7 1.6-0.7 1.6 0.5 1.6-0.4 1.6-0.4 1.6 0.7 1.6 0.2 1.6-0.3 1.6-0.1 1.6 0.2 1.6-0.4 1.6 0.6 1.6 0.3 1.6-2 1.6-2.3 1.6-1.7 1.6-2.2 1.6-1.1 1.6 0.5 1.6-0.2 1.6 0.2 1.6-0.4 1.6 1.6 1.6 2.3 1.6 2.8 1.6 0.8 1.6 1.1 1.6-1 1.6 0.7 1.6-0.3 1.6 0.3 1.6 0.6 1.6-0.2 1.6-0.1 1.6 0.1 1.6-0.4 1.6 0.2 1.6 0.4 1.6-0.7 1.6 0 1.6-0.4 1.6 0.7 1.6 0.3 1.6-2.7 1.6-2.4 1.6-2.7 1.6-0.6 1.6-0.6 1.6-0.3 1.6 1.9 1.6 2.2 1.6 2.9 1.6 2.3 1.6-0.1 1.6-0.3 1.6 0 1.6-0.3 1.6 0.9 1.6-0.8 1.6-0.1 1.6 0.7 1.6 0.4 1.6-0.9 1.6 0.1 1.6-3 1.6-5.3 1.6 1.9 1.6 2.3 1.6 1.8 1.6 1.9 1.6-0.2 1.6 0 1.6-0.3 1.6 1 1.6-0.1 1.6-0.2 1.6-0.4 1.6 0M536.4 901.8l1.6-0.1 1.6-0.5 1.6 1 1.6-0.8 1.6 0.7 1.6-0.1 1.6-0.8 1.6 1.1 1.6 0.9 1.6 1.7 1.6 3.2 1.6 2 1.6-1.6 1.6-3.3 1.6-2.8 1.6-0.9 1.6-1.2 1.6 0.6 1.6 0.1 1.6-0.6 1.6 0.6 1.6 0.1 1.6-0.5 1.6-0.1 1.6 0.6 1.6 3.4 1.6 1.9 1.6 2.4 1.6 0.9 1.6-0.1 1.6 0.1 1.6-1.7 1.6-2.8 1.6-1.6 1.6-1.3 1.6-0.3 1.6-0.3 1.6 0.5 1.6-0.8 1.6 0 1.6-0.1 1.6-0.1 1.6 0.9 1.6-0.4 1.6-0.5 1.6 0 1.6 1.2 1.6-1.3 1.6 1.4 1.6 2.3 1.6 3.1 1.6 1.6 1.6-0.3 1.6 0.1 1.6 0.8 1.6-0.6 1.6-2.8 1.6-2.7 1.6-3.2 1.6-0.1 1.6 0.5 1.6-0.5 1.6 0.8 1.6-1.1 1.6 0.8 1.6 3 1.6 3.2 1.6 2.2 1.6 0.6 1.6-0.1 1.6-1 1.6-3.3 1.6-3.3 1.6-1.4 1.6 0 1.6-0.2 1.6 0.7 1.6 1.4 1.6 1.9 1.6 2.9 1.6 1.3 1.6-0.2 1.6-0.1 1.6 1.1 1.6-0.8 1.6 0 1.6 0.3 1.6 0.1 1.6-1.4 1.6-1.9 1.6-3.5 1.6-0.2 1.6-0.3 1.6 0.2 1.6-0.3 1.6 0.2 1.6-0.2 1.6 0 1.6-0.7 1.6-0.1 1.6 0.8 1.6-0.5 1.6-0.1 1.6 0.1 1.6 1.1 1.6 0.2 1.6 2.7M362.0 927.9l1.6-1 1.6 0.6 1.6-0.4 1.6-1 1.6-1.8 1.6-2.6 1.6-1.8 1.6 2.3 1.6 3.7 1.6 1 1.6 0.8 1.6 0.7 1.6-0.4 1.6 0.5 1.6-1 1.6-1.6 1.6-1.7 1.6-3.2 1.6-3 1.6 1.1 1.6-0.7 1.6 0.5 1.6 0.7 1.6 2.3 1.6 2.4 1.6 2.1 1.6-0.2 1.6 1.1 1.6-0.1 1.6-0.1 1.6-0.5 1.6 0.8 1.6-0.8 1.6-0.3 1.6-1.3 1.6-2.7 1.6-1.5 1.6-2.2 1.6 0 1.6-0.5 1.6 1 1.6 0.1 1.6-0.8 1.6 0.1 1.6-0.5 1.6 0.6 1.6-0.1 1.6 2.3 1.6 3.5 1.6 2.1 1.6 0.8 1.6 0.1 1.6 0.3 1.6-0.8 1.6-3.6 1.6-2.2 1.6-1.5 1.6 2.8 1.6 2.8 1.6 1.6 1.6 0.8 1.6-2 1.6-2.5 1.6-2.7 1.6-1.5 1.6 0 1.6-0.3 1.6 0.5 1.6 1.3 1.6 2 1.6 2.6 1.6 1.9 1.6 0.2 1.6 0.7 1.6-1.2 1.6 0.3 1.6 0.3 1.6-0.4 1.6 0.2 1.6 0.5 1.6-0.9 1.6-0.1 1.6 1.4 1.6-0.2 1.6 0.1 1.6-1.1 1.6 0.8 1.6-0.7 1.6 0.2 1.6-0.3 1.6-3.1 1.6-2.4 1.6-1.6 1.6-0.4 1.6-0.7 1.6 0.9 1.6 3.9 1.6 1.9 1.6 1.6 1.6 1.1 1.6-0.8 1.6-0.3 1.6 0.3 1.6-0.1 1.6 0.9 1.6-0.4 1.6 0.6M536.4 919.0l1.6-0.4 1.6-0.2 1.6 1 1.6 1.1 1.6 2.8 1.6 2.8 1.6 1.2 1.6-0.5 1.6 0.3 1.6 0.3 1.6-2.1 1.6-3.1 1.6-3.6 1.6 2.6 1.6 1.7 1.6 2.3 1.6 2.6 1.6-1.3 1.6-0.6 1.6-3.7 1.6-1.7 1.6-2.2 1.6 0.5 1.6 0.3 1.6-0.4 1.6 0.3 1.6-0.5 1.6 0.3 1.6-0.7 1.6 0.2 1.6-0.1 1.6 0.8 1.6 1.2 1.6 2.1 1.6 3.8 1.6 2 1.6-0.4 1.6-0.3 1.6 0.6 1.6-0.2 1.6-0.8 1.6 0.6 1.6 0 1.6 0.3 1.6-0.1 1.6 0.1 1.6-0.4 1.6 0.6 1.6-0.6 1.6 0.1 1.6-1.6 1.6-3.2 1.6-2.5 1.6-1.7 1.6 1.1 1.6 1.7 1.6 2 1.6 1.9 1.6 1.6 1.6-0.3 1.6-0.3 1.6 0.8 1.6-0.6 1.6-0.2 1.6 0.1 1.6 0.2 1.6 0.8 1.6-0.4 1.6 0.2 1.6-2.2 1.6-2.3 1.6-3.1 1.6-0.8 1.6-0.4 1.6 0.7 1.6 0 1.6-0.6 1.6-0.2 1.6-0.2 1.6-0.1 1.6 1.2 1.6 3 1.6 3.4 1.6 0.9 1.6 1.5 1.6-1.1 1.6 0.3 1.6 0.4 1.6 0.3 1.6-1.7 1.6-3.2 1.6-2.7 1.6-2 1.6 0.2 1.6 0.5 1.6 0.3 1.6 0.3 1.6 3.8 1.6 2.4 1.6 1.8 1.6-0.1 1.6 0.2 1.6 0.7 1.6 0.2 1.6-0.8 1.6-0.2 1.6 0.5M362.0 945.7l1.6-0.5 1.6-0.2 1.6 0.3 1.6-1 1.6-2 1.6-3.8 1.6-1.2 1.6-0.6 1.6 0.1 1.6-0.9 1.6 0.1 1.6 1.4 1.6 1.1 1.6 3.2 1.6 3.2 1.6-0.5 1.6 0.4 1.6-1.2 1.6-2.2 1.6-1.9 1.6-1.9 1.6-1.3 1.6 0.5 1.6 0.6 1.6-0.2 1.6-0.8 1.6 0.3 1.6 0.6 1.6-0.6 1.6-0.2 1.6 0.3 1.6 0.5 1.6-0.8 1.6 0.5 1.6 0.3 1.6 0.1 1.6-0.1 1.6-0.3 1.6 1.9 1.6 2.6 1.6 2.1 1.6 1.5 1.6-1 1.6 1.1 1.6-0.4 1.6-0.7 1.6-0.4 1.6-3.1 1.6-2.8 1.6-1.8 1.6 0.1 1.6 0.1 1.6 0.4 1.6 0.3 1.6-0.1 1.6 0.2 1.6-0.4 1.6 0.1 1.6-0.5 1.6 0.7 1.6-0.4 1.6 0.2 1.6-0.7 1.6 0.7 1.6-0.5 1.6-0.2 1.6 1.3 1.6 2.4 1.6 2.9 1.6 2.6 1.6-0.9 1.6 0.5 1.6-0.2 1.6 0.4 1.6-0.1 1.6-0.4 1.6 0.6 1.6 0.4 1.6-0.8 1.6 0.4 1.6-0.4 1.6 0.1 1.6-0.8 1.6-2 1.6-2.9 1.6-2.1 1.6 0 1.6 0.2 1.6-0.5 1.6 0.7 1.6 2.3 1.6 3.6 1.6 0.5 1.6 1.5 1.6-0.5 1.6-0.7 1.6 0.5 1.6-0.2 1.6-0.2 1.6 0.2 1.6 0.4 1.6-0.7 1.6 0 1.6-0.1 1.6-1.1 1.6-2.1 1.6-3.6M536.4 935.5l1.6 1.4 1.6-1.3 1.6 0.9 1.6-0.9 1.6 1 1.6-0.6 1.6 1.2 1.6 2.8 1.6 2.9 1.6 1.6 1.6 0.4 1.6 0.1 1.6 0.3 1.6-0.1 1.6-0.6 1.6-1.1 1.6-1.6 1.6-2.9 1.6-3.1 1.6 0.6 1.6-0.2 1.6 0.1 1.6-0.2 1.6 0 1.6-0.3 1.6 0.7 1.6 0.5 1.6 2.9 1.6 3 1.6 2 1.6 0.4 1.6 0 1.6-1.5 1.6-3.8 1.6-1.6 1.6-2.2 1.6 0.6 1.6 0.3 1.6-0.3 1.6 1.8 1.6 1.7 1.6 2.6 1.6 1.1 1.6 0.3 1.6-0.5 1.6-1.6 1.6-3.4 1.6-2.4 1.6 0.4 1.6 0.2 1.6-0.2 1.6-0.3 1.6 0 1.6-0.1 1.6-0.2 1.6 0.7 1.6 0.4 1.6-0.5 1.6-0.3 1.6 0.1 1.6 0.5 1.6 0 1.6 1.5 1.6 2.5 1.6 3.3 1.6 0.6 1.6 0 1.6 0.6 1.6-1.5 1.6-3.4 1.6-3.8 1.6-1.4 1.6 0.6 1.6-0.9 1.6 0.1 1.6 0.5 1.6-0.4 1.6 0.1 1.6 0.3 1.6-0.1 1.6 0.7 1.6 0.8 1.6 1.8 1.6 3.4 1.6 1.6 1.6 0.5 1.6 0.7 1.6 0 1.6 0 1.6-0.5 1.6 0.4 1.6-0.6 1.6 0.5 1.6-0.2 1.6 0.4 1.6-0.2 1.6-1.5 1.6-3.4 1.6-1.7 1.6-1.5 1.6 2.2 1.6 3.4 1.6 2.2 1.6 0.6 1.6-0.2 1.6 0.5 1.6 0.2M362.0 954.0l1.6 0.9 1.6-0.6 1.6 0.5 1.6 0 1.6 0 1.6-0.2 1.6-0.5 1.6-0.4 1.6 0.9 1.6-0.8 1.6 2.4 1.6 2.7 1.6 1.8 1.6 1.9 1.6 0.1 1.6-0.7 1.6 0 1.6 0.9 1.6-0.6 1.6 0.3 1.6-0.8 1.6-0.7 1.6-4.4 1.6-2 1.6-1 1.6-0.3 1.6-0.2 1.6 1 1.6-0.1 1.6-0.8 1.6 0.1 1.6 0.2 1.6-0.7 1.6 0.8 1.6-0.8 1.6 0.6 1.6-0.5 1.6-0.1 1.6 1.1 1.6 0.4 1.6 1.4 1.6 3.3 1.6 2.2 1.6 1.8 1.6-0.7 1.6 0.5 1.6-1.1 1.6-1.6 1.6-4.2 1.6-1.8 1.6 0.8 1.6-1 1.6 0.2 1.6 0.3 1.6-0.5 1.6 0.6 1.6 0.2 1.6-0.6 1.6 2 1.6 3 1.6 2.8 1.6 0.5 1.6-0.3 1.6 0.2 1.6-2 1.6-2.6 1.6-2.8 1.6-1.7 1.6 0.7 1.6-1 1.6 0.4 1.6-0.2 1.6 0.2 1.6 0 1.6-0.4 1.6 1.2 1.6-0.3 1.6-0.8 1.6 0.3 1.6 0.6 1.6-0.8 1.6 1 1.6 2.6 1.6 3.4 1.6 1.2 1.6-2.8 1.6-2.2 1.6-1.8 1.6-1.1 1.6-0.3 1.6 0.9 1.6-0.2 1.6-0.1 1.6-0.2 1.6 0.5 1.6 0.1 1.6-0.5 1.6 0.4M536.4 962.3l1.6-0.6 1.6-0.3 1.6 0.8 1.6-0.6 1.6 1 1.6-2.1 1.6-3 1.6-1.5 1.6-1.5 1.6 1.6 1.6 1.5 1.6 3.1 1.6 1.8 1.6 0.3 1.6-0.3 1.6 0 1.6 0 1.6 0.3 1.6-2.8 1.6-2.7 1.6-3.1 1.6-0.7 1.6 0.2 1.6 2 1.6 2.8 1.6 3.4 1.6 0.4 1.6 0.2 1.6 0.3 1.6-0.9 1.6-2.2 1.6-2.3 1.6-2.5 1.6-1.1 1.6 0.5 1.6-0.1 1.6-0.4 1.6 0.8 1.6 0.1 1.6-0.7 1.6 1 1.6 1.9 1.6 3.2 1.6 2.5 1.6 0.5 1.6 0.2 1.6-0.9 1.6 0.1 1.6 0.3 1.6-0.4 1.6 0.2 1.6-1.4 1.6-3 1.6-2.1 1.6-3 1.6 0.3 1.6 0.6 1.6 0.2 1.6 0 1.6-0.9 1.6 2.4 1.6 2.5 1.6 2 1.6 1.7 1.6-0.1 1.6 0.4 1.6-0.8 1.6 1.3 1.6-1 1.6-1.2 1.6-3.5 1.6-1.8 1.6-1.2 1.6-1 1.6 0.7 1.6-0.1 1.6 1.1 1.6 2.9 1.6 2.6 1.6 1.2 1.6 1 1.6-0.9 1.6 1.1 1.6-0.7 1.6 0.5 1.6-0.1 1.6-0.7 1.6 0.9 1.6-0.3 1.6-0.7 1.6 1.2 1.6-1.7 1.6-2.4 1.6-1.8 1.6-2 1.6-0.4 1.6-1 1.6 3 1.6 2.5 1.6 3.3 1.6 1.2 1.6-0.8 1.6 0 1.6 0.8 1.6-0.8" fill="none" stroke="#1212f0" stroke-width="1.5" stroke-linejoin="round"/>
<rect x="360" y="650.9" width="350.6" height="315.6" fill="none" stroke="#111" stroke-width="1.6"/>
<path d="M333 807.4H956" stroke="#000" stroke-width="3.2" stroke-dasharray="8.6 4.4"/>
<path d="M848.8 651.0 L910.6 651.0 L915.9 673.1 L922.9 678.4 L928.2 690.7 L938.8 701.3 L938.8 718.9 L928.2 731.3 L912.3 747.2 L889.4 763.1 L885.9 773.6 L857.6 787.8 L795.9 787.8 L790.6 770.1 L784.4 763.1 L778.2 752.5 L772.9 747.2 L767.6 740.1 L766.8 718.9 L772.9 710.1 L794.1 696.0 L810.0 678.4 L820.6 669.5 L836.5 657.2ZM772.9 711.9 L810.0 694.2 L820.6 669.5 L854.1 669.5 L871.8 688.9 L896.5 718.9 L938.8 718.9 L928.2 726.0 L896.5 741.9 L889.4 756.0 L885.9 773.6 L847.1 773.6 L832.9 748.9 L804.7 720.7 L766.8 718.9Z" fill="url(#pvB)" fill-rule="evenodd"/><path d="M772.9 711.9 L810.0 694.2 L820.6 669.5 L854.1 669.5 L871.8 688.9 L896.5 718.9 L938.8 718.9 L928.2 726.0 L896.5 741.9 L889.4 756.0 L885.9 773.6 L847.1 773.6 L832.9 748.9 L804.7 720.7 L766.8 718.9Z" fill="url(#pvR)"/>
<path d="M795.9 715.4 L798.7 715.0 L802.7 714.4 L807.3 713.5 L811.8 711.9 L816.0 709.4 L820.5 706.1 L825.0 702.7 L829.4 699.5 L833.8 696.6 L838.2 693.8 L842.6 691.2 L847.1 688.9 L851.5 687.0 L856.1 685.3 L860.5 684.1 L864.7 683.6 L868.4 684.0 L871.8 685.1 L875.1 686.7 L878.8 688.9 L883.1 691.8 L887.9 695.3 L892.5 699.2 L896.5 703.1 L899.8 707.1 L902.7 711.5 L905.2 715.7 L907.0 718.9 L908.5 721.0 L909.6 722.4 L909.8 723.3 L908.8 724.2 L906.0 725.1 L901.9 725.7 L897.2 726.4 L892.9 727.8 L889.4 729.9 L886.0 732.6 L882.6 735.5 L878.8 738.3 L874.7 741.1 L870.4 743.9 L865.9 746.5 L861.2 748.9 L856.0 751.2 L850.4 753.5 L844.9 755.2 L840.0 756.0 L836.1 755.7 L832.7 754.6 L829.5 752.8 L825.9 750.7 L821.5 748.1 L816.8 745.0 L812.2 741.6 L808.2 738.3 L804.9 735.2 L801.9 732.1 L799.5 729.0 L797.6 726.0 L796.2 723.1 L795.1 720.1 L794.9 717.5 L795.9 715.4 L799.0 713.9 L803.7 713.0 L808.5 712.3 L811.8 711.9M796.2 716.0 L799.1 715.6 L803.1 715.0 L807.7 714.1 L812.1 712.5 L816.4 710.0 L820.8 706.7 L825.3 703.3 L829.8 700.1 L834.2 697.2 L838.6 694.4 L843.1 691.8 L847.4 689.5 L851.8 687.6 L856.1 685.9 L860.3 684.7 L864.3 684.2 L868.0 684.6 L871.4 685.7 L874.7 687.3 L878.5 689.5 L882.8 692.4 L887.5 696.0 L892.1 699.9 L896.1 703.7 L899.5 707.5 L902.4 711.5 L904.8 715.3 L906.7 718.3 L908.2 720.4 L909.2 721.7 L909.5 722.7 L908.5 723.6 L905.7 724.5 L901.5 725.1 L896.8 725.8 L892.6 727.2 L889.0 729.3 L885.6 732.0 L882.2 734.9 L878.5 737.7 L874.4 740.5 L870.0 743.3 L865.5 745.9 L860.8 748.3 L855.7 750.6 L850.4 752.9 L845.1 754.6 L840.4 755.4 L836.5 755.1 L833.1 754.0 L829.9 752.2 L826.2 750.1 L821.9 747.5 L817.2 744.4 L812.6 741.0 L808.6 737.7 L805.2 734.6 L802.3 731.4 L799.9 728.3 L798.0 725.4 L796.5 722.7 L795.5 720.1 L795.2 717.9 L796.2 716.0 L799.3 714.6 L804.1 713.7 L808.9 713.0 L812.1 712.5M795.5 714.8 L798.3 714.4 L802.4 713.8 L806.9 712.9 L811.4 711.3 L815.7 708.8 L820.1 705.5 L824.6 702.1 L829.0 698.9 L833.4 696.0 L837.8 693.2 L842.2 690.6 L846.7 688.3 L851.3 686.4 L856.1 684.7 L860.7 683.5 L865.1 683.0 L868.8 683.4 L872.2 684.5 L875.5 686.1 L879.2 688.3 L883.5 691.2 L888.2 694.7 L892.8 698.5 L896.8 702.5 L900.2 706.8 L903.1 711.5 L905.5 716.0 L907.4 719.5 L908.9 721.7 L909.9 723.0 L910.2 723.9 L909.2 724.8 L906.4 725.7 L902.2 726.3 L897.6 727.0 L893.3 728.4 L889.7 730.5 L886.3 733.2 L882.9 736.1 L879.2 738.9 L875.1 741.7 L870.8 744.5 L866.3 747.1 L861.5 749.5 L856.2 751.8 L850.4 754.1 L844.7 755.8 L839.6 756.6 L835.6 756.3 L832.3 755.2 L829.1 753.4 L825.5 751.3 L821.2 748.7 L816.5 745.6 L811.9 742.2 L807.9 738.9 L804.5 735.8 L801.6 732.7 L799.1 729.6 L797.3 726.6 L795.8 723.4 L794.7 720.1 L794.5 717.2 L795.5 714.8 L798.6 713.3 L803.3 712.3 L808.1 711.7 L811.4 711.3" fill="none" stroke="#1f9a1f" stroke-width="1.3"/>
<path d="M780.9 714.5Q782.6 741.0 804.3 768.7M923.1 724.4Q921.3 697.9 899.6 670.2M783.0 714.8Q785.5 739.7 808.9 764.0M921.0 724.2Q918.4 699.2 895.1 674.9M785.2 715.0Q788.4 738.5 813.4 759.4M918.8 723.9Q915.5 700.5 890.6 679.6M787.3 715.3Q791.3 737.2 818.0 754.7M916.7 723.7Q912.6 701.7 886.0 684.2M789.4 715.5Q794.2 736.0 822.5 750.0M914.5 723.4Q909.7 703.0 881.5 688.9M791.6 715.8Q797.1 734.7 827.0 745.4M912.4 723.1Q906.8 704.2 876.9 693.6M793.7 716.0Q800.0 733.4 831.6 740.7M910.2 722.9Q903.9 705.5 872.4 698.2M795.9 716.3Q802.9 732.2 836.1 736.1M908.1 722.6Q901.0 706.8 867.9 702.9" fill="none" stroke="#1f9a1f" stroke-width="0.9"/>
<path d="M832.9 703.1 L830.5 704.7 L827.1 707.0 L823.5 709.6 L820.6 711.9 L818.6 713.8 L816.9 715.5 L815.8 717.2 L815.3 718.9 L815.4 720.8 L816.2 722.6 L817.4 724.4 L818.8 726.0 L820.7 727.3 L822.9 728.5 L825.3 729.6 L827.6 730.4 L829.9 731.2 L832.2 731.8 L834.4 732.2 L836.5 732.2 L838.4 731.5 L840.2 730.4 L841.9 729.1 L843.5 727.8 L845.1 726.4 L846.6 724.8 L847.9 723.4 L848.8 722.5M857.6 713.6 L859.1 712.3 L861.3 710.4 L863.8 708.5 L866.5 707.5 L869.4 707.4 L872.6 708.0 L875.9 708.9 L878.8 710.1 L881.4 711.6 L883.9 713.5 L886.0 715.4 L887.6 717.2 L888.7 718.6 L889.4 719.9 L889.6 721.2 L889.4 722.5 L888.7 723.7 L887.4 725.0 L885.8 726.3 L884.1 727.8 L881.9 729.6 L879.4 731.6 L877.0 733.5 L875.3 734.8M829.4 706.6 L827.4 707.9 L824.6 709.7 L821.5 711.7 L818.8 713.6 L816.5 715.4 L814.2 717.1 L812.4 718.8 L811.8 720.7 L812.4 722.9 L814.0 725.3 L816.2 727.6 L818.8 729.5 L822.2 730.9 L826.3 731.8 L830.2 732.5 L832.9 733.1" fill="none" stroke="#1f9a1f" stroke-width="1.5"/>
<rect x="763.2" y="648.7" width="176.8" height="142.6" fill="none" stroke="#8c8c8c" stroke-width="1.1"/>
<path d="M848.4 822.7 L910.2 822.7 L916.1 833.5 L922.0 839.4 L927.8 857.1 L927.8 882.5 L923.9 908.0 L912.2 919.8 L890.6 927.6 L888.6 939.4 L884.7 947.3 L857.3 955.1 L857.3 961.0 L796.5 961.0 L784.7 949.2 L778.8 929.6 L772.9 923.7 L772.9 900.2 L782.7 888.4 L782.7 879.6 L794.5 868.8 L810.2 866.9 L810.2 851.2 L822.0 839.4 L847.5 839.4ZM814.1 874.7 L820.0 857.1 L829.8 847.3 L845.5 841.4 L857.3 859.0 L872.9 874.7 L896.5 892.4 L888.6 902.2 L884.7 915.9 L876.9 935.5 L869.0 941.4 L857.3 939.4 L845.5 919.8 L833.7 908.0 L814.1 888.4Z" fill="url(#pvB2)" fill-rule="evenodd"/><path d="M814.1 874.7 L820.0 857.1 L829.8 847.3 L845.5 841.4 L857.3 859.0 L872.9 874.7 L896.5 892.4 L888.6 902.2 L884.7 915.9 L876.9 935.5 L869.0 941.4 L857.3 939.4 L845.5 919.8 L833.7 908.0 L814.1 888.4Z" fill="url(#pvR2)"/>
<path d="M780.4 890.0Q779.4 915.5 803.9 941.8M923.1 894.7Q924.1 869.2 899.6 842.9M782.9 890.0Q782.4 914.1 807.1 938.5M920.6 894.7Q921.2 870.6 896.5 846.2M785.5 890.0Q785.3 912.7 810.2 935.3M918.0 894.7Q918.2 872.0 893.3 849.4M788.0 890.0Q788.2 911.4 813.3 932.1M915.5 894.7Q915.3 873.3 890.2 852.6M790.6 890.0Q791.2 910.0 816.5 928.8M912.9 894.7Q912.4 874.7 887.1 855.9M793.1 890.0Q794.1 908.6 819.6 925.6M910.4 894.7Q909.4 876.1 883.9 859.1M795.7 890.0Q797.1 907.3 822.7 922.4M907.8 894.7Q906.5 877.5 880.8 862.4M798.2 890.0Q800.0 905.9 825.9 919.1M905.3 894.7Q903.5 878.8 877.6 865.6M800.8 890.0Q802.9 904.5 829.0 915.9M902.7 894.7Q900.6 880.2 874.5 868.8M803.3 890.0Q805.9 903.1 832.2 912.6M900.2 894.7Q897.6 881.6 871.4 872.1M805.9 890.0Q808.8 901.8 835.3 909.4M897.6 894.7Q894.7 882.9 868.2 875.3" fill="none" stroke="#1f9a1f" stroke-width="0.9"/>
<path d="M781.2 889.4 L784.2 889.4 L788.6 889.3 L793.5 889.2 L798.4 889.2 L803.4 889.2 L808.8 889.2 L813.8 889.3 L818.0 889.4 L821.2 889.6 L823.6 889.7 L825.4 890.0 L826.9 890.4 L827.8 891.0 L828.3 891.9 L828.4 892.7 L828.2 893.3 L827.7 893.8 L826.7 894.2 L825.7 894.3 L824.9 894.3 L824.4 893.9 L824.0 893.2 L823.7 892.5 L823.5 892.0M922.4 895.3 L919.1 895.3 L914.5 895.4 L909.3 895.5 L904.3 895.5 L899.5 895.5 L894.4 895.6 L889.7 895.5 L885.7 895.5 L882.6 895.4 L880.2 895.3 L878.4 895.1 L876.9 894.7 L875.8 894.1 L875.1 893.4 L874.8 892.6 L874.9 892.0 L875.4 891.4 L876.4 890.8 L877.6 890.5 L878.4 890.4 L879.0 890.8 L879.4 891.7 L879.8 892.5 L880.0 893.1M806.3 892.4 L808.3 894.7 L811.3 898.1 L814.7 901.6 L818.0 904.1 L821.4 905.5 L825.0 906.3 L828.6 906.6 L831.8 906.5 L834.5 905.9 L837.0 905.0 L839.3 903.6 L841.6 902.2 L843.9 900.3 L846.1 898.0 L848.0 895.8 L849.4 894.3M857.3 886.5 L858.6 885.1 L860.4 883.2 L862.7 881.1 L865.1 879.6 L867.7 878.6 L870.6 877.9 L873.7 877.5 L876.9 877.6 L880.3 878.3 L884.0 879.4 L887.5 880.8 L890.6 882.5 L893.1 884.9 L895.4 887.8 L897.2 890.5 L898.4 892.4" fill="none" stroke="#1f9a1f" stroke-width="1.6"/>
<path d="M781 890.2H822M862 895.2H922" stroke="#1f9a1f" stroke-width="1.8" fill="none"/>
<rect x="763.2" y="821.2" width="176.6" height="142.3" fill="none" stroke="#8c8c8c" stroke-width="1.1"/>
<path d="M783.7 649v2.5M851.9 649v2.5M920 649v2.5M783.7 791v-2.5M851.9 791v-2.5M920 791v-2.5M783.7 821.5v2.5M852.4 821.5v2.5M919.6 821.5v2.5M783.7 963.3v-2.5M852.4 963.3v-2.5M919.6 963.3v-2.5M763.4 720h2.5M939.8 720h-2.5M763.4 892.4h2.5M939.6 892.4h-2.5" stroke="#777" stroke-width="0.9"/>
<text x="745.0" y="652.9" font-size="9.98" fill="#222" textLength="16.0" lengthAdjust="spacingAndGlyphs">100</text>
<text x="755.7" y="723.4" font-size="9.98" fill="#222" textLength="5.3" lengthAdjust="spacingAndGlyphs">0</text>
<text x="741.8" y="794.6" font-size="9.98" fill="#222" textLength="19.2" lengthAdjust="spacingAndGlyphs">-100</text>
<text x="745.0" y="825.3" font-size="9.98" fill="#222" textLength="16.0" lengthAdjust="spacingAndGlyphs">100</text>
<text x="755.7" y="895.9" font-size="9.98" fill="#222" textLength="5.3" lengthAdjust="spacingAndGlyphs">0</text>
<text x="741.8" y="967.3" font-size="9.98" fill="#222" textLength="19.2" lengthAdjust="spacingAndGlyphs">-100</text>
<text x="776.8" y="976.1" font-size="9.98" fill="#222" textLength="13.9" lengthAdjust="spacingAndGlyphs">-30</text>
<text x="849.7" y="976.1" font-size="9.98" fill="#222" textLength="5.3" lengthAdjust="spacingAndGlyphs">0</text>
<text x="914.3" y="976.1" font-size="9.98" fill="#222" textLength="10.7" lengthAdjust="spacingAndGlyphs">30</text>
<text x="739.3" y="755" font-size="20.76" fill="#111" transform="rotate(-90 739.3 755)">Velocity</text>
<text x="740.3" y="925.2" font-size="20.76" fill="#111" transform="rotate(-90 740.3 925.2)">Velocity</text>
<text x="817.5" y="999.2" font-size="22.27" fill="#111" textLength="76.2" lengthAdjust="spacingAndGlyphs">Position</text>
</g>
<g id="panel_e">
<g stroke="#000" stroke-width="0.6"><text x="1028.9" y="626.0" font-size="50.75" fill="#000" textLength="32.6" lengthAdjust="spacingAndGlyphs">E</text></g>
<g stroke="#000" stroke-width="0.3"><text x="1085.1" y="620.8" font-size="34.84" fill="#000" textLength="554.9" lengthAdjust="spacingAndGlyphs">Self-induced environmental variability</text></g>
<defs><filter id="kn" x="0" y="0" width="100%" height="100%" color-interpolation-filters="sRGB"><feTurbulence type="fractalNoise" baseFrequency="0.12 0.001" numOctaves="2" seed="5"/><feColorMatrix values="0 0 0 0 0.42  0 0 0 0 0.415  0 0 0 0 0.42  0.25 0 0 0 0.9"/><feComposite in2="SourceGraphic" operator="in"/></filter><filter id="kb" x="-5%" y="-50%" width="110%" height="200%"><feGaussianBlur stdDeviation="0.7"/></filter></defs>
<rect x="1081" y="643.6" width="992" height="100.0" fill="#6b6a6c"/>
<rect x="1081" y="643.6" width="992" height="100.0" fill="#777" opacity="0.0"/>
<rect x="1087.5" y="643.6" width="2.6" height="100.0" fill="#fff" opacity="0.011"/><rect x="1097.0" y="643.6" width="8.3" height="100.0" fill="#000" opacity="0.009"/><rect x="1105.3" y="643.6" width="2.1" height="100.0" fill="#000" opacity="0.012"/><rect x="1115.8" y="643.6" width="6.6" height="100.0" fill="#fff" opacity="0.011"/><rect x="1122.5" y="643.6" width="7.8" height="100.0" fill="#fff" opacity="0.010"/><rect x="1143.6" y="643.6" width="6.1" height="100.0" fill="#fff" opacity="0.013"/><rect x="1165.3" y="643.6" width="8.0" height="100.0" fill="#fff" opacity="0.016"/><rect x="1190.8" y="643.6" width="3.4" height="100.0" fill="#000" opacity="0.013"/><rect x="1202.3" y="643.6" width="3.5" height="100.0" fill="#fff" opacity="0.009"/><rect x="1205.8" y="643.6" width="3.5" height="100.0" fill="#000" opacity="0.011"/><rect x="1217.2" y="643.6" width="3.2" height="100.0" fill="#fff" opacity="0.019"/><rect x="1220.4" y="643.6" width="8.0" height="100.0" fill="#fff" opacity="0.010"/><rect x="1230.5" y="643.6" width="4.4" height="100.0" fill="#000" opacity="0.019"/><rect x="1237.8" y="643.6" width="4.9" height="100.0" fill="#fff" opacity="0.009"/><rect x="1242.7" y="643.6" width="2.7" height="100.0" fill="#fff" opacity="0.016"/><rect x="1245.3" y="643.6" width="5.7" height="100.0" fill="#000" opacity="0.016"/><rect x="1251.0" y="643.6" width="8.9" height="100.0" fill="#fff" opacity="0.019"/><rect x="1264.3" y="643.6" width="2.8" height="100.0" fill="#000" opacity="0.019"/><rect x="1282.2" y="643.6" width="6.1" height="100.0" fill="#000" opacity="0.012"/><rect x="1296.3" y="643.6" width="3.1" height="100.0" fill="#000" opacity="0.015"/><rect x="1315.0" y="643.6" width="5.2" height="100.0" fill="#fff" opacity="0.012"/><rect x="1329.9" y="643.6" width="2.2" height="100.0" fill="#000" opacity="0.013"/><rect x="1353.1" y="643.6" width="4.3" height="100.0" fill="#fff" opacity="0.005"/><rect x="1370.8" y="643.6" width="8.9" height="100.0" fill="#000" opacity="0.006"/><rect x="1392.3" y="643.6" width="4.2" height="100.0" fill="#000" opacity="0.017"/><rect x="1400.6" y="643.6" width="3.4" height="100.0" fill="#000" opacity="0.008"/><rect x="1404.0" y="643.6" width="4.8" height="100.0" fill="#000" opacity="0.017"/><rect x="1408.8" y="643.6" width="6.2" height="100.0" fill="#000" opacity="0.008"/><rect x="1422.8" y="643.6" width="2.6" height="100.0" fill="#000" opacity="0.016"/><rect x="1425.3" y="643.6" width="3.9" height="100.0" fill="#fff" opacity="0.014"/><rect x="1444.8" y="643.6" width="6.4" height="100.0" fill="#fff" opacity="0.019"/><rect x="1473.3" y="643.6" width="7.6" height="100.0" fill="#fff" opacity="0.017"/><rect x="1489.8" y="643.6" width="7.5" height="100.0" fill="#fff" opacity="0.015"/><rect x="1508.0" y="643.6" width="8.5" height="100.0" fill="#000" opacity="0.018"/><rect x="1516.4" y="643.6" width="6.6" height="100.0" fill="#fff" opacity="0.018"/><rect x="1523.0" y="643.6" width="2.6" height="100.0" fill="#000" opacity="0.020"/><rect x="1525.6" y="643.6" width="2.5" height="100.0" fill="#fff" opacity="0.014"/><rect x="1528.1" y="643.6" width="4.2" height="100.0" fill="#000" opacity="0.020"/><rect x="1543.2" y="643.6" width="5.0" height="100.0" fill="#000" opacity="0.007"/><rect x="1548.3" y="643.6" width="7.1" height="100.0" fill="#fff" opacity="0.006"/><rect x="1555.4" y="643.6" width="8.5" height="100.0" fill="#fff" opacity="0.007"/><rect x="1573.3" y="643.6" width="5.9" height="100.0" fill="#fff" opacity="0.016"/><rect x="1593.2" y="643.6" width="8.5" height="100.0" fill="#000" opacity="0.008"/><rect x="1601.7" y="643.6" width="3.2" height="100.0" fill="#000" opacity="0.006"/><rect x="1613.1" y="643.6" width="6.3" height="100.0" fill="#000" opacity="0.014"/><rect x="1634.5" y="643.6" width="5.4" height="100.0" fill="#fff" opacity="0.010"/><rect x="1660.9" y="643.6" width="4.0" height="100.0" fill="#000" opacity="0.017"/><rect x="1672.6" y="643.6" width="2.9" height="100.0" fill="#fff" opacity="0.018"/><rect x="1675.5" y="643.6" width="5.5" height="100.0" fill="#000" opacity="0.015"/><rect x="1681.1" y="643.6" width="6.4" height="100.0" fill="#fff" opacity="0.006"/><rect x="1698.6" y="643.6" width="8.8" height="100.0" fill="#fff" opacity="0.020"/><rect x="1707.3" y="643.6" width="7.0" height="100.0" fill="#000" opacity="0.007"/><rect x="1714.3" y="643.6" width="4.2" height="100.0" fill="#fff" opacity="0.015"/><rect x="1752.6" y="643.6" width="6.6" height="100.0" fill="#fff" opacity="0.013"/><rect x="1764.6" y="643.6" width="3.2" height="100.0" fill="#000" opacity="0.017"/><rect x="1775.3" y="643.6" width="6.1" height="100.0" fill="#000" opacity="0.009"/><rect x="1781.4" y="643.6" width="8.0" height="100.0" fill="#fff" opacity="0.012"/><rect x="1789.4" y="643.6" width="6.6" height="100.0" fill="#fff" opacity="0.010"/><rect x="1802.2" y="643.6" width="5.3" height="100.0" fill="#fff" opacity="0.017"/><rect x="1807.5" y="643.6" width="5.5" height="100.0" fill="#000" opacity="0.008"/><rect x="1813.0" y="643.6" width="6.5" height="100.0" fill="#fff" opacity="0.019"/><rect x="1819.4" y="643.6" width="2.1" height="100.0" fill="#fff" opacity="0.010"/><rect x="1821.5" y="643.6" width="2.2" height="100.0" fill="#fff" opacity="0.016"/><rect x="1858.1" y="643.6" width="8.3" height="100.0" fill="#fff" opacity="0.006"/><rect x="1880.6" y="643.6" width="8.6" height="100.0" fill="#fff" opacity="0.009"/><rect x="1889.1" y="643.6" width="6.9" height="100.0" fill="#fff" opacity="0.009"/><rect x="1896.0" y="643.6" width="7.4" height="100.0" fill="#fff" opacity="0.008"/><rect x="1912.0" y="643.6" width="6.2" height="100.0" fill="#fff" opacity="0.016"/><rect x="1918.2" y="643.6" width="6.9" height="100.0" fill="#fff" opacity="0.017"/><rect x="1939.1" y="643.6" width="7.0" height="100.0" fill="#fff" opacity="0.012"/><rect x="1965.5" y="643.6" width="4.6" height="100.0" fill="#fff" opacity="0.012"/><rect x="1973.6" y="643.6" width="6.3" height="100.0" fill="#fff" opacity="0.019"/><rect x="1984.8" y="643.6" width="8.4" height="100.0" fill="#fff" opacity="0.013"/><rect x="1993.3" y="643.6" width="3.9" height="100.0" fill="#fff" opacity="0.015"/><rect x="1997.1" y="643.6" width="7.0" height="100.0" fill="#fff" opacity="0.019"/><rect x="2009.0" y="643.6" width="2.8" height="100.0" fill="#000" opacity="0.011"/><rect x="2011.8" y="643.6" width="2.1" height="100.0" fill="#fff" opacity="0.005"/><rect x="2016.0" y="643.6" width="6.8" height="100.0" fill="#000" opacity="0.018"/><rect x="2022.8" y="643.6" width="2.7" height="100.0" fill="#fff" opacity="0.020"/><rect x="2032.8" y="643.6" width="2.5" height="100.0" fill="#000" opacity="0.016"/><rect x="2056.5" y="643.6" width="8.2" height="100.0" fill="#000" opacity="0.014"/>
<rect x="1403" y="643.6" width="2" height="100.0" fill="#fff" opacity="0.08"/>
<path d="M1081.0 691.5l2.7 0.2 3.8 0.3 4.1 0.3 3.4 0.2 2.4 0.1 2 0 1.8 0 1.8-0.2 1.8-0.5 1.8-0.5 1.7-0.6 1.7-0.5 1.8-0.3 1.7-0.2 1.7-0.2 1.8 0.1 1.8 0.3 1.7 0.6 1.7 0.6 1.8 0.3 1.8-0.3 1.7-0.5 1.7-0.6 1.8-0.2 1.8 0.2 1.7 0.5 1.7 0.5 1.8 0.1 1.8-0.4 1.7-0.8 1.7-0.7 1.8-0.3 1.8 0.3 1.7 0.8 1.7 0.7 1.8 0.4 1.8-0.2 1.7-0.7 1.7-0.6 1.8-0.3 1.8 0.4 1.7 0.6 1.7 0.7 1.8 0.4 1.8-0.3 1.7-0.5 1.7-0.6 1.8-0.2 1.8 0.3 1.7 0.6 1.7 0.6 1.8 0.3 1.8-0.4 1.7-0.7 1.7-0.8 1.8-0.4 1.8 0.3 1.7 0.6 1.7 0.6 1.8 0.3 1.8-0.2 1.7-0.5 1.7-0.4 1.8-0.2 1.8 0.4 1.7 0.7 1.7 0.6 1.8 0.3 1.8-0.4 1.7-0.8 1.7-0.8 1.8-0.5 1.7 0.3 1.7 0.6 1.8 0.6 1.8 0.3 2-0.2 2-0.4 2-0.5 2-0.2 1.8 0.3 1.8 0.6 1.7 0.6 1.7 0.3 1.7-0.3 1.7-0.7 1.8-0.7 1.8-0.3 1.9 0.1 2 0.4 2.1 0.3 2 0.1 2-0.7 1.9-1.1 2-1 2.1-0.3 2.2 0.8 2.2 1.4 2.3 1.5 2.3 0.8 2.2-0.3 2.3-0.8 2.3-1.1 2.2-0.8 2.2-0.6 2.3-0.5 2.3-0.3 2.2-0.1 2.2 0.3 2.2 0.7 2.3 0.8 2.3 0.7 2.4 0.8 2.5 0.9 2.6 0.6 2.5 0.2 2.5-0.6 2.5-1.1 2.5-1.3 2.5-1 2.5-0.8 2.5-0.7 2.5-0.4 2.5-0.1 2.5 0.5 2.5 0.9 2.5 1.1 2.5 1 2.5 1.1 2.5 1.1 2.5 1 2.5 0.3 2.5-0.6 2.5-1.1 2.5-1.5 2.5-1.3 2.5-1.4 2.4-1.6 2.5-1.3 2.6-0.2 2.8 1.3 2.8 2.3 2.8 2.6 2.6 1.8 2.1 1.1 1.9 0.7 1.9 0.2 2.1-0.5 2.6-1.6 2.8-2.4 2.9-2.6 2.7-1.9 2.4-1.2 2.2-0.7 2.2-0.4 2.2 0.3 2.3 1.1 2.3 1.8 2.2 2 2.2 1.6 2 1.5 2 1.4 2 1 2 0.1 2.3-1.3 2.4-2.3 2.3-2.5 2-1.9 1.4-1.4 1-1.2 1.1-0.7 1.5 0.3 2.1 2 2.6 3.3 2.7 3.2 2.6 1.5 2.6-0.9 2.8-2.3 2.5-2.8 2.1-2 1.3-1.2 0.8-0.9 0.7-0.3 1.2 0.4 1.9 1.6 2.4 2.6 2.5 2.7 2.2 2.1" fill="none" stroke="#e4e4e4" stroke-width="2.3" stroke-linejoin="round" opacity="0.85" filter="url(#kb)"/>
<path d="M1468.0 690.0l1.3 3.4 1.4-1 1.3 3.4 1.4-1.6 1.3 2.3 1.4-2.7 1.3 1.1 1.4-3.5 1.3 0.8 1.4-3.9 1.3 0.7 1.4-4 1.3 0.8 1.4-3.9 1.3 1.1 1.4-3.8 1.3 1.2 1.4-2.6 1.3 3.3 1.4-1.1 1.3 4.2 1.4-0.6 1.3 4.8 1.4-0.5 1.3 4.5 1.4-0.9 1.3 4.4 1.4-2 1.3 3.5 1.4-2.6 1.3 2 1.4-3.6 1.3 1.6 1.4-4.6 1.3 1.1 1.4-4.7 1.3 1 1.4-4.8 1.3 1.2 1.4-4.4 1.3 1.6 1.4-4.1 1.3 2.3 1.4-3.8 1.3 2.6 1.4-3.6 1.3 2.8 1.4-3.2 1.3 3.1 1.4-3 1.3 3.6 1.4-2.9 1.3 4.1 1.4-2.4 1.3 4.4 1.4-2 1.3 4.6 1.4-1.9 1.3 4.8 1.4-2 1.3 4.6 1.4-2.2 1.3 4.6 1.4-2.4 1.3 4.6 1.4-2.4 1.3 4.7 1.4-2.5 1.3 4.4 1.4-2.8 1.3 4.3 1.4-3.5 1.3 3.9 1.4-3.8 1.3 3 1.4-4.5 1.3 2.6 1.4-5.2 1.3 2.4 1.4-5.5 1.3 2.2 1.4-5.5 1.3 2.4 1.4-5.3 1.3 2.5 1.4-5.2 1.3 2.6 1.4-5.4 1.3 2.6 1.4-5.1 1.3 3.1 1.4-4.7 1.3 3.9 1.4-4.3 1.3 4.8 1.4-3.4 1.3 5.1 1.4-2.9 1.3 5.5 1.4-2.9 1.3 5.7 1.4-2.8 1.3 5.6 1.4-3.1 1.3 5.6 1.4-3.1 1.3 5.5 1.4-3.3 1.3 5.6 1.4-3.2 1.3 5.6 1.4-3.6 1.3 5.4 1.4-3.7 1.3 4.9 1.4-4.3 1.3 4.6 1.4-5.2 1.3 4 1.4-5.7 1.3 3.3 1.4-6 1.3 3.1 1.4-6.4 1.3 3.2 1.4-6.1 1.3 3.5 1.4-6.1 1.3 3.7 1.4-6.1 1.3 3.7 1.4-6.1 1.3 3.9 1.4-5.8 1.3 4.1 1.4-5.4 1.3 4.7 1.4-5.1 1.3 5.5 1.4-4.6 1.3 5.7 1.4-4.1 1.3 6.1 1.4-4 1.3 6.4 1.4-4 1.3 6.3 1.4-4.2 1.3 6.4 1.4-4.2 1.3 6.3 1.4-4.2 1.3 6.4 1.4-4.2 1.3 6.6 1.4-4.2 1.3 6.5 1.4-4.5 1.3 6.4 1.4-4.6 1.3 6 1.4-5.2 1.3 5.9 1.4-5.7 1.3 5 1.4-6.3 1.3 4.8 1.4-7.1 1.3 4.2 1.4-7.1 1.3 4 1.4-7.5 1.3 4.2 1.4-7.2 1.3 4.4 1.4-7.1 1.3 4.7 1.4-6.9 1.3 4.7 1.4-6.9 1.3 4.9 1.4-6.9 1.3 5.1 1.4-6.9 1.3 5.4 1.4-6.6 1.3 5.5 1.4-6.5 1.3 5.8 1.4-6.3 1.3 5.9 1.4-6.2 1.3 6.1 1.4-6.2 1.3 6.3 1.4-6.1 1.3 6.3 1.4-6.1 1.3 6.5 1.4-6.1 1.3 6.6 1.4-6 1.3 6.8 1.4-5.9 1.3 6.9 1.4-5.8 1.3 7.1 1.4-5.7 1.3 7.1 1.4-5.9 1.3 7.1 1.4-6 1.3 7.1 1.4-6.4 1.3 6.8 1.4-6.5 1.3 6.7 1.4-7.1 1.3 6.3 1.4-7.1 1.3 6.3 1.4-7.4 1.3 6 1.4-7.6 1.3 6.1 1.4-7.6 1.3 6.2 1.4-7.6 1.3 6.2 1.4-7.6 1.3 6.4 1.4-7.2 1.3 6.7 1.4-7.3 1.3 6.7 1.4-6.7 1.3 7.5 1.4-6.6 1.3 7.5 1.4-6.4 1.3 8 1.4-6.2 1.3 8 1.4-6.2 1.3 8.3 1.4-6.1 1.3 8.3 1.4-6.3 1.3 8.3 1.4-6.4 1.3 8.3 1.4-6.5 1.3 8.3 1.4-6.6 1.3 8.4 1.4-6.6 1.3 8.4 1.4-6.6 1.3 8.5 1.4-6.7 1.3 8.5 1.4-6.8 1.3 8.4 1.4-6.9 1.3 8.4 1.4-7.1 1.3 8.1 1.4-7.4 1.3 8.1 1.4-7.4 1.3 7.5 1.4-8.1 1.3 7.5 1.4-8.3 1.3 7 1.4-8.8 1.3 7 1.4-8.9 1.3 6.7 1.4-9.1 1.3 6.8 1.4-9 1.3 6.9 1.4-9.1 1.3 7.1 1.4-9.1 1.3 7.1 1.4-9.1 1.3 7.2 1.4-9.3 1.3 7.2 1.4-9.3 1.3 7.2 1.4-9.2 1.3 7.3 1.4-9.2 1.3 7.6 1.4-9 1.3 7.7 1.4-8.6 1.3 8.3 1.4-6.9 1.3 10.7 1.4-7 1.3 9.9 1.4-7.3 1.3 9.7 1.4-7.4 1.3 9.8 1.4-7.4 1.3 9.7 1.4-7.4 1.3 9.8 1.4-7.4 1.3 9.8 1.4-7.6 1.3 9.9 1.4-7.7 1.3 9.9 1.4-7.7 1.3 9.8 1.4-7.9 1.3 9.7 1.4-7.9 1.3 9.7 1.4-8.3 1.3 9.4 1.4-8.5 1.3 8.8 1.4-9.3 1.3 7.9 1.4-9.6 1.3 7.9 1.4-9.7 1.3 7.8 1.4-9.8 1.3 7.8 1.4-9.8 1.3 7.7 1.4-9.9 1.3 7.7 1.4-10 1.3 7.7 1.4-9.9 1.3 7.7 1.4-9.9 1.3 7.7 1.4-9.9 1.3 7.7 1.4-9.7 1.3 7.9 1.4-9.7 1.3 7.9 1.4-9.7 1.3 8 1.4-9.4 1.3 8.1 1.4-9.5 1.3 8.2 1.4-9.4 1.3 8.2 1.4-9.3 1.3 8.3 1.4-9.4 1.3 8.3 1.4-9.2 1.3 8.5 1.4-9.2 1.3 8.4 1.4-9.1 1.3 8.6 1.4-8.8 1.3 8.7 1.4-8.9 1.3 9.1 1.4-8.3 1.3 9.4 1.4-7.3 1.3 10.7 1.4-6.4 1.3 10.9 1.4-7.2 1.3 10.4 1.4-7.3 1.3 10 1.4-7.6 1.3 10 1.4-7.6 1.3 10.1 1.4-7.7 1.3 10 1.4-7.6 1.3 10 1.4-7.6 1.3 10 1.4-7.7 1.3 10 1.4-7.7 1.3 9.9 1.4-7.6 1.3 9.9 1.4-7.7 1.3 9.9 1.4-7.8 1.3 9.8 1.4-7.8 1.3 9.8 1.4-7.8 1.3 9.6 1.4-8 1.3 9.4 1.4-8.4 1.3 8.7 1.4-9.1 1.3 8.4 1.4-9.2 1.3 8.3 1.4-9.3 1.3 8.3 1.4-9.3 1.3 8.1 1.4-9.5 1.3 8.1 1.4-9.5 1.3 8.1 1.4-9.4 1.3 8.1 1.4-9.4 1.3 8.1 1.4-9.1 1.3 8.4 1.4-9.2 1.3 8.5 1.4-8.8 1.3 8.9 1.4-8.7 1.3 8.9 1.4-8.5 1.3 9.2 1.4-8.4 1.3 9.2 1.4-8.4 1.3 9.3 1.4-8.2 1.3 9.3 1.4-8.3 1.3 9.3 1.4-8.3" fill="none" stroke="#f3f3f3" stroke-width="1.6" stroke-linejoin="round" opacity="0.93" filter="url(#kb)"/>
<circle cx="1103" cy="695.1" r="1.9" fill="#fafafa"/><circle cx="1110" cy="689.4" r="1.9" fill="#fafafa"/><circle cx="1117" cy="687.9" r="1.9" fill="#fafafa"/><circle cx="1124" cy="693.1" r="1.9" fill="#fafafa"/><circle cx="1131" cy="688.4" r="1.9" fill="#fafafa"/><circle cx="1138" cy="692.6" r="1.9" fill="#fafafa"/><circle cx="1145" cy="686.4" r="1.9" fill="#fafafa"/><circle cx="1152" cy="692.6" r="1.9" fill="#fafafa"/><circle cx="1159" cy="687.4" r="1.9" fill="#fafafa"/><circle cx="1166" cy="693.1" r="1.9" fill="#fafafa"/><circle cx="1173" cy="688.4" r="1.9" fill="#fafafa"/><circle cx="1180" cy="693.6" r="1.9" fill="#fafafa"/><circle cx="1187" cy="687.4" r="1.9" fill="#fafafa"/><circle cx="1194" cy="692.6" r="1.9" fill="#fafafa"/><circle cx="1201" cy="688.4" r="1.9" fill="#fafafa"/><circle cx="1208" cy="694.1" r="1.9" fill="#fafafa"/><circle cx="1215" cy="687.4" r="1.9" fill="#fafafa"/><circle cx="1222" cy="692.6" r="1.9" fill="#fafafa"/><circle cx="1230" cy="688.4" r="1.9" fill="#fafafa"/><circle cx="1237" cy="693.6" r="1.9" fill="#fafafa"/><circle cx="1244" cy="687.9" r="1.9" fill="#fafafa"/><circle cx="1252" cy="689.9" r="1.9" fill="#fafafa"/><circle cx="1260" cy="686.9" r="1.9" fill="#fafafa"/><circle cx="1269" cy="692.6" r="1.9" fill="#fafafa"/><circle cx="1278" cy="688.4" r="1.9" fill="#fafafa"/><circle cx="1287" cy="686.9" r="1.9" fill="#fafafa"/><circle cx="1296" cy="689.4" r="1.9" fill="#fafafa"/><circle cx="1306" cy="693.1" r="1.9" fill="#fafafa"/><circle cx="1316" cy="687.9" r="1.9" fill="#fafafa"/><circle cx="1326" cy="685.9" r="1.9" fill="#fafafa"/><circle cx="1336" cy="689.4" r="1.9" fill="#fafafa"/><circle cx="1346" cy="694.1" r="1.9" fill="#fafafa"/><circle cx="1356" cy="688.4" r="1.9" fill="#fafafa"/><circle cx="1366" cy="683.9" r="1.9" fill="#fafafa"/><circle cx="1377" cy="693.1" r="1.9" fill="#fafafa"/><circle cx="1385" cy="694.6" r="1.9" fill="#fafafa"/><circle cx="1396" cy="684.9" r="1.9" fill="#fafafa"/><circle cx="1405" cy="682.9" r="1.9" fill="#fafafa"/><circle cx="1414" cy="689.4" r="1.9" fill="#fafafa"/><circle cx="1422" cy="694.6" r="1.9" fill="#fafafa"/><circle cx="1431" cy="685.4" r="1.9" fill="#fafafa"/><circle cx="1436" cy="682.4" r="1.9" fill="#fafafa"/><circle cx="1446" cy="693.6" r="1.9" fill="#fafafa"/><circle cx="1456" cy="684.4" r="1.9" fill="#fafafa"/><circle cx="1460" cy="682.4" r="1.9" fill="#fafafa"/><circle cx="1469" cy="692.6" r="1.9" fill="#fafafa"/><circle cx="1476" cy="695.6" r="1.9" fill="#fafafa"/>
<path d="M1082 708.8H2073" stroke="#f4f4f4" stroke-width="1.2" stroke-dasharray="1.3 3.05" fill="none"/>
<rect x="1085.3" y="716.7" width="7.7" height="17.8" fill="#fff"/>
<text x="1077.9" y="760.8" font-size="19.14" fill="#2e2e2e" textLength="10.2" lengthAdjust="spacingAndGlyphs">0</text>
<text x="1251.4" y="760.8" font-size="19.14" fill="#2e2e2e" textLength="20.5" lengthAdjust="spacingAndGlyphs">12</text>
<text x="1428.4" y="760.8" font-size="19.14" fill="#2e2e2e" textLength="20.5" lengthAdjust="spacingAndGlyphs">24</text>
<text x="1605.4" y="760.8" font-size="19.14" fill="#2e2e2e" textLength="20.5" lengthAdjust="spacingAndGlyphs">36</text>
<text x="1782.4" y="760.8" font-size="19.14" fill="#2e2e2e" textLength="20.5" lengthAdjust="spacingAndGlyphs">48</text>
<text x="1959.8" y="760.8" font-size="19.14" fill="#2e2e2e" textLength="20.5" lengthAdjust="spacingAndGlyphs">60</text>
<text x="1568.7" y="784.8" font-size="21.16" fill="#2e2e2e" textLength="36.2" lengthAdjust="spacingAndGlyphs">t (h)</text>
<path d="M1163.2 809.6V941.5M1242.7 809.6V941.5M1322.2 809.6V941.5M1401.6 809.6V941.5M1481.0 809.6V941.5M1560.5 809.6V941.5M1083.8 822.5H1616.2M1083.8 848.9H1616.2M1083.8 875.4H1616.2M1083.8 901.9H1616.2M1083.8 928.3H1616.2" stroke="#e9e9e9" stroke-width="1.2" fill="none"/>
<path d="M1083.8 869.1l1.5 1.4 1.5-2.4 1.4-0.6 1.5-0.9 1.5-1 1.5-0.6 1.5-1.4 1.4-1 1.5 3.9 1.5 5.1 1.5 0.7 1.4-3.8 1.5-1.9 1.5 6 1.5 2.5 1.5-5.8 1.4-3.2 1.5 4.9 1.5 3.3 1.5-5.3 1.5-2.3 1.4 4 1.5 3.7 1.5-4.6 1.5-3.5 1.4 5.2 1.5 3.8 1.5-6.3 1.5-2.9 1.5 4.7 1.4 4.9 1.5-6.1 1.5-4.4 1.5 5.1 1.5 3.9 1.4-4 1.5-4.5 1.5 5.7 1.5 3.9 1.4-5.1 1.5-4.9 1.5 4.6 1.5 4.9 1.5-4.5 1.4-3.8 1.5 4.9 1.5 3.2 1.5-3.2 1.5-5.3 1.4 5.3 1.5 4.6 1.5-4.2 1.5-4.8 1.4 4.2 1.5 3.3 1.5-0.6 1.5-3.7 1.5-3.7 1.4 2.8 1.5 0 1.5 2.3 1.5 0.8 1.5-2.1 1.4-1.1 1.5-0.6 1.5 0.3 1.5 1.1 1.4 3.6 1.5-0.7 1.5-2.5 1.5-3.3 1.5-1.3 1.4 2.7 1.5 3.6 1.5 2 1.5 2 1.5-0.7 1.4-2.7 1.5-2.2 1.5 5 1.5 0.9 1.4-4 1.5-4.2 1.5-2.5 1.5 0.8 1.5 0.6 1.4 1.2 1.5 3.4 1.5 1.4 1.5 0.7 1.5-0.1 1.4-1.3 1.5-3.6 1.5-0.9 1.5-2.3 1.5-1.2 1.4 0.1 1.5 0.5 1.5 3.1 1.5 2.6 1.4 2 1.5 4.5 1.5 1.5 1.5-3.8 1.5-2.8 1.4-5.9 1.5-3.6 1.5 0.1 1.5 2.2 1.5 4.2 1.4 3.5 1.5 2.7 1.5 0.6 1.5-0.8 1.4-3 1.5-4.6 1.5-3.2 1.5-2.2 1.5 1.7 1.4 4.9 1.5 3.3 1.5 3.3 1.5-3.3 1.5-3.7 1.4-2.4 1.5-3.2 1.5 1.1 1.5 1.9 1.4 3.9 1.5 4.6 1.5 3.4 1.5 0.7 1.5-4.6 1.4-3.2 1.5-3.3 1.5-4.4 1.5-1.8 1.5 2.9 1.4 1.8 1.5 5.8 1.5 2.5 1.5 2.5 1.4 1.5 1.5 0.3 1.5 2.1 1.5 1.6 1.5 0.6 1.4 0.9 1.5-3.5 1.5-4.4 1.5-4.7 1.5-5.1 1.4-3.6 1.5-2.8 1.5 1.9 1.5 1.7 1.4 1.4 1.5 5 1.5 1.3 1.5 2.5 1.5 3 1.4 0.1 1.5 2.1 1.5 4.8 1.5 1.6 1.5 2.4 1.4 1.2 1.5-2.4 1.5-4.1 1.5-4.3 1.4-3.6 1.5-4.2 1.5-5 1.5-4 1.5-2.4 1.4-0.6 1.5 2.3 1.5 4.5 1.5 4 1.5 3.1 1.4 4.1 1.5 2.7 1.5 3.3 1.5 1 1.5 3.3 1.4 0.5 1.5 3.1 1.5 1.6 1.5-2.3 1.4-4.4 1.5-6 1.5-5.4 1.5-5.2 1.5-5.2 1.4-4.6 1.5-2.6 1.5 1.5 1.5 1.9 1.5 4.2 1.4 3.2 1.5 3.9 1.5 3.6 1.5 2.2 1.4 2.1 1.5 1.5 1.5 2.9 1.5 2 1.5 2.7 1.4-2.8 1.5-0.5 1.5-3 1.5-3.6 1.5-4.5 1.4-3.7 1.5-2.8 1.5-3.4 1.5-4.6 1.4-2.4 1.5-2.6 1.5-2.1 1.5 1 1.5 3.5 1.4 2.4 1.5 4.3 1.5 2.6 1.5 4.5 1.5 3.6 1.4 2.4 1.5 0.7 1.5 0.2 1.5 2.1 1.4 2.5 1.5 1.5 1.5 3.1 1.5 2 1.5-0.4 1.4 1.9 1.5-0.7 1.5-0.6 1.5-0.6 1.5-1.3 1.4 0 1.5-1.3 1.5-4.3 1.5-2.2 1.4 0.4 1.5 2.5 1.5 2.2 1.5 1.6 1.5 2.6 1.4 1.7 1.5 1.3 1.5 2.4 1.5 1 1.5 2.5 1.4-1.2 1.5-1.4 1.5-2.9 1.5-4.4 1.4-2.1 1.5-4.7 1.5-1.1 1.5-2.1 1.5-2.8 1.4-3.3 1.5-1.5 1.5-4.3 1.5-4.6 1.5-3.6 1.4-2.6 1.5-3.6 1.5-0.1 1.5 1.5 1.5 0.4 1.4 0.4 1.5 7.7 1.5 4.8 1.5-2.1 1.4-0.8 1.5 0.6 1.5 5 1.5 3.2 1.5 4.8 1.4 3.4 1.5 1.8 1.5-1.9 1.5-0.5 1.5-1.9 1.4-1.6 1.5-4.6 1.5-2.3 1.5-3.5 1.4-2.9 1.5-4.4 1.5-6.1 1.5-4.6 1.5-5.8 1.4 0.1 1.5 0.9 1.5-1 1.5 1 1.5-1.7 1.4 6.6 1.5 15.3 1.5-0.3 1.5-0.8 1.4 0.7 1.5-0.9 1.5 0 1.5 1.1 1.5 1.5 1.4 3.4 1.5 1.9 1.5 0.4 1.5 1.9 1.5 2.9 1.4 4.4 1.5 3.6 1.5 3.6 1.5 1.8 1.4 1.6 1.5 3.9 1.5 1.1 1.5-0.3 1.5-5.3 1.4-4.7 1.5-6.2 1.5-1.6 1.5-5.2 1.5-7.1 1.4-8.4 1.5-6.1 1.5-5.4 1.5-1.1 1.4-1.2 1.5-2.9 1.5-2.9 1.5-1.9 1.5-1.2 1.4 0.7 1.5-2.6 1.5 0.7 1.5-2.2 1.5-0.1 1.4 0.8 1.5 0.1 1.5-0.5 1.5-0.8 1.4-1.5 1.5 0.9 1.5 0.2 1.5-1 1.5 0.5 1.4-1.7 1.5-0.5 1.5-0.1 1.5-0.4 1.5-0.9 1.4-0.2 1.5 0.8 0 38.8 -1.5-0.1 -1.4 2.5 -1.5 2.6 -1.5 3.2 -1.5 1.1 -1.5 1 -1.4-2.4 -1.5-0.3 -1.5 0.6 -1.5-0.8 -1.5-0.4 -1.4-0.9 -1.5-1.6 -1.5-1.4 -1.5-0.5 -1.4-2.1 -1.5-1.5 -1.5-1.2 -1.5-0.8 -1.5 3.1 -1.4 1.1 -1.5 3.8 -1.5 2.2 -1.5 4.9 -1.5 1.6 -1.4 3.2 -1.5 1.8 -1.5 1.5 -1.5 3.5 -1.4 3.9 -1.5 3.3 -1.5 1.3 -1.5 3.7 -1.5 4.5 -1.4 4.2 -1.5 5.2 -1.5 5 -1.5 0.4 -1.5-0.9 -1.4-2.4 -1.5-2.2 -1.5-1.4 -1.5-1.4 -1.4-2.2 -1.5-3.2 -1.5-2.4 -1.5-4.4 -1.5-3.8 -1.4-2.7 -1.5-2.9 -1.5-1.7 -1.5-1.4 -1.5-0.9 -1.4-1.6 -1.5-0.8 -1.5-2.7 -1.5-0.3 -1.4-2.6 -1.5-1.2 -1.5 0.1 -1.5 1.8 -1.5 1.9 -1.4 0.6 -1.5 2.5 -1.5 3 -1.5 1.4 -1.5 1.6 -1.4 3.8 -1.5 4.1 -1.5 5.7 -1.5 5.6 -1.4 3.8 -1.5 2.8 -1.5-1.1 -1.5-1 -1.5-1.4 -1.4-3.7 -1.5-4.8 -1.5-6.1 -1.5-2.4 -1.5-2.7 -1.4-2.3 -1.5-1.5 -1.5-1.5 -1.5-2.5 -1.4-2.2 -1.5-3 -1.5-2.4 -1.5 0.4 -1.5 0.9 -1.4 4 -1.5 2.5 -1.5 2.2 -1.5 2.3 -1.5 3.7 -1.4 4.1 -1.5 2.6 -1.5 1.8 -1.5 2.4 -1.5 0.8 -1.4 1 -1.5 2.8 -1.5 2.7 -1.5 4.4 -1.4 0.4 -1.5-1 -1.5-0.6 -1.5 0.6 -1.5-0.8 -1.4 0.2 -1.5 0.2 -1.5-0.2 -1.5-1.3 -1.5-4.2 -1.4-3.2 -1.5-0.6 -1.5 5.8 -1.5 3.3 -1.4 1.4 -1.5 0.1 -1.5-0.4 -1.5-0.4 -1.5 0.3 -1.4 0 -1.5-0.6 -1.5-0.8 -1.5-0.5 -1.5-1.7 -1.4-2.8 -1.5-3.4 -1.5-0.8 -1.5-0.9 -1.4-4.7 -1.5-3.5 -1.5-3.2 -1.5-4.2 -1.5-4.9 -1.4-4.5 -1.5-3.8 -1.5-1 -1.5 2.1 -1.5 1.7 -1.4 3.6 -1.5 2.1 -1.5 3.3 -1.5 3.8 -1.4 4.3 -1.5 3 -1.5 2.5 -1.5 3.9 -1.5 2.3 -1.4 1.4 -1.5 1.1 -1.5 1.1 -1.5-0.3 -1.5-0.6 -1.4-3.8 -1.5-5.5 -1.5-5.7 -1.5-4.3 -1.4-5.8 -1.5-6 -1.5-4.6 -1.5-1.3 -1.5 3.2 -1.4 2.9 -1.5 3.5 -1.5 5.9 -1.5 5.5 -1.5 4 -1.4 4.4 -1.5 3.4 -1.5 4.1 -1.5 0.7 -1.4-2.2 -1.5-1.7 -1.5-1.9 -1.5-1.7 -1.5-5.5 -1.4-4.4 -1.5-6.5 -1.5-5.6 -1.5-3.3 -1.5-4 -1.4 0 -1.5 3 -1.5 3.9 -1.5 6.4 -1.5 3 -1.4 5.9 -1.5 5 -1.5 3.1 -1.5 2.5 -1.4 1 -1.5-0.4 -1.5-2.8 -1.5-1.7 -1.5-0.6 -1.4-1.8 -1.5-2.2 -1.5-3.7 -1.5-3.3 -1.5-4.7 -1.4-4.1 -1.5-3 -1.5-1.9 -1.5 2.9 -1.4 4 -1.5 3.8 -1.5 3.3 -1.5 5.2 -1.5 3.2 -1.4 1.7 -1.5 2.1 -1.5-0.9 -1.5-2.1 -1.5 0.1 -1.4-1.3 -1.5-3.3 -1.5-5.5 -1.5-5.8 -1.4-4.1 -1.5-2.9 -1.5 2.3 -1.5 5 -1.5 5 -1.4 2.5 -1.5 5.1 -1.5-1.3 -1.5-4.6 -1.5-2.4 -1.4-5.3 -1.5-3.7 -1.5-0.2 -1.5 3.4 -1.4 3.3 -1.5 4.5 -1.5 3.6 -1.5-2.8 -1.5-5.5 -1.4-5.1 -1.5-2.7 -1.5 4.2 -1.5 1.7 -1.5 4.3 -1.4 5.2 -1.5 2 -1.5-1.9 -1.5-3.8 -1.4-4.7 -1.5-4.6 -1.5-1.9 -1.5-0.7 -1.5 3.9 -1.4 4.7 -1.5 3.7 -1.5 2.9 -1.5-2.3 -1.5-1.6 -1.4-2.3 -1.5-4 -1.5-1 -1.5-1.1 -1.4-0.5 -1.5 2.6 -1.5 0.9 -1.5 1.7 -1.5 1.6 -1.4 2.1 -1.5 0.8 -1.5-0.9 -1.5-1.9 -1.5-2.4 -1.4-1.9 -1.5-1.5 -1.5-1.3 -1.5 3.1 -1.5 1.9 -1.4 3 -1.5 0.9 -1.5-1.1 -1.5 0 -1.4 0.7 -1.5 1 -1.5 0 -1.5-2.4 -1.5-1.6 -1.4-1.5 -1.5-1 -1.5-0.1 -1.5 1.4 -1.5 0.3 -1.4 1.4 -1.5 1.1 -1.5-0.3 -1.5 0.1 -1.4-0.2 -1.5 0.4 -1.5 0 -1.5-1.1 -1.5 0.6 -1.4 0.3 -1.5 0.8 -1.5-0.6 -1.5 1.5 -1.5-4 -1.4-5.6 -1.5 1.5 -1.5 7.1 -1.5-3.1 -1.4-5.4 -1.5 1.3 -1.5 8.1 -1.5-4.2 -1.5-5.4 -1.4 2.6 -1.5 7.4 -1.5-3.8 -1.5-5.8 -1.5 2.4 -1.4 5.2 -1.5-1.7 -1.5-5.5 -1.5 0.8 -1.4 6.8 -1.5-2.1 -1.5-4.7 -1.5 0.5 -1.5 7 -1.4-3.1 -1.5-5.6 -1.5 0.9 -1.5 6.5 -1.5-2.4 -1.4-4.9 -1.5 0.5 -1.5 7 -1.5-1 -1.4-6.5 -1.5-0.3 -1.5 7.2 -1.5-1.6 -1.5-3.5 -1.4-2.7 -1.5 9.3 -1.5-1.3 -1.5-6 -1.5-2 -1.4 8.3 -1.5 1.1 -1.5-1.8 -1.5-1.4 -1.4-1.1 -1.5 0.9 -1.5 0.1 -1.5-1.3 -1.5 0.2 -1.4-1.3 -1.5 1.1 -1.5-2.1Z" fill="#c6e9c3" stroke="#8fd494" stroke-width="1" stroke-linejoin="round" fill-opacity="0.9"/>
<path d="M1083.8 809.6V941.5H1616.2" stroke="#5a5a5a" stroke-width="1.3" fill="none"/>
<path d="M1163.2 941.5v-5M1242.7 941.5v-5M1322.2 941.5v-5M1401.6 941.5v-5M1481.0 941.5v-5M1560.5 941.5v-5M1083.8 822.5h5.5M1083.8 848.9h5.5M1083.8 875.4h5.5M1083.8 901.9h5.5M1083.8 928.3h5.5" stroke="#5a5a5a" stroke-width="1.2" fill="none"/>
<text x="1044.0" y="830.0" font-size="21.22" fill="#454545" textLength="34.0" lengthAdjust="spacingAndGlyphs">200</text>
<text x="1044.0" y="856.4" font-size="21.22" fill="#454545" textLength="34.0" lengthAdjust="spacingAndGlyphs">100</text>
<text x="1066.7" y="882.9" font-size="21.22" fill="#454545" textLength="11.3" lengthAdjust="spacingAndGlyphs">0</text>
<text x="1037.2" y="909.4" font-size="21.22" fill="#454545" textLength="40.8" lengthAdjust="spacingAndGlyphs">-100</text>
<text x="1037.2" y="935.8" font-size="21.22" fill="#454545" textLength="40.8" lengthAdjust="spacingAndGlyphs">-200</text>
<text x="1078.1" y="965.0" font-size="21.22" fill="#454545" textLength="11.3" lengthAdjust="spacingAndGlyphs">0</text>
<text x="1151.9" y="965.0" font-size="21.22" fill="#454545" textLength="22.7" lengthAdjust="spacingAndGlyphs">10</text>
<text x="1231.4" y="965.0" font-size="21.22" fill="#454545" textLength="22.7" lengthAdjust="spacingAndGlyphs">20</text>
<text x="1310.8" y="965.0" font-size="21.22" fill="#454545" textLength="22.7" lengthAdjust="spacingAndGlyphs">30</text>
<text x="1390.3" y="965.0" font-size="21.22" fill="#454545" textLength="22.7" lengthAdjust="spacingAndGlyphs">40</text>
<text x="1469.7" y="965.0" font-size="21.22" fill="#454545" textLength="22.7" lengthAdjust="spacingAndGlyphs">50</text>
<text x="1549.2" y="965.0" font-size="21.22" fill="#454545" textLength="22.7" lengthAdjust="spacingAndGlyphs">60</text>
<text x="1339.7" y="989.7" font-size="22.88" fill="#454545" textLength="39.1" lengthAdjust="spacingAndGlyphs">t (h)</text>
<text x="1027.6" y="905.5" font-size="21.94" fill="#454545" transform="rotate(-90 1027.6 905.5)">x (µm)</text>
<text x="1270.2" y="805.0" font-size="28.8" fill="#111" textLength="140.1" lengthAdjust="spacingAndGlyphs">Experiment</text>
<rect x="1684.4" y="812.9" width="391.0" height="133.2" fill="#fff" stroke="#b0b0b0" stroke-width="1.2"/>
<path d="M1684.4 865.0 L1763.8 865.0 L1766.5 849.8 L2058.6 849.8 L2063.8 819.2 L2074.9 819.2 L2074.9 940.7 L1985.4 940.7 L1980.3 925.5 L1946.7 925.5 L1938.9 910.5 L1714.6 910.5 L1706.5 880.0 L1688.2 880.0 L1684.4 865.0Z" fill="#c4fbfb"/>
<path d="M1684.4 865.0 L1763.8 865.0M1766.5 849.8 L2058.6 849.8M2063.8 819.2 L2074.9 819.2 L2074.9 940.7 L1985.4 940.7M1980.3 925.5 L1946.7 925.5M1938.9 910.5 L1714.6 910.5M1706.5 880.0 L1688.2 880.0" fill="none" stroke="#a9a6f2" stroke-width="1" stroke-dasharray="7 2 1.5 2"/>
<path d="M1684.4 865.0 L1688.2 880.0 L1690.9 865.0 L1693.8 880.0 L1696.2 865.0 L1698.9 880.0 L1701.6 865.0 L1704.3 880.0 L1706.5 865.0 L1714.6 910.5 L1722.4 865.0 L1727.6 895.3 L1732.7 865.0 L1740.6 910.5 L1743.2 895.3 L1745.9 910.5 L1753.5 865.0 L1756.5 880.0 L1758.9 865.0 L1761.6 880.0 L1766.5 849.8 L1777.0 910.5 L1782.4 880.0 L1787.6 910.5 L1797.9 849.8 L1800.8 865.0 L1803.5 849.8 L1813.8 910.5 L1824.3 849.8 L1834.6 910.5 L1844.9 849.8 L1850.2 880.0 L1855.4 849.8 L1865.9 910.5 L1873.7 865.0 L1881.8 910.5 L1884.3 895.3 L1886.9 910.5 L1897.0 849.8 L1899.7 865.0 L1902.4 849.8 L1912.7 910.5 L1923.2 849.8 L1933.7 910.5 L1938.9 880.0 L1946.7 925.5 L1951.8 895.3 L1957.2 925.5 L1970.2 849.8 L1985.4 940.7 L1988.1 925.5 L1990.8 940.7 L2006.5 849.8 L2022.1 940.7 L2030.0 895.3 L2037.8 940.7 L2048.1 880.0 L2050.8 895.3 L2063.8 819.2 L2069.1 849.8 L2074.9 819.2" fill="none" stroke="#1c1cdc" stroke-width="1.5" stroke-linejoin="miter"/>
<path d="M1684.4 940.8h-1.6M1684.4 925.6h-3M1684.4 910.5h-1.6M1684.4 895.3h-3M1684.4 880.2h-1.6M1684.4 865.0h-3M1684.4 849.9h-1.6M1684.4 834.8h-3M1684.4 819.6h-1.6M1684.4 946.1v3M1812.5 946.1v3M1940.7 946.1v3M2068.8 946.1v3" stroke="#999" stroke-width="0.9"/>
<text x="1680.0" y="839.4" font-size="12.6" fill="#222" text-anchor="end" font-family='"DejaVu Sans", "Liberation Sans", sans-serif'>2</text>
<text x="1680.0" y="869.6" font-size="12.6" fill="#222" text-anchor="end" font-family='"DejaVu Sans", "Liberation Sans", sans-serif'>0</text>
<text x="1680.0" y="899.9" font-size="12.6" fill="#222" text-anchor="end" font-family='"DejaVu Sans", "Liberation Sans", sans-serif'>-2</text>
<text x="1680.0" y="930.2" font-size="12.6" fill="#222" text-anchor="end" font-family='"DejaVu Sans", "Liberation Sans", sans-serif'>-4</text>
<text x="1684.6" y="961.3" font-size="12.6" fill="#222" text-anchor="middle" font-family='"DejaVu Sans", "Liberation Sans", sans-serif'>0</text>
<text x="1812.4" y="961.3" font-size="12.6" fill="#222" text-anchor="middle" font-family='"DejaVu Sans", "Liberation Sans", sans-serif'>50</text>
<text x="1940.6" y="961.3" font-size="12.6" fill="#222" text-anchor="middle" font-family='"DejaVu Sans", "Liberation Sans", sans-serif'>100</text>
<text x="2074.4" y="961.3" font-size="12.6" fill="#222" text-anchor="middle" font-family='"DejaVu Sans", "Liberation Sans", sans-serif'>150</text>
<text x="1848.6" y="971.4" font-size="16.88" fill="#222" font-family='"DejaVu Sans", "Liberation Sans", sans-serif'>t (jumps)</text>
<text x="1659.2" y="940" font-size="16.36" fill="#222" font-family='"DejaVu Sans", "Liberation Sans", sans-serif' transform="rotate(-90 1659.2 940)">X(lattice sites)</text>
<text x="1818.1" y="804.6" font-size="30.45" fill="#111" textLength="79.8" lengthAdjust="spacingAndGlyphs">Model</text>
</g>
</svg>
</body></html>
